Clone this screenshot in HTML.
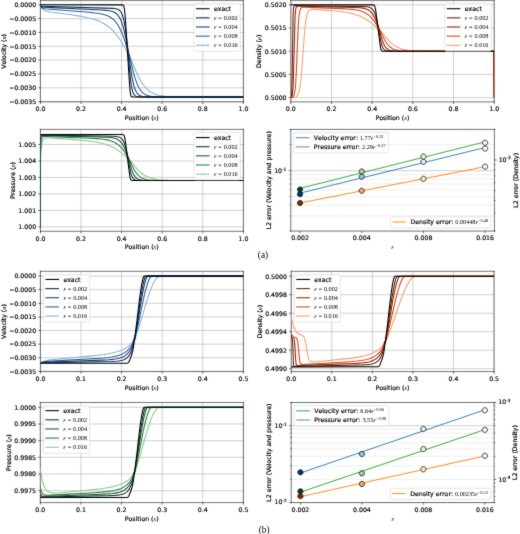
<!DOCTYPE html>
<html><head><meta charset="utf-8"><title>figure</title>
<style>html,body{margin:0;padding:0;background:#fff;width:520px;height:534px;overflow:hidden}svg{display:block}#fig{width:520px;height:534px}text{stroke:#000;stroke-width:0.3;stroke-linejoin:round}tspan[style*="Liberation Serif"]{stroke-width:0}#capa text,#capb text{stroke-width:0}</style></head><body>
<div id="fig"><svg width="520" height="534" viewBox="0 0 859.504132 882.644628" version="1.1">
 <defs>
  <style type="text/css">*{stroke-linejoin: round; stroke-linecap: butt}</style>
 </defs>
 <filter id="soft" x="0" y="0" width="1" height="1" color-interpolation-filters="sRGB"><feConvolveMatrix order="3" kernelMatrix="0.5 1 0.5 1 12 1 0.5 1 0.5" edgeMode="none" preserveAlpha="false"/></filter><g id="figure_1" filter="url(#soft)">
  <g id="patch_1">
   <path d="M 0 882.644628 
L 859.504132 882.644628 
L 859.504132 0 
L 0 0 
z
" style="fill: #ffffff"/>
  </g>
  <g id="axes_1">
   <g id="patch_2">
    <path d="M 66.77686 168.429752 
L 402.31405 168.429752 
L 402.31405 0.909091 
L 66.77686 0.909091 
z
" style="fill: #ffffff"/>
   </g>
   <g id="matplotlib.axis_1">
    <g id="xtick_1">
     <g id="line2d_1">
      <path d="M 66.77686 168.429752 
L 66.77686 0.909091 
" clip-path="url(#p1c1cfca3de)" style="fill: none; stroke: #b0b0b0; stroke-linecap: square"/>
     </g>
     <g id="line2d_2">
      <defs>
       <path id="md17ebd1823" d="M 0 0 
L 0 3.5 
" style="stroke: #000000; stroke-width: 0.9"/>
      </defs>
      <g>
       <use href="#md17ebd1823" x="66.77686" y="168.429752" style="stroke: #000000; stroke-width: 0.9"/>
      </g>
     </g>
     <g id="text_1">
      <text style="font-size: 10.3px; font-family: 'DejaVu Sans'; text-anchor: middle" x="66.77686" y="183.756143" transform="rotate(-0 66.77686 183.756143)">0.0</text>
     </g>
    </g>
    <g id="xtick_2">
     <g id="line2d_3">
      <path d="M 133.884298 168.429752 
L 133.884298 0.909091 
" clip-path="url(#p1c1cfca3de)" style="fill: none; stroke: #b0b0b0; stroke-linecap: square"/>
     </g>
     <g id="line2d_4">
      <g>
       <use href="#md17ebd1823" x="133.884298" y="168.429752" style="stroke: #000000; stroke-width: 0.9"/>
      </g>
     </g>
     <g id="text_2">
      <text style="font-size: 10.3px; font-family: 'DejaVu Sans'; text-anchor: middle" x="133.884298" y="183.756143" transform="rotate(-0 133.884298 183.756143)">0.2</text>
     </g>
    </g>
    <g id="xtick_3">
     <g id="line2d_5">
      <path d="M 200.991736 168.429752 
L 200.991736 0.909091 
" clip-path="url(#p1c1cfca3de)" style="fill: none; stroke: #b0b0b0; stroke-linecap: square"/>
     </g>
     <g id="line2d_6">
      <g>
       <use href="#md17ebd1823" x="200.991736" y="168.429752" style="stroke: #000000; stroke-width: 0.9"/>
      </g>
     </g>
     <g id="text_3">
      <text style="font-size: 10.3px; font-family: 'DejaVu Sans'; text-anchor: middle" x="200.991736" y="183.756143" transform="rotate(-0 200.991736 183.756143)">0.4</text>
     </g>
    </g>
    <g id="xtick_4">
     <g id="line2d_7">
      <path d="M 268.099174 168.429752 
L 268.099174 0.909091 
" clip-path="url(#p1c1cfca3de)" style="fill: none; stroke: #b0b0b0; stroke-linecap: square"/>
     </g>
     <g id="line2d_8">
      <g>
       <use href="#md17ebd1823" x="268.099174" y="168.429752" style="stroke: #000000; stroke-width: 0.9"/>
      </g>
     </g>
     <g id="text_4">
      <text style="font-size: 10.3px; font-family: 'DejaVu Sans'; text-anchor: middle" x="268.099174" y="183.756143" transform="rotate(-0 268.099174 183.756143)">0.6</text>
     </g>
    </g>
    <g id="xtick_5">
     <g id="line2d_9">
      <path d="M 335.206612 168.429752 
L 335.206612 0.909091 
" clip-path="url(#p1c1cfca3de)" style="fill: none; stroke: #b0b0b0; stroke-linecap: square"/>
     </g>
     <g id="line2d_10">
      <g>
       <use href="#md17ebd1823" x="335.206612" y="168.429752" style="stroke: #000000; stroke-width: 0.9"/>
      </g>
     </g>
     <g id="text_5">
      <text style="font-size: 10.3px; font-family: 'DejaVu Sans'; text-anchor: middle" x="335.206612" y="183.756143" transform="rotate(-0 335.206612 183.756143)">0.8</text>
     </g>
    </g>
    <g id="xtick_6">
     <g id="line2d_11">
      <path d="M 402.31405 168.429752 
L 402.31405 0.909091 
" clip-path="url(#p1c1cfca3de)" style="fill: none; stroke: #b0b0b0; stroke-linecap: square"/>
     </g>
     <g id="line2d_12">
      <g>
       <use href="#md17ebd1823" x="402.31405" y="168.429752" style="stroke: #000000; stroke-width: 0.9"/>
      </g>
     </g>
     <g id="text_6">
      <text style="font-size: 10.3px; font-family: 'DejaVu Sans'; text-anchor: middle" x="402.31405" y="183.756143" transform="rotate(-0 402.31405 183.756143)">1.0</text>
     </g>
    </g>
    <g id="text_7">
     <g transform="translate(206.323455 198.724611)">
      <text>
       <tspan x="0" y="-0.40625" style="font-size: 10.3px; font-family: 'DejaVu Sans'">P</tspan>
       <tspan x="6.18103" y="-0.40625" style="font-size: 10.3px; font-family: 'DejaVu Sans'">o</tspan>
       <tspan x="12.452148" y="-0.40625" style="font-size: 10.3px; font-family: 'DejaVu Sans'">s</tspan>
       <tspan x="17.792358" y="-0.40625" style="font-size: 10.3px; font-family: 'DejaVu Sans'">i</tspan>
       <tspan x="20.640137" y="-0.40625" style="font-size: 10.3px; font-family: 'DejaVu Sans'">t</tspan>
       <tspan x="24.659058" y="-0.40625" style="font-size: 10.3px; font-family: 'DejaVu Sans'">i</tspan>
       <tspan x="27.506836" y="-0.40625" style="font-size: 10.3px; font-family: 'DejaVu Sans'">o</tspan>
       <tspan x="33.777954" y="-0.40625" style="font-size: 10.3px; font-family: 'DejaVu Sans'">n</tspan>
       <tspan x="40.274292" y="-0.40625" style="font-size: 10.3px; font-family: 'DejaVu Sans'"> </tspan>
       <tspan x="43.532471" y="-0.40625" style="font-size: 10.3px; font-family: 'DejaVu Sans'">(</tspan>
       <tspan x="52.080811" y="-0.40625" style="font-size: 10.3px; font-family: 'DejaVu Sans'">)</tspan>
       <tspan x="47.531372" y="-0.40625" style="font-style: italic; font-size: 10.3px; font-family: 'Liberation Serif'">x</tspan>
      </text>
     </g>
    </g>
   </g>
   <g id="matplotlib.axis_2">
    <g id="ytick_1">
     <g id="line2d_13">
      <path d="M 66.77686 167.933884 
L 402.31405 167.933884 
" clip-path="url(#p1c1cfca3de)" style="fill: none; stroke: #b0b0b0; stroke-linecap: square"/>
     </g>
     <g id="line2d_14">
      <defs>
       <path id="md33abd68d2" d="M 0 0 
L -3.5 0 
" style="stroke: #000000; stroke-width: 0.9"/>
      </defs>
      <g>
       <use href="#md33abd68d2" x="66.77686" y="167.933884" style="stroke: #000000; stroke-width: 0.9"/>
      </g>
     </g>
     <g id="text_8">
      <text style="font-size: 10.3px; font-family: 'DejaVu Sans'; text-anchor: end" x="59.77686" y="171.84708" transform="rotate(-0 59.77686 171.84708)">−0.0035</text>
     </g>
    </g>
    <g id="ytick_2">
     <g id="line2d_15">
      <path d="M 66.77686 145.076741 
L 402.31405 145.076741 
" clip-path="url(#p1c1cfca3de)" style="fill: none; stroke: #b0b0b0; stroke-linecap: square"/>
     </g>
     <g id="line2d_16">
      <g>
       <use href="#md33abd68d2" x="66.77686" y="145.076741" style="stroke: #000000; stroke-width: 0.9"/>
      </g>
     </g>
     <g id="text_9">
      <text style="font-size: 10.3px; font-family: 'DejaVu Sans'; text-anchor: end" x="59.77686" y="148.989937" transform="rotate(-0 59.77686 148.989937)">−0.0030</text>
     </g>
    </g>
    <g id="ytick_3">
     <g id="line2d_17">
      <path d="M 66.77686 122.219599 
L 402.31405 122.219599 
" clip-path="url(#p1c1cfca3de)" style="fill: none; stroke: #b0b0b0; stroke-linecap: square"/>
     </g>
     <g id="line2d_18">
      <g>
       <use href="#md33abd68d2" x="66.77686" y="122.219599" style="stroke: #000000; stroke-width: 0.9"/>
      </g>
     </g>
     <g id="text_10">
      <text style="font-size: 10.3px; font-family: 'DejaVu Sans'; text-anchor: end" x="59.77686" y="126.132794" transform="rotate(-0 59.77686 126.132794)">−0.0025</text>
     </g>
    </g>
    <g id="ytick_4">
     <g id="line2d_19">
      <path d="M 66.77686 99.362456 
L 402.31405 99.362456 
" clip-path="url(#p1c1cfca3de)" style="fill: none; stroke: #b0b0b0; stroke-linecap: square"/>
     </g>
     <g id="line2d_20">
      <g>
       <use href="#md33abd68d2" x="66.77686" y="99.362456" style="stroke: #000000; stroke-width: 0.9"/>
      </g>
     </g>
     <g id="text_11">
      <text style="font-size: 10.3px; font-family: 'DejaVu Sans'; text-anchor: end" x="59.77686" y="103.275651" transform="rotate(-0 59.77686 103.275651)">−0.0020</text>
     </g>
    </g>
    <g id="ytick_5">
     <g id="line2d_21">
      <path d="M 66.77686 76.505313 
L 402.31405 76.505313 
" clip-path="url(#p1c1cfca3de)" style="fill: none; stroke: #b0b0b0; stroke-linecap: square"/>
     </g>
     <g id="line2d_22">
      <g>
       <use href="#md33abd68d2" x="66.77686" y="76.505313" style="stroke: #000000; stroke-width: 0.9"/>
      </g>
     </g>
     <g id="text_12">
      <text style="font-size: 10.3px; font-family: 'DejaVu Sans'; text-anchor: end" x="59.77686" y="80.418508" transform="rotate(-0 59.77686 80.418508)">−0.0015</text>
     </g>
    </g>
    <g id="ytick_6">
     <g id="line2d_23">
      <path d="M 66.77686 53.64817 
L 402.31405 53.64817 
" clip-path="url(#p1c1cfca3de)" style="fill: none; stroke: #b0b0b0; stroke-linecap: square"/>
     </g>
     <g id="line2d_24">
      <g>
       <use href="#md33abd68d2" x="66.77686" y="53.64817" style="stroke: #000000; stroke-width: 0.9"/>
      </g>
     </g>
     <g id="text_13">
      <text style="font-size: 10.3px; font-family: 'DejaVu Sans'; text-anchor: end" x="59.77686" y="57.561365" transform="rotate(-0 59.77686 57.561365)">−0.0010</text>
     </g>
    </g>
    <g id="ytick_7">
     <g id="line2d_25">
      <path d="M 66.77686 30.791027 
L 402.31405 30.791027 
" clip-path="url(#p1c1cfca3de)" style="fill: none; stroke: #b0b0b0; stroke-linecap: square"/>
     </g>
     <g id="line2d_26">
      <g>
       <use href="#md33abd68d2" x="66.77686" y="30.791027" style="stroke: #000000; stroke-width: 0.9"/>
      </g>
     </g>
     <g id="text_14">
      <text style="font-size: 10.3px; font-family: 'DejaVu Sans'; text-anchor: end" x="59.77686" y="34.704222" transform="rotate(-0 59.77686 34.704222)">−0.0005</text>
     </g>
    </g>
    <g id="ytick_8">
     <g id="line2d_27">
      <path d="M 66.77686 7.933884 
L 402.31405 7.933884 
" clip-path="url(#p1c1cfca3de)" style="fill: none; stroke: #b0b0b0; stroke-linecap: square"/>
     </g>
     <g id="line2d_28">
      <g>
       <use href="#md33abd68d2" x="66.77686" y="7.933884" style="stroke: #000000; stroke-width: 0.9"/>
      </g>
     </g>
     <g id="text_15">
      <text style="font-size: 10.3px; font-family: 'DejaVu Sans'; text-anchor: end" x="59.77686" y="11.84708" transform="rotate(-0 59.77686 11.84708)">0.0000</text>
     </g>
    </g>
    <g id="text_16">
     <g transform="translate(9.642438 113.509421) rotate(-90)">
      <text>
       <tspan x="0" y="-0.40625" style="font-size: 10.3px; font-family: 'DejaVu Sans'">V</tspan>
       <tspan x="7.011841" y="-0.40625" style="font-size: 10.3px; font-family: 'DejaVu Sans'">e</tspan>
       <tspan x="13.317993" y="-0.40625" style="font-size: 10.3px; font-family: 'DejaVu Sans'">l</tspan>
       <tspan x="16.165771" y="-0.40625" style="font-size: 10.3px; font-family: 'DejaVu Sans'">o</tspan>
       <tspan x="22.43689" y="-0.40625" style="font-size: 10.3px; font-family: 'DejaVu Sans'">c</tspan>
       <tspan x="28.072388" y="-0.40625" style="font-size: 10.3px; font-family: 'DejaVu Sans'">i</tspan>
       <tspan x="30.920166" y="-0.40625" style="font-size: 10.3px; font-family: 'DejaVu Sans'">t</tspan>
       <tspan x="34.939087" y="-0.40625" style="font-size: 10.3px; font-family: 'DejaVu Sans'">y</tspan>
       <tspan x="41.005005" y="-0.40625" style="font-size: 10.3px; font-family: 'DejaVu Sans'"> </tspan>
       <tspan x="44.263184" y="-0.40625" style="font-size: 10.3px; font-family: 'DejaVu Sans'">(</tspan>
       <tspan x="53.387085" y="-0.40625" style="font-size: 10.3px; font-family: 'DejaVu Sans'">)</tspan>
       <tspan x="48.262085" y="-0.40625" style="font-style: italic; font-size: 10.3px; font-family: 'Liberation Serif'">u</tspan>
      </text>
     </g>
    </g>
   </g>
   <g id="patch_3">
    <path d="M 66.77686 168.429752 
L 66.77686 0.909091 
" style="fill: none; stroke: #000000; stroke-width: 0.9; stroke-linejoin: miter; stroke-linecap: square"/>
   </g>
   <g id="patch_4">
    <path d="M 402.31405 168.429752 
L 402.31405 0.909091 
" style="fill: none; stroke: #000000; stroke-width: 0.9; stroke-linejoin: miter; stroke-linecap: square"/>
   </g>
   <g id="patch_5">
    <path d="M 66.77686 168.429752 
L 402.31405 168.429752 
" style="fill: none; stroke: #000000; stroke-width: 0.9; stroke-linejoin: miter; stroke-linecap: square"/>
   </g>
   <g id="patch_6">
    <path d="M 66.77686 0.909091 
L 402.31405 0.909091 
" style="fill: none; stroke: #000000; stroke-width: 0.9; stroke-linejoin: miter; stroke-linecap: square"/>
   </g>
   <g id="line2d_29">
    <path d="M 66.77686 7.953848 
L 67.783471 10.553585 
L 68.790083 12.535551 
L 69.796694 14.053743 
L 70.88719 15.308532 
L 72.06157 16.32716 
L 73.403719 17.19098 
L 74.997521 17.9344 
L 76.92686 18.574779 
L 79.527273 19.183942 
L 83.469835 19.851527 
L 91.690496 20.965093 
L 117.359091 24.402408 
L 129.270661 26.228348 
L 137.994628 27.780692 
L 144.957025 29.237235 
L 150.828926 30.68894 
L 155.861983 32.157823 
L 160.307851 33.681265 
L 164.334298 35.29123 
L 168.025207 37.001683 
L 171.464463 38.835969 
L 174.73595 40.831661 
L 177.839669 42.98364 
L 180.859504 45.349289 
L 183.795455 47.933555 
L 186.647521 50.735994 
L 189.499587 53.84609 
L 192.435537 57.384856 
L 195.371488 61.274702 
L 198.475207 65.767772 
L 201.746694 70.910699 
L 205.269835 76.872471 
L 209.380165 84.280615 
L 215.252066 95.376654 
L 217.097521 99.121707 
L 222.382231 112.33803 
L 225.653719 119.933372 
L 228.421901 125.828948 
L 231.022314 130.851681 
L 233.454959 135.069996 
L 235.803719 138.698263 
L 238.068595 141.793959 
L 240.333471 144.514129 
L 242.598347 146.885249 
L 244.863223 148.937668 
L 247.211983 150.763754 
L 249.644628 152.368186 
L 252.161157 153.760811 
L 254.845455 154.990307 
L 257.697521 156.053654 
L 260.885124 156.99925 
L 264.408264 157.806583 
L 268.434711 158.49409 
L 273.132231 159.062953 
L 278.836364 159.520134 
L 286.134298 159.86863 
L 296.200413 160.109686 
L 312.390083 160.248884 
L 351.060744 160.297442 
L 402.31405 160.299566 
L 402.31405 160.299566 
" clip-path="url(#p1c1cfca3de)" style="fill: none; stroke: #86b4d8; stroke-width: 1.8; stroke-linecap: square"/>
   </g>
   <g id="line2d_30">
    <path d="M 66.77686 7.933963 
L 67.447934 9.960554 
L 68.119008 11.346911 
L 68.873967 12.396719 
L 69.71281 13.15414 
L 70.635537 13.681281 
L 71.809917 14.087914 
L 73.487603 14.416056 
L 76.507438 14.744277 
L 87.66405 15.60733 
L 141.93719 19.81877 
L 153.513223 20.934723 
L 160.727273 21.843505 
L 166.011983 22.725969 
L 170.206198 23.644878 
L 173.729339 24.639549 
L 176.749174 25.716051 
L 179.433471 26.900802 
L 181.866116 28.208405 
L 184.130992 29.67106 
L 186.311983 31.347667 
L 188.325207 33.169792 
L 190.33843 35.296613 
L 192.267769 37.659721 
L 194.197107 40.378745 
L 196.126446 43.489326 
L 198.055785 47.022716 
L 200.069008 51.185928 
L 202.166116 56.053825 
L 204.347107 61.684881 
L 206.779752 68.603285 
L 209.631818 77.432798 
L 213.658264 90.721135 
L 214.580992 94.193701 
L 218.439669 111.126793 
L 220.78843 120.448409 
L 222.801653 127.552454 
L 224.647107 133.261214 
L 226.408678 137.981584 
L 228.086364 141.839651 
L 229.680165 144.96928 
L 231.273967 147.625976 
L 232.867769 149.862438 
L 234.46157 151.731917 
L 236.139256 153.359363 
L 237.900826 154.751182 
L 239.746281 155.921154 
L 241.759504 156.925339 
L 243.940496 157.760116 
L 246.37314 158.453445 
L 249.225207 159.031566 
L 252.664463 159.494907 
L 257.026446 159.848401 
L 263.066116 160.097451 
L 272.628926 160.243009 
L 294.522727 160.296538 
L 402.31405 160.299599 
L 402.31405 160.299599 
" clip-path="url(#p1c1cfca3de)" style="fill: none; stroke: #2d5f94; stroke-width: 1.8; stroke-linecap: square"/>
   </g>
   <g id="line2d_31">
    <path d="M 66.77686 7.933884 
L 67.280165 9.637667 
L 67.783471 10.589062 
L 68.370661 11.188378 
L 69.041736 11.532653 
L 70.048347 11.75966 
L 72.06157 11.924891 
L 86.405785 12.598649 
L 168.360744 16.516071 
L 175.490909 17.0842 
L 179.852893 17.639464 
L 183.12438 18.273889 
L 185.724793 19.003301 
L 187.905785 19.846635 
L 189.75124 20.790148 
L 191.428926 21.889749 
L 193.022727 23.206655 
L 194.532645 24.759069 
L 195.958678 26.557291 
L 197.300826 28.601209 
L 198.642975 31.043852 
L 199.985124 33.944635 
L 201.327273 37.362384 
L 202.753306 41.619879 
L 204.263223 46.884484 
L 205.857025 53.315437 
L 207.534711 61.028984 
L 209.547934 71.401368 
L 212.4 87.446717 
L 212.98719 91.331763 
L 215.755372 112.012235 
L 217.433058 122.944829 
L 218.859091 130.88211 
L 220.20124 137.146953 
L 221.459504 142.000618 
L 222.717769 145.959696 
L 223.892149 148.949407 
L 225.066529 151.359538 
L 226.240909 153.285438 
L 227.415289 154.813607 
L 228.673554 156.094977 
L 230.015702 157.14132 
L 231.441736 157.974135 
L 233.035537 158.650975 
L 234.880992 159.194529 
L 237.145868 159.624399 
L 240.081818 159.943689 
L 244.276033 160.157263 
L 251.490083 160.270228 
L 273.467769 160.299359 
L 402.31405 160.299599 
L 402.31405 160.299599 
" clip-path="url(#p1c1cfca3de)" style="fill: none; stroke: #173f73; stroke-width: 1.8; stroke-linecap: square"/>
   </g>
   <g id="line2d_32">
    <path d="M 66.77686 7.933884 
L 67.112397 9.211294 
L 67.447934 9.792929 
L 67.867355 10.101309 
L 68.53843 10.259002 
L 70.383884 10.346733 
L 187.402479 13.913247 
L 190.673967 14.310564 
L 192.938843 14.805443 
L 194.700413 15.420255 
L 196.126446 16.151215 
L 197.384711 17.04722 
L 198.559091 18.174668 
L 199.649587 19.554729 
L 200.656198 21.19435 
L 201.66281 23.274093 
L 202.669421 25.894455 
L 203.676033 29.166696 
L 204.682645 33.206416 
L 205.77314 38.57445 
L 206.863636 45.076136 
L 208.121901 54.03559 
L 209.547934 65.936126 
L 211.561157 84.893159 
L 212.064463 90.645369 
L 213.993802 114.613121 
L 215.252066 127.521643 
L 216.342562 136.426089 
L 217.349174 142.815875 
L 218.271901 147.319533 
L 219.194628 150.749375 
L 220.117355 153.32052 
L 221.040083 155.225227 
L 221.96281 156.623871 
L 222.885537 157.644284 
L 223.892149 158.441486 
L 225.066529 159.076993 
L 226.408678 159.543215 
L 228.086364 159.885278 
L 230.435124 160.121508 
L 234.293802 160.255192 
L 244.02438 160.298264 
L 402.31405 160.299599 
L 402.31405 160.299599 
" clip-path="url(#p1c1cfca3de)" style="fill: none; stroke: #0b2a58; stroke-width: 1.8; stroke-linecap: square"/>
   </g>
   <g id="line2d_33">
    <path d="M 66.77686 7.933884 
L 202.333884 8.034705 
L 203.172727 8.245227 
L 203.759917 8.61306 
L 204.179339 9.107835 
L 204.59876 9.934154 
L 205.018182 11.266489 
L 205.437603 13.307657 
L 205.940909 16.931437 
L 206.528099 22.86986 
L 207.366942 33.876904 
L 208.960744 58.443992 
L 214.245455 141.248712 
L 215.084298 150.56403 
L 215.671488 154.925826 
L 216.174793 157.283617 
L 216.678099 158.679802 
L 217.181405 159.453116 
L 217.768595 159.91009 
L 218.523554 160.158063 
L 219.781818 160.273735 
L 223.892149 160.2995 
L 402.31405 160.299599 
L 402.31405 160.299599 
" clip-path="url(#p1c1cfca3de)" style="fill: none; stroke: #000000; stroke-width: 1.8; stroke-linecap: square"/>
   </g>
   <g id="legend_1">
    <g id="patch_7">
     <path d="M 322.79805 84.741435 
L 395.10405 84.741435 
Q 397.16405 84.741435 397.16405 82.681435 
L 397.16405 8.119091 
Q 397.16405 6.059091 395.10405 6.059091 
L 322.79805 6.059091 
Q 320.73805 6.059091 320.73805 8.119091 
L 320.73805 82.681435 
Q 320.73805 84.741435 322.79805 84.741435 
z
" style="fill: #ffffff; opacity: 0.8; stroke: #cccccc; stroke-linejoin: miter"/>
    </g>
    <g id="line2d_34">
     <path d="M 324.85805 14.400482 
L 335.15805 14.400482 
L 345.45805 14.400482 
" style="fill: none; stroke: #000000; stroke-width: 1.8; stroke-linecap: square"/>
    </g>
    <g id="text_17">
     <text style="font-size: 10.3px; font-family: 'DejaVu Sans'; text-anchor: start" x="353.69805" y="18.005482" transform="rotate(-0 353.69805 18.005482)">exact</text>
    </g>
    <g id="line2d_35">
     <path d="M 324.85805 29.51895 
L 335.15805 29.51895 
L 345.45805 29.51895 
" style="fill: none; stroke: #0b2a58; stroke-width: 1.8; stroke-linecap: square"/>
    </g>
    <g id="text_18">
     <g transform="translate(353.69805 33.12395)">
      <text>
       <tspan x="0" y="-0.34375" style="font-style: italic; font-size: 10.3px; font-family: 'Liberation Serif'">ε</tspan>
       <tspan x="7.164306" y="-0.34375" style="font-size: 10.3px; font-family: 'Liberation Serif'">=</tspan>
       <tspan x="16.070312" y="-0.34375" style="font-size: 10.3px; font-family: 'Liberation Serif'">0</tspan>
       <tspan x="21.195312" y="-0.34375" style="font-size: 10.3px; font-family: 'Liberation Serif'">.</tspan>
       <tspan x="23.757812" y="-0.34375" style="font-size: 10.3px; font-family: 'Liberation Serif'">0</tspan>
       <tspan x="28.882812" y="-0.34375" style="font-size: 10.3px; font-family: 'Liberation Serif'">0</tspan>
       <tspan x="34.007812" y="-0.34375" style="font-size: 10.3px; font-family: 'Liberation Serif'">2</tspan>
      </text>
     </g>
    </g>
    <g id="line2d_36">
     <path d="M 324.85805 44.637419 
L 335.15805 44.637419 
L 345.45805 44.637419 
" style="fill: none; stroke: #173f73; stroke-width: 1.8; stroke-linecap: square"/>
    </g>
    <g id="text_19">
     <g transform="translate(353.69805 48.242419)">
      <text>
       <tspan x="0" y="-0.34375" style="font-style: italic; font-size: 10.3px; font-family: 'Liberation Serif'">ε</tspan>
       <tspan x="7.164306" y="-0.34375" style="font-size: 10.3px; font-family: 'Liberation Serif'">=</tspan>
       <tspan x="16.070312" y="-0.34375" style="font-size: 10.3px; font-family: 'Liberation Serif'">0</tspan>
       <tspan x="21.195312" y="-0.34375" style="font-size: 10.3px; font-family: 'Liberation Serif'">.</tspan>
       <tspan x="23.757812" y="-0.34375" style="font-size: 10.3px; font-family: 'Liberation Serif'">0</tspan>
       <tspan x="28.882812" y="-0.34375" style="font-size: 10.3px; font-family: 'Liberation Serif'">0</tspan>
       <tspan x="34.007812" y="-0.34375" style="font-size: 10.3px; font-family: 'Liberation Serif'">4</tspan>
      </text>
     </g>
    </g>
    <g id="line2d_37">
     <path d="M 324.85805 59.755888 
L 335.15805 59.755888 
L 345.45805 59.755888 
" style="fill: none; stroke: #2d5f94; stroke-width: 1.8; stroke-linecap: square"/>
    </g>
    <g id="text_20">
     <g transform="translate(353.69805 63.360888)">
      <text>
       <tspan x="0" y="-0.34375" style="font-style: italic; font-size: 10.3px; font-family: 'Liberation Serif'">ε</tspan>
       <tspan x="7.164306" y="-0.34375" style="font-size: 10.3px; font-family: 'Liberation Serif'">=</tspan>
       <tspan x="16.070312" y="-0.34375" style="font-size: 10.3px; font-family: 'Liberation Serif'">0</tspan>
       <tspan x="21.195312" y="-0.34375" style="font-size: 10.3px; font-family: 'Liberation Serif'">.</tspan>
       <tspan x="23.757812" y="-0.34375" style="font-size: 10.3px; font-family: 'Liberation Serif'">0</tspan>
       <tspan x="28.882812" y="-0.34375" style="font-size: 10.3px; font-family: 'Liberation Serif'">0</tspan>
       <tspan x="34.007812" y="-0.34375" style="font-size: 10.3px; font-family: 'Liberation Serif'">8</tspan>
      </text>
     </g>
    </g>
    <g id="line2d_38">
     <path d="M 324.85805 74.874357 
L 335.15805 74.874357 
L 345.45805 74.874357 
" style="fill: none; stroke: #86b4d8; stroke-width: 1.8; stroke-linecap: square"/>
    </g>
    <g id="text_21">
     <g transform="translate(353.69805 78.479357)">
      <text>
       <tspan x="0" y="-0.34375" style="font-style: italic; font-size: 10.3px; font-family: 'Liberation Serif'">ε</tspan>
       <tspan x="7.164306" y="-0.34375" style="font-size: 10.3px; font-family: 'Liberation Serif'">=</tspan>
       <tspan x="16.070312" y="-0.34375" style="font-size: 10.3px; font-family: 'Liberation Serif'">0</tspan>
       <tspan x="21.195312" y="-0.34375" style="font-size: 10.3px; font-family: 'Liberation Serif'">.</tspan>
       <tspan x="23.757812" y="-0.34375" style="font-size: 10.3px; font-family: 'Liberation Serif'">0</tspan>
       <tspan x="28.882812" y="-0.34375" style="font-size: 10.3px; font-family: 'Liberation Serif'">1</tspan>
       <tspan x="34.007812" y="-0.34375" style="font-size: 10.3px; font-family: 'Liberation Serif'">6</tspan>
      </text>
     </g>
    </g>
   </g>
  </g>
  <g id="axes_2">
   <g id="patch_8">
    <path d="M 480.661157 168.429752 
L 816.859504 168.429752 
L 816.859504 0.909091 
L 480.661157 0.909091 
z
" style="fill: #ffffff"/>
   </g>
   <g id="matplotlib.axis_3">
    <g id="xtick_7">
     <g id="line2d_39">
      <path d="M 480.661157 168.429752 
L 480.661157 0.909091 
" clip-path="url(#p48ea57be88)" style="fill: none; stroke: #b0b0b0; stroke-linecap: square"/>
     </g>
     <g id="line2d_40">
      <g>
       <use href="#md17ebd1823" x="480.661157" y="168.429752" style="stroke: #000000; stroke-width: 0.9"/>
      </g>
     </g>
     <g id="text_22">
      <text style="font-size: 10.3px; font-family: 'DejaVu Sans'; text-anchor: middle" x="480.661157" y="183.756143" transform="rotate(-0 480.661157 183.756143)">0.0</text>
     </g>
    </g>
    <g id="xtick_8">
     <g id="line2d_41">
      <path d="M 547.900826 168.429752 
L 547.900826 0.909091 
" clip-path="url(#p48ea57be88)" style="fill: none; stroke: #b0b0b0; stroke-linecap: square"/>
     </g>
     <g id="line2d_42">
      <g>
       <use href="#md17ebd1823" x="547.900826" y="168.429752" style="stroke: #000000; stroke-width: 0.9"/>
      </g>
     </g>
     <g id="text_23">
      <text style="font-size: 10.3px; font-family: 'DejaVu Sans'; text-anchor: middle" x="547.900826" y="183.756143" transform="rotate(-0 547.900826 183.756143)">0.2</text>
     </g>
    </g>
    <g id="xtick_9">
     <g id="line2d_43">
      <path d="M 615.140496 168.429752 
L 615.140496 0.909091 
" clip-path="url(#p48ea57be88)" style="fill: none; stroke: #b0b0b0; stroke-linecap: square"/>
     </g>
     <g id="line2d_44">
      <g>
       <use href="#md17ebd1823" x="615.140496" y="168.429752" style="stroke: #000000; stroke-width: 0.9"/>
      </g>
     </g>
     <g id="text_24">
      <text style="font-size: 10.3px; font-family: 'DejaVu Sans'; text-anchor: middle" x="615.140496" y="183.756143" transform="rotate(-0 615.140496 183.756143)">0.4</text>
     </g>
    </g>
    <g id="xtick_10">
     <g id="line2d_45">
      <path d="M 682.380165 168.429752 
L 682.380165 0.909091 
" clip-path="url(#p48ea57be88)" style="fill: none; stroke: #b0b0b0; stroke-linecap: square"/>
     </g>
     <g id="line2d_46">
      <g>
       <use href="#md17ebd1823" x="682.380165" y="168.429752" style="stroke: #000000; stroke-width: 0.9"/>
      </g>
     </g>
     <g id="text_25">
      <text style="font-size: 10.3px; font-family: 'DejaVu Sans'; text-anchor: middle" x="682.380165" y="183.756143" transform="rotate(-0 682.380165 183.756143)">0.6</text>
     </g>
    </g>
    <g id="xtick_11">
     <g id="line2d_47">
      <path d="M 749.619835 168.429752 
L 749.619835 0.909091 
" clip-path="url(#p48ea57be88)" style="fill: none; stroke: #b0b0b0; stroke-linecap: square"/>
     </g>
     <g id="line2d_48">
      <g>
       <use href="#md17ebd1823" x="749.619835" y="168.429752" style="stroke: #000000; stroke-width: 0.9"/>
      </g>
     </g>
     <g id="text_26">
      <text style="font-size: 10.3px; font-family: 'DejaVu Sans'; text-anchor: middle" x="749.619835" y="183.756143" transform="rotate(-0 749.619835 183.756143)">0.8</text>
     </g>
    </g>
    <g id="xtick_12">
     <g id="line2d_49">
      <path d="M 816.859504 168.429752 
L 816.859504 0.909091 
" clip-path="url(#p48ea57be88)" style="fill: none; stroke: #b0b0b0; stroke-linecap: square"/>
     </g>
     <g id="line2d_50">
      <g>
       <use href="#md17ebd1823" x="816.859504" y="168.429752" style="stroke: #000000; stroke-width: 0.9"/>
      </g>
     </g>
     <g id="text_27">
      <text style="font-size: 10.3px; font-family: 'DejaVu Sans'; text-anchor: middle" x="816.859504" y="183.756143" transform="rotate(-0 816.859504 183.756143)">1.0</text>
     </g>
    </g>
    <g id="text_28">
     <g transform="translate(620.538331 198.724611)">
      <text>
       <tspan x="0" y="-0.40625" style="font-size: 10.3px; font-family: 'DejaVu Sans'">P</tspan>
       <tspan x="6.18103" y="-0.40625" style="font-size: 10.3px; font-family: 'DejaVu Sans'">o</tspan>
       <tspan x="12.452148" y="-0.40625" style="font-size: 10.3px; font-family: 'DejaVu Sans'">s</tspan>
       <tspan x="17.792358" y="-0.40625" style="font-size: 10.3px; font-family: 'DejaVu Sans'">i</tspan>
       <tspan x="20.640137" y="-0.40625" style="font-size: 10.3px; font-family: 'DejaVu Sans'">t</tspan>
       <tspan x="24.659058" y="-0.40625" style="font-size: 10.3px; font-family: 'DejaVu Sans'">i</tspan>
       <tspan x="27.506836" y="-0.40625" style="font-size: 10.3px; font-family: 'DejaVu Sans'">o</tspan>
       <tspan x="33.777954" y="-0.40625" style="font-size: 10.3px; font-family: 'DejaVu Sans'">n</tspan>
       <tspan x="40.274292" y="-0.40625" style="font-size: 10.3px; font-family: 'DejaVu Sans'"> </tspan>
       <tspan x="43.532471" y="-0.40625" style="font-size: 10.3px; font-family: 'DejaVu Sans'">(</tspan>
       <tspan x="52.080811" y="-0.40625" style="font-size: 10.3px; font-family: 'DejaVu Sans'">)</tspan>
       <tspan x="47.531372" y="-0.40625" style="font-style: italic; font-size: 10.3px; font-family: 'Liberation Serif'">x</tspan>
      </text>
     </g>
    </g>
   </g>
   <g id="matplotlib.axis_4">
    <g id="ytick_9">
     <g id="line2d_51">
      <path d="M 480.661157 161.487603 
L 816.859504 161.487603 
" clip-path="url(#p48ea57be88)" style="fill: none; stroke: #b0b0b0; stroke-linecap: square"/>
     </g>
     <g id="line2d_52">
      <g>
       <use href="#md33abd68d2" x="480.661157" y="161.487603" style="stroke: #000000; stroke-width: 0.9"/>
      </g>
     </g>
     <g id="text_29">
      <text style="font-size: 10.3px; font-family: 'DejaVu Sans'; text-anchor: end" x="473.661157" y="165.400799" transform="rotate(-0 473.661157 165.400799)">0.5000</text>
     </g>
    </g>
    <g id="ytick_10">
     <g id="line2d_53">
      <path d="M 480.661157 123.099174 
L 816.859504 123.099174 
" clip-path="url(#p48ea57be88)" style="fill: none; stroke: #b0b0b0; stroke-linecap: square"/>
     </g>
     <g id="line2d_54">
      <g>
       <use href="#md33abd68d2" x="480.661157" y="123.099174" style="stroke: #000000; stroke-width: 0.9"/>
      </g>
     </g>
     <g id="text_30">
      <text style="font-size: 10.3px; font-family: 'DejaVu Sans'; text-anchor: end" x="473.661157" y="127.012369" transform="rotate(-0 473.661157 127.012369)">0.5005</text>
     </g>
    </g>
    <g id="ytick_11">
     <g id="line2d_55">
      <path d="M 480.661157 84.710744 
L 816.859504 84.710744 
" clip-path="url(#p48ea57be88)" style="fill: none; stroke: #b0b0b0; stroke-linecap: square"/>
     </g>
     <g id="line2d_56">
      <g>
       <use href="#md33abd68d2" x="480.661157" y="84.710744" style="stroke: #000000; stroke-width: 0.9"/>
      </g>
     </g>
     <g id="text_31">
      <text style="font-size: 10.3px; font-family: 'DejaVu Sans'; text-anchor: end" x="473.661157" y="88.623939" transform="rotate(-0 473.661157 88.623939)">0.5010</text>
     </g>
    </g>
    <g id="ytick_12">
     <g id="line2d_57">
      <path d="M 480.661157 46.322314 
L 816.859504 46.322314 
" clip-path="url(#p48ea57be88)" style="fill: none; stroke: #b0b0b0; stroke-linecap: square"/>
     </g>
     <g id="line2d_58">
      <g>
       <use href="#md33abd68d2" x="480.661157" y="46.322314" style="stroke: #000000; stroke-width: 0.9"/>
      </g>
     </g>
     <g id="text_32">
      <text style="font-size: 10.3px; font-family: 'DejaVu Sans'; text-anchor: end" x="473.661157" y="50.235509" transform="rotate(-0 473.661157 50.235509)">0.5015</text>
     </g>
    </g>
    <g id="ytick_13">
     <g id="line2d_59">
      <path d="M 480.661157 7.933884 
L 816.859504 7.933884 
" clip-path="url(#p48ea57be88)" style="fill: none; stroke: #b0b0b0; stroke-linecap: square"/>
     </g>
     <g id="line2d_60">
      <g>
       <use href="#md33abd68d2" x="480.661157" y="7.933884" style="stroke: #000000; stroke-width: 0.9"/>
      </g>
     </g>
     <g id="text_33">
      <text style="font-size: 10.3px; font-family: 'DejaVu Sans'; text-anchor: end" x="473.661157" y="11.84708" transform="rotate(-0 473.661157 11.84708)">0.5020</text>
     </g>
    </g>
    <g id="text_34">
     <g transform="translate(432.054813 112.376421) rotate(-90)">
      <text>
       <tspan x="0" y="-0.40625" style="font-size: 10.3px; font-family: 'DejaVu Sans'">D</tspan>
       <tspan x="7.8927" y="-0.40625" style="font-size: 10.3px; font-family: 'DejaVu Sans'">e</tspan>
       <tspan x="14.198853" y="-0.40625" style="font-size: 10.3px; font-family: 'DejaVu Sans'">n</tspan>
       <tspan x="20.69519" y="-0.40625" style="font-size: 10.3px; font-family: 'DejaVu Sans'">s</tspan>
       <tspan x="26.0354" y="-0.40625" style="font-size: 10.3px; font-family: 'DejaVu Sans'">i</tspan>
       <tspan x="28.883179" y="-0.40625" style="font-size: 10.3px; font-family: 'DejaVu Sans'">t</tspan>
       <tspan x="32.9021" y="-0.40625" style="font-size: 10.3px; font-family: 'DejaVu Sans'">y</tspan>
       <tspan x="38.968018" y="-0.40625" style="font-size: 10.3px; font-family: 'DejaVu Sans'"> </tspan>
       <tspan x="42.226196" y="-0.40625" style="font-size: 10.3px; font-family: 'DejaVu Sans'">(</tspan>
       <tspan x="51.144897" y="-0.40625" style="font-size: 10.3px; font-family: 'DejaVu Sans'">)</tspan>
       <tspan x="46.225098" y="-0.40625" style="font-style: italic; font-size: 10.3px; font-family: 'Liberation Serif'">ρ</tspan>
      </text>
     </g>
    </g>
   </g>
   <g id="patch_9">
    <path d="M 480.661157 168.429752 
L 480.661157 0.909091 
" style="fill: none; stroke: #000000; stroke-width: 0.9; stroke-linejoin: miter; stroke-linecap: square"/>
   </g>
   <g id="patch_10">
    <path d="M 816.859504 168.429752 
L 816.859504 0.909091 
" style="fill: none; stroke: #000000; stroke-width: 0.9; stroke-linejoin: miter; stroke-linecap: square"/>
   </g>
   <g id="patch_11">
    <path d="M 480.661157 168.429752 
L 816.859504 168.429752 
" style="fill: none; stroke: #000000; stroke-width: 0.9; stroke-linejoin: miter; stroke-linecap: square"/>
   </g>
   <g id="patch_12">
    <path d="M 480.661157 0.909091 
L 816.859504 0.909091 
" style="fill: none; stroke: #000000; stroke-width: 0.9; stroke-linejoin: miter; stroke-linecap: square"/>
   </g>
   <g id="line2d_61">
    <path d="M 480.661157 161.437786 
L 484.611488 161.249643 
L 486.712727 160.941685 
L 488.22562 160.496512 
L 489.402314 159.914187 
L 490.410909 159.153547 
L 491.251405 158.251522 
L 492.091901 157.011644 
L 492.848347 155.510937 
L 493.604793 153.535055 
L 494.36124 150.954593 
L 495.117686 147.620104 
L 495.958182 142.833991 
L 496.798678 136.702928 
L 497.723223 128.215062 
L 498.731818 116.827515 
L 500.076612 98.787354 
L 503.186446 55.878347 
L 504.279091 44.296651 
L 505.287686 35.939112 
L 506.212231 30.103282 
L 507.052727 26.086917 
L 507.893223 23.067233 
L 508.733719 20.832706 
L 509.574215 19.20066 
L 510.414711 18.02217 
L 511.339256 17.111128 
L 512.347851 16.445733 
L 513.440496 15.990083 
L 514.785289 15.674276 
L 516.550331 15.500856 
L 519.155868 15.489613 
L 524.030744 15.732559 
L 537.478678 16.689577 
L 551.17876 17.853771 
L 560.928512 18.895697 
L 568.577025 19.930861 
L 574.880744 21.002824 
L 580.343967 22.154265 
L 585.134793 23.38577 
L 589.505372 24.734176 
L 593.539752 26.206768 
L 597.406033 27.855831 
L 601.104215 29.67796 
L 604.718347 31.710848 
L 608.24843 33.950436 
L 611.862562 36.507693 
L 615.644793 39.461352 
L 619.763223 42.968332 
L 624.638099 47.426771 
L 631.025868 53.558852 
L 636.825289 60.847723 
L 640.355372 64.93024 
L 643.381157 68.10276 
L 646.238843 70.780266 
L 648.92843 73.00417 
L 651.618017 74.943838 
L 654.307603 76.613121 
L 657.08124 78.073824 
L 659.938926 79.331002 
L 663.04876 80.450754 
L 666.410744 81.415858 
L 670.108926 82.237744 
L 674.227355 82.921521 
L 679.018182 83.487752 
L 684.817603 83.9422 
L 692.213967 84.287476 
L 702.468017 84.526379 
L 719.025785 84.66278 
L 759.369587 84.708952 
L 816.271157 84.780674 
L 816.355207 85.079621 
L 816.439256 86.624346 
L 816.523306 93.862755 
L 816.859504 160.772353 
L 816.859504 160.772353 
" clip-path="url(#p48ea57be88)" style="fill: none; stroke: #f4a070; stroke-width: 1.8; stroke-linecap: square"/>
   </g>
   <g id="line2d_62">
    <path d="M 480.661157 161.376456 
L 482.342149 161.133515 
L 483.350744 160.778951 
L 484.10719 160.296926 
L 484.779587 159.60251 
L 485.367934 158.675816 
L 485.956281 157.306411 
L 486.544628 155.298089 
L 487.132975 152.385277 
L 487.721322 148.227965 
L 488.309669 142.428539 
L 488.982066 133.286488 
L 489.738512 119.375875 
L 490.663058 97.743961 
L 492.680248 49.232675 
L 493.436694 36.44588 
L 494.109091 28.232912 
L 494.781488 22.501541 
L 495.453884 18.647494 
L 496.126281 16.122059 
L 496.798678 14.497245 
L 497.471074 13.466277 
L 498.143471 12.820026 
L 498.899917 12.382718 
L 499.908512 12.078428 
L 501.337355 11.918507 
L 503.858843 11.909108 
L 512.68405 12.222258 
L 562.861653 14.240058 
L 574.544545 14.92456 
L 581.77281 15.558453 
L 587.151983 16.246644 
L 591.438512 17.014664 
L 595.052645 17.885457 
L 598.162479 18.857518 
L 600.936116 19.948332 
L 603.541653 21.210328 
L 605.979091 22.639216 
L 608.332479 24.282802 
L 610.601818 26.144168 
L 612.871157 28.302258 
L 615.140496 30.774061 
L 617.493884 33.673814 
L 620.015372 37.145417 
L 622.873058 41.478551 
L 626.57124 47.528614 
L 628.756529 51.400079 
L 632.70686 60.108721 
L 635.144298 64.944903 
L 637.245537 68.625008 
L 639.178678 71.566663 
L 641.027769 73.979377 
L 642.79281 75.934097 
L 644.641901 77.64805 
L 646.490992 79.059208 
L 648.424132 80.255985 
L 650.525372 81.28696 
L 652.794711 82.144954 
L 655.316198 82.8558 
L 658.257934 83.445058 
L 661.788017 83.913623 
L 666.242645 84.267583 
L 672.378264 84.514045 
L 682.128017 84.65684 
L 704.905455 84.708136 
L 816.271157 84.780691 
L 816.355207 85.079638 
L 816.439256 86.624363 
L 816.523306 93.86277 
L 816.859504 160.772353 
L 816.859504 160.772353 
" clip-path="url(#p48ea57be88)" style="fill: none; stroke: #d04a20; stroke-width: 1.8; stroke-linecap: square"/>
   </g>
   <g id="line2d_63">
    <path d="M 480.661157 161.259479 
L 481.333554 160.97664 
L 481.837851 160.553392 
L 482.258099 159.945605 
L 482.678347 158.94906 
L 483.098595 157.326344 
L 483.518843 154.713487 
L 483.939091 150.581409 
L 484.359339 144.229312 
L 484.863636 132.588056 
L 485.451983 112.479606 
L 487.553223 31.700783 
L 488.057521 22.664902 
L 488.561818 17.190279 
L 489.066116 14.023438 
L 489.570413 12.242107 
L 490.074711 11.257556 
L 490.579008 10.720384 
L 491.167355 10.398289 
L 492.007851 10.209554 
L 493.520744 10.144781 
L 499.404215 10.262867 
L 586.647686 12.410137 
L 593.791901 12.811214 
L 598.246529 13.271795 
L 601.524463 13.82699 
L 604.13 14.48709 
L 606.315289 15.261944 
L 608.24843 16.177923 
L 610.013471 17.259828 
L 611.610413 18.49038 
L 613.207355 20.009528 
L 614.720248 21.760388 
L 616.23314 23.856396 
L 617.746033 26.332284 
L 619.342975 29.382002 
L 621.023967 33.077606 
L 622.957107 37.892171 
L 625.394545 44.612424 
L 627.159587 49.957953 
L 630.017273 60.672659 
L 631.698264 66.141189 
L 633.211157 70.314043 
L 634.55595 73.398143 
L 635.900744 75.923221 
L 637.161488 77.834803 
L 638.422231 79.366024 
L 639.767025 80.648987 
L 641.195868 81.69184 
L 642.70876 82.515239 
L 644.389752 83.175433 
L 646.406942 83.714925 
L 648.84438 84.12263 
L 652.038264 84.416796 
L 656.745041 84.60533 
L 665.570248 84.69539 
L 703.560661 84.71074 
L 816.271157 84.780691 
L 816.355207 85.079638 
L 816.439256 86.624363 
L 816.523306 93.86277 
L 816.859504 160.772353 
L 816.859504 160.772353 
" clip-path="url(#p48ea57be88)" style="fill: none; stroke: #8c2a10; stroke-width: 1.8; stroke-linecap: square"/>
   </g>
   <g id="line2d_64">
    <path d="M 480.661157 161.052756 
L 480.997355 160.611231 
L 481.333554 159.726597 
L 481.669752 157.969726 
L 482.00595 154.540959 
L 482.342149 148.071514 
L 482.678347 136.607963 
L 483.098595 112.749839 
L 484.359339 29.235477 
L 484.779587 18.186756 
L 485.199835 13.044223 
L 485.536033 11.113101 
L 485.956281 9.987188 
L 486.376529 9.518563 
L 486.880826 9.305336 
L 487.805372 9.217747 
L 491.671653 9.256323 
L 601.440413 10.943229 
L 605.810992 11.24223 
L 608.500579 11.636692 
L 610.517769 12.154052 
L 612.114711 12.789697 
L 613.459504 13.555717 
L 614.720248 14.539144 
L 615.896942 15.762677 
L 616.989587 17.234622 
L 618.082231 19.103459 
L 619.174876 21.442867 
L 620.267521 24.319078 
L 621.444215 28.06781 
L 622.704959 32.838137 
L 624.217851 39.461195 
L 626.066942 48.501953 
L 628.168182 61.689395 
L 629.428926 68.19398 
L 630.52157 72.680917 
L 631.530165 75.900721 
L 632.454711 78.170108 
L 633.379256 79.8984 
L 634.303802 81.193996 
L 635.312397 82.227301 
L 636.405041 83.015343 
L 637.581736 83.591191 
L 639.010579 84.036762 
L 640.859669 84.362474 
L 643.465207 84.573843 
L 648.003884 84.683922 
L 662.460413 84.710595 
L 816.271157 84.780691 
L 816.355207 85.079638 
L 816.439256 86.624363 
L 816.523306 93.86277 
L 816.859504 160.772353 
L 816.859504 160.772353 
" clip-path="url(#p48ea57be88)" style="fill: none; stroke: #6e1e0a; stroke-width: 1.8; stroke-linecap: square"/>
   </g>
   <g id="line2d_65">
    <path d="M 480.661157 7.933884 
L 616.989587 8.033937 
L 617.914132 8.27612 
L 618.502479 8.667532 
L 619.006777 9.307572 
L 619.511074 10.402697 
L 620.015372 12.115254 
L 620.603719 14.979565 
L 621.444215 20.403607 
L 622.957107 32.03768 
L 628.50438 75.650468 
L 629.260826 79.805005 
L 629.849174 82.002908 
L 630.353471 83.190995 
L 630.857769 83.894531 
L 631.446116 84.328601 
L 632.202562 84.570517 
L 633.463306 84.684999 
L 637.581736 84.710645 
L 816.859504 84.710744 
L 816.859504 84.710744 
" clip-path="url(#p48ea57be88)" style="fill: none; stroke: #000000; stroke-width: 1.8; stroke-linecap: square"/>
   </g>
   <g id="legend_2">
    <g id="patch_13">
     <path d="M 737.343504 84.741435 
L 809.649504 84.741435 
Q 811.709504 84.741435 811.709504 82.681435 
L 811.709504 8.119091 
Q 811.709504 6.059091 809.649504 6.059091 
L 737.343504 6.059091 
Q 735.283504 6.059091 735.283504 8.119091 
L 735.283504 82.681435 
Q 735.283504 84.741435 737.343504 84.741435 
z
" style="fill: #ffffff; opacity: 0.8; stroke: #cccccc; stroke-linejoin: miter"/>
    </g>
    <g id="line2d_66">
     <path d="M 739.403504 14.400482 
L 749.703504 14.400482 
L 760.003504 14.400482 
" style="fill: none; stroke: #000000; stroke-width: 1.8; stroke-linecap: square"/>
    </g>
    <g id="text_35">
     <text style="font-size: 10.3px; font-family: 'DejaVu Sans'; text-anchor: start" x="768.243504" y="18.005482" transform="rotate(-0 768.243504 18.005482)">exact</text>
    </g>
    <g id="line2d_67">
     <path d="M 739.403504 29.51895 
L 749.703504 29.51895 
L 760.003504 29.51895 
" style="fill: none; stroke: #6e1e0a; stroke-width: 1.8; stroke-linecap: square"/>
    </g>
    <g id="text_36">
     <g transform="translate(768.243504 33.12395)">
      <text>
       <tspan x="0" y="-0.34375" style="font-style: italic; font-size: 10.3px; font-family: 'Liberation Serif'">ε</tspan>
       <tspan x="7.164306" y="-0.34375" style="font-size: 10.3px; font-family: 'Liberation Serif'">=</tspan>
       <tspan x="16.070312" y="-0.34375" style="font-size: 10.3px; font-family: 'Liberation Serif'">0</tspan>
       <tspan x="21.195312" y="-0.34375" style="font-size: 10.3px; font-family: 'Liberation Serif'">.</tspan>
       <tspan x="23.757812" y="-0.34375" style="font-size: 10.3px; font-family: 'Liberation Serif'">0</tspan>
       <tspan x="28.882812" y="-0.34375" style="font-size: 10.3px; font-family: 'Liberation Serif'">0</tspan>
       <tspan x="34.007812" y="-0.34375" style="font-size: 10.3px; font-family: 'Liberation Serif'">2</tspan>
      </text>
     </g>
    </g>
    <g id="line2d_68">
     <path d="M 739.403504 44.637419 
L 749.703504 44.637419 
L 760.003504 44.637419 
" style="fill: none; stroke: #8c2a10; stroke-width: 1.8; stroke-linecap: square"/>
    </g>
    <g id="text_37">
     <g transform="translate(768.243504 48.242419)">
      <text>
       <tspan x="0" y="-0.34375" style="font-style: italic; font-size: 10.3px; font-family: 'Liberation Serif'">ε</tspan>
       <tspan x="7.164306" y="-0.34375" style="font-size: 10.3px; font-family: 'Liberation Serif'">=</tspan>
       <tspan x="16.070312" y="-0.34375" style="font-size: 10.3px; font-family: 'Liberation Serif'">0</tspan>
       <tspan x="21.195312" y="-0.34375" style="font-size: 10.3px; font-family: 'Liberation Serif'">.</tspan>
       <tspan x="23.757812" y="-0.34375" style="font-size: 10.3px; font-family: 'Liberation Serif'">0</tspan>
       <tspan x="28.882812" y="-0.34375" style="font-size: 10.3px; font-family: 'Liberation Serif'">0</tspan>
       <tspan x="34.007812" y="-0.34375" style="font-size: 10.3px; font-family: 'Liberation Serif'">4</tspan>
      </text>
     </g>
    </g>
    <g id="line2d_69">
     <path d="M 739.403504 59.755888 
L 749.703504 59.755888 
L 760.003504 59.755888 
" style="fill: none; stroke: #d04a20; stroke-width: 1.8; stroke-linecap: square"/>
    </g>
    <g id="text_38">
     <g transform="translate(768.243504 63.360888)">
      <text>
       <tspan x="0" y="-0.34375" style="font-style: italic; font-size: 10.3px; font-family: 'Liberation Serif'">ε</tspan>
       <tspan x="7.164306" y="-0.34375" style="font-size: 10.3px; font-family: 'Liberation Serif'">=</tspan>
       <tspan x="16.070312" y="-0.34375" style="font-size: 10.3px; font-family: 'Liberation Serif'">0</tspan>
       <tspan x="21.195312" y="-0.34375" style="font-size: 10.3px; font-family: 'Liberation Serif'">.</tspan>
       <tspan x="23.757812" y="-0.34375" style="font-size: 10.3px; font-family: 'Liberation Serif'">0</tspan>
       <tspan x="28.882812" y="-0.34375" style="font-size: 10.3px; font-family: 'Liberation Serif'">0</tspan>
       <tspan x="34.007812" y="-0.34375" style="font-size: 10.3px; font-family: 'Liberation Serif'">8</tspan>
      </text>
     </g>
    </g>
    <g id="line2d_70">
     <path d="M 739.403504 74.874357 
L 749.703504 74.874357 
L 760.003504 74.874357 
" style="fill: none; stroke: #f4a070; stroke-width: 1.8; stroke-linecap: square"/>
    </g>
    <g id="text_39">
     <g transform="translate(768.243504 78.479357)">
      <text>
       <tspan x="0" y="-0.34375" style="font-style: italic; font-size: 10.3px; font-family: 'Liberation Serif'">ε</tspan>
       <tspan x="7.164306" y="-0.34375" style="font-size: 10.3px; font-family: 'Liberation Serif'">=</tspan>
       <tspan x="16.070312" y="-0.34375" style="font-size: 10.3px; font-family: 'Liberation Serif'">0</tspan>
       <tspan x="21.195312" y="-0.34375" style="font-size: 10.3px; font-family: 'Liberation Serif'">.</tspan>
       <tspan x="23.757812" y="-0.34375" style="font-size: 10.3px; font-family: 'Liberation Serif'">0</tspan>
       <tspan x="28.882812" y="-0.34375" style="font-size: 10.3px; font-family: 'Liberation Serif'">1</tspan>
       <tspan x="34.007812" y="-0.34375" style="font-size: 10.3px; font-family: 'Liberation Serif'">6</tspan>
      </text>
     </g>
    </g>
   </g>
  </g>
  <g id="axes_3">
   <g id="patch_14">
    <path d="M 66.77686 382.31405 
L 402.31405 382.31405 
L 402.31405 213.884298 
L 66.77686 213.884298 
z
" style="fill: #ffffff"/>
   </g>
   <g id="matplotlib.axis_5">
    <g id="xtick_13">
     <g id="line2d_71">
      <path d="M 66.77686 382.31405 
L 66.77686 213.884298 
" clip-path="url(#p0f9e4aae6c)" style="fill: none; stroke: #b0b0b0; stroke-linecap: square"/>
     </g>
     <g id="line2d_72">
      <g>
       <use href="#md17ebd1823" x="66.77686" y="382.31405" style="stroke: #000000; stroke-width: 0.9"/>
      </g>
     </g>
     <g id="text_40">
      <text style="font-size: 10.3px; font-family: 'DejaVu Sans'; text-anchor: middle" x="66.77686" y="397.64044" transform="rotate(-0 66.77686 397.64044)">0.0</text>
     </g>
    </g>
    <g id="xtick_14">
     <g id="line2d_73">
      <path d="M 133.884298 382.31405 
L 133.884298 213.884298 
" clip-path="url(#p0f9e4aae6c)" style="fill: none; stroke: #b0b0b0; stroke-linecap: square"/>
     </g>
     <g id="line2d_74">
      <g>
       <use href="#md17ebd1823" x="133.884298" y="382.31405" style="stroke: #000000; stroke-width: 0.9"/>
      </g>
     </g>
     <g id="text_41">
      <text style="font-size: 10.3px; font-family: 'DejaVu Sans'; text-anchor: middle" x="133.884298" y="397.64044" transform="rotate(-0 133.884298 397.64044)">0.2</text>
     </g>
    </g>
    <g id="xtick_15">
     <g id="line2d_75">
      <path d="M 200.991736 382.31405 
L 200.991736 213.884298 
" clip-path="url(#p0f9e4aae6c)" style="fill: none; stroke: #b0b0b0; stroke-linecap: square"/>
     </g>
     <g id="line2d_76">
      <g>
       <use href="#md17ebd1823" x="200.991736" y="382.31405" style="stroke: #000000; stroke-width: 0.9"/>
      </g>
     </g>
     <g id="text_42">
      <text style="font-size: 10.3px; font-family: 'DejaVu Sans'; text-anchor: middle" x="200.991736" y="397.64044" transform="rotate(-0 200.991736 397.64044)">0.4</text>
     </g>
    </g>
    <g id="xtick_16">
     <g id="line2d_77">
      <path d="M 268.099174 382.31405 
L 268.099174 213.884298 
" clip-path="url(#p0f9e4aae6c)" style="fill: none; stroke: #b0b0b0; stroke-linecap: square"/>
     </g>
     <g id="line2d_78">
      <g>
       <use href="#md17ebd1823" x="268.099174" y="382.31405" style="stroke: #000000; stroke-width: 0.9"/>
      </g>
     </g>
     <g id="text_43">
      <text style="font-size: 10.3px; font-family: 'DejaVu Sans'; text-anchor: middle" x="268.099174" y="397.64044" transform="rotate(-0 268.099174 397.64044)">0.6</text>
     </g>
    </g>
    <g id="xtick_17">
     <g id="line2d_79">
      <path d="M 335.206612 382.31405 
L 335.206612 213.884298 
" clip-path="url(#p0f9e4aae6c)" style="fill: none; stroke: #b0b0b0; stroke-linecap: square"/>
     </g>
     <g id="line2d_80">
      <g>
       <use href="#md17ebd1823" x="335.206612" y="382.31405" style="stroke: #000000; stroke-width: 0.9"/>
      </g>
     </g>
     <g id="text_44">
      <text style="font-size: 10.3px; font-family: 'DejaVu Sans'; text-anchor: middle" x="335.206612" y="397.64044" transform="rotate(-0 335.206612 397.64044)">0.8</text>
     </g>
    </g>
    <g id="xtick_18">
     <g id="line2d_81">
      <path d="M 402.31405 382.31405 
L 402.31405 213.884298 
" clip-path="url(#p0f9e4aae6c)" style="fill: none; stroke: #b0b0b0; stroke-linecap: square"/>
     </g>
     <g id="line2d_82">
      <g>
       <use href="#md17ebd1823" x="402.31405" y="382.31405" style="stroke: #000000; stroke-width: 0.9"/>
      </g>
     </g>
     <g id="text_45">
      <text style="font-size: 10.3px; font-family: 'DejaVu Sans'; text-anchor: middle" x="402.31405" y="397.64044" transform="rotate(-0 402.31405 397.64044)">1.0</text>
     </g>
    </g>
    <g id="text_46">
     <g transform="translate(206.323455 412.608909)">
      <text>
       <tspan x="0" y="-0.40625" style="font-size: 10.3px; font-family: 'DejaVu Sans'">P</tspan>
       <tspan x="6.18103" y="-0.40625" style="font-size: 10.3px; font-family: 'DejaVu Sans'">o</tspan>
       <tspan x="12.452148" y="-0.40625" style="font-size: 10.3px; font-family: 'DejaVu Sans'">s</tspan>
       <tspan x="17.792358" y="-0.40625" style="font-size: 10.3px; font-family: 'DejaVu Sans'">i</tspan>
       <tspan x="20.640137" y="-0.40625" style="font-size: 10.3px; font-family: 'DejaVu Sans'">t</tspan>
       <tspan x="24.659058" y="-0.40625" style="font-size: 10.3px; font-family: 'DejaVu Sans'">i</tspan>
       <tspan x="27.506836" y="-0.40625" style="font-size: 10.3px; font-family: 'DejaVu Sans'">o</tspan>
       <tspan x="33.777954" y="-0.40625" style="font-size: 10.3px; font-family: 'DejaVu Sans'">n</tspan>
       <tspan x="40.274292" y="-0.40625" style="font-size: 10.3px; font-family: 'DejaVu Sans'"> </tspan>
       <tspan x="43.532471" y="-0.40625" style="font-size: 10.3px; font-family: 'DejaVu Sans'">(</tspan>
       <tspan x="52.080811" y="-0.40625" style="font-size: 10.3px; font-family: 'DejaVu Sans'">)</tspan>
       <tspan x="47.531372" y="-0.40625" style="font-style: italic; font-size: 10.3px; font-family: 'Liberation Serif'">x</tspan>
      </text>
     </g>
    </g>
   </g>
   <g id="matplotlib.axis_6">
    <g id="ytick_14">
     <g id="line2d_83">
      <path d="M 66.77686 375.041322 
L 402.31405 375.041322 
" clip-path="url(#p0f9e4aae6c)" style="fill: none; stroke: #b0b0b0; stroke-linecap: square"/>
     </g>
     <g id="line2d_84">
      <g>
       <use href="#md33abd68d2" x="66.77686" y="375.041322" style="stroke: #000000; stroke-width: 0.9"/>
      </g>
     </g>
     <g id="text_47">
      <text style="font-size: 10.3px; font-family: 'DejaVu Sans'; text-anchor: end" x="59.77686" y="378.954518" transform="rotate(-0 59.77686 378.954518)">1.000</text>
     </g>
    </g>
    <g id="ytick_15">
     <g id="line2d_85">
      <path d="M 66.77686 347.801653 
L 402.31405 347.801653 
" clip-path="url(#p0f9e4aae6c)" style="fill: none; stroke: #b0b0b0; stroke-linecap: square"/>
     </g>
     <g id="line2d_86">
      <g>
       <use href="#md33abd68d2" x="66.77686" y="347.801653" style="stroke: #000000; stroke-width: 0.9"/>
      </g>
     </g>
     <g id="text_48">
      <text style="font-size: 10.3px; font-family: 'DejaVu Sans'; text-anchor: end" x="59.77686" y="351.714848" transform="rotate(-0 59.77686 351.714848)">1.001</text>
     </g>
    </g>
    <g id="ytick_16">
     <g id="line2d_87">
      <path d="M 66.77686 320.561983 
L 402.31405 320.561983 
" clip-path="url(#p0f9e4aae6c)" style="fill: none; stroke: #b0b0b0; stroke-linecap: square"/>
     </g>
     <g id="line2d_88">
      <g>
       <use href="#md33abd68d2" x="66.77686" y="320.561983" style="stroke: #000000; stroke-width: 0.9"/>
      </g>
     </g>
     <g id="text_49">
      <text style="font-size: 10.3px; font-family: 'DejaVu Sans'; text-anchor: end" x="59.77686" y="324.475179" transform="rotate(-0 59.77686 324.475179)">1.002</text>
     </g>
    </g>
    <g id="ytick_17">
     <g id="line2d_89">
      <path d="M 66.77686 293.322314 
L 402.31405 293.322314 
" clip-path="url(#p0f9e4aae6c)" style="fill: none; stroke: #b0b0b0; stroke-linecap: square"/>
     </g>
     <g id="line2d_90">
      <g>
       <use href="#md33abd68d2" x="66.77686" y="293.322314" style="stroke: #000000; stroke-width: 0.9"/>
      </g>
     </g>
     <g id="text_50">
      <text style="font-size: 10.3px; font-family: 'DejaVu Sans'; text-anchor: end" x="59.77686" y="297.235509" transform="rotate(-0 59.77686 297.235509)">1.003</text>
     </g>
    </g>
    <g id="ytick_18">
     <g id="line2d_91">
      <path d="M 66.77686 266.082645 
L 402.31405 266.082645 
" clip-path="url(#p0f9e4aae6c)" style="fill: none; stroke: #b0b0b0; stroke-linecap: square"/>
     </g>
     <g id="line2d_92">
      <g>
       <use href="#md33abd68d2" x="66.77686" y="266.082645" style="stroke: #000000; stroke-width: 0.9"/>
      </g>
     </g>
     <g id="text_51">
      <text style="font-size: 10.3px; font-family: 'DejaVu Sans'; text-anchor: end" x="59.77686" y="269.99584" transform="rotate(-0 59.77686 269.99584)">1.004</text>
     </g>
    </g>
    <g id="ytick_19">
     <g id="line2d_93">
      <path d="M 66.77686 238.842975 
L 402.31405 238.842975 
" clip-path="url(#p0f9e4aae6c)" style="fill: none; stroke: #b0b0b0; stroke-linecap: square"/>
     </g>
     <g id="line2d_94">
      <g>
       <use href="#md33abd68d2" x="66.77686" y="238.842975" style="stroke: #000000; stroke-width: 0.9"/>
      </g>
     </g>
     <g id="text_52">
      <text style="font-size: 10.3px; font-family: 'DejaVu Sans'; text-anchor: end" x="59.77686" y="242.756171" transform="rotate(-0 59.77686 242.756171)">1.005</text>
     </g>
    </g>
    <g id="text_53">
     <g transform="translate(24.723891 328.638674) rotate(-90)">
      <text>
       <tspan x="0" y="-0.40625" style="font-size: 10.3px; font-family: 'DejaVu Sans'">P</tspan>
       <tspan x="6.18103" y="-0.40625" style="font-size: 10.3px; font-family: 'DejaVu Sans'">r</tspan>
       <tspan x="10.395142" y="-0.40625" style="font-size: 10.3px; font-family: 'DejaVu Sans'">e</tspan>
       <tspan x="16.701294" y="-0.40625" style="font-size: 10.3px; font-family: 'DejaVu Sans'">s</tspan>
       <tspan x="22.041504" y="-0.40625" style="font-size: 10.3px; font-family: 'DejaVu Sans'">s</tspan>
       <tspan x="27.381714" y="-0.40625" style="font-size: 10.3px; font-family: 'DejaVu Sans'">u</tspan>
       <tspan x="33.878052" y="-0.40625" style="font-size: 10.3px; font-family: 'DejaVu Sans'">r</tspan>
       <tspan x="38.092163" y="-0.40625" style="font-size: 10.3px; font-family: 'DejaVu Sans'">e</tspan>
       <tspan x="44.398315" y="-0.40625" style="font-size: 10.3px; font-family: 'DejaVu Sans'"> </tspan>
       <tspan x="47.656494" y="-0.40625" style="font-size: 10.3px; font-family: 'DejaVu Sans'">(</tspan>
       <tspan x="56.780396" y="-0.40625" style="font-size: 10.3px; font-family: 'DejaVu Sans'">)</tspan>
       <tspan x="51.655396" y="-0.40625" style="font-style: italic; font-size: 10.3px; font-family: 'Liberation Serif'">p</tspan>
      </text>
     </g>
    </g>
   </g>
   <g id="patch_15">
    <path d="M 66.77686 382.31405 
L 66.77686 213.884298 
" style="fill: none; stroke: #000000; stroke-width: 0.9; stroke-linejoin: miter; stroke-linecap: square"/>
   </g>
   <g id="patch_16">
    <path d="M 402.31405 382.31405 
L 402.31405 213.884298 
" style="fill: none; stroke: #000000; stroke-width: 0.9; stroke-linejoin: miter; stroke-linecap: square"/>
   </g>
   <g id="patch_17">
    <path d="M 66.77686 382.31405 
L 402.31405 382.31405 
" style="fill: none; stroke: #000000; stroke-width: 0.9; stroke-linejoin: miter; stroke-linecap: square"/>
   </g>
   <g id="patch_18">
    <path d="M 66.77686 213.884298 
L 402.31405 213.884298 
" style="fill: none; stroke: #000000; stroke-width: 0.9; stroke-linejoin: miter; stroke-linecap: square"/>
   </g>
   <g id="line2d_95">
    <path d="M 66.77686 375.041322 
L 66.944628 260.467351 
L 67.615702 251.050397 
L 68.286777 244.322385 
L 68.957851 239.518895 
L 69.628926 236.092815 
L 70.383884 233.401925 
L 71.138843 231.569588 
L 71.893802 230.326572 
L 72.64876 229.488077 
L 73.487603 228.877996 
L 74.494215 228.43728 
L 75.752479 228.155688 
L 77.430165 228.026397 
L 80.198347 228.06536 
L 87.07686 228.453614 
L 116.771901 230.416679 
L 133.045455 231.692572 
L 143.866529 232.753234 
L 152.08719 233.773788 
L 158.797934 234.824749 
L 164.502066 235.937991 
L 169.535124 237.143837 
L 174.064876 238.455719 
L 178.259091 239.902771 
L 182.117769 241.46509 
L 185.808678 243.194434 
L 189.415702 245.128633 
L 193.022727 247.320302 
L 196.629752 249.777088 
L 200.320661 252.5613 
L 204.347107 255.8868 
L 208.960744 260.00284 
L 215.503719 266.176782 
L 217.181405 267.915506 
L 222.717769 274.817369 
L 226.240909 278.858534 
L 229.260744 281.996516 
L 232.11281 284.643226 
L 234.797107 286.840402 
L 237.481405 288.755902 
L 240.165702 290.403747 
L 242.933884 291.845204 
L 245.869835 293.11849 
L 248.973554 294.216507 
L 252.328926 295.16245 
L 256.019835 295.967702 
L 260.21405 296.649019 
L 265.079339 297.207808 
L 270.95124 297.651833 
L 278.500826 297.988524 
L 289.070248 298.219233 
L 306.434298 298.347681 
L 351.56405 298.387858 
L 402.31405 298.388876 
L 402.31405 298.388876 
" clip-path="url(#p0f9e4aae6c)" style="fill: none; stroke: #8cc890; stroke-width: 1.8; stroke-linecap: square"/>
   </g>
   <g id="line2d_96">
    <path d="M 66.77686 375.041322 
L 66.944628 248.289837 
L 67.447934 239.245631 
L 67.95124 233.771351 
L 68.454545 230.460831 
L 68.957851 228.461782 
L 69.461157 227.257626 
L 70.048347 226.447092 
L 70.635537 226.004957 
L 71.390496 225.724412 
L 72.480992 225.582761 
L 74.578099 225.580165 
L 85.650826 225.986468 
L 148.731818 228.478371 
L 160.47562 229.161479 
L 167.689669 229.790296 
L 173.058264 230.472977 
L 177.336364 231.234848 
L 180.943388 232.098669 
L 184.047107 233.062946 
L 186.899174 234.181608 
L 189.499587 235.441603 
L 191.932231 236.867957 
L 194.280992 238.508201 
L 196.545868 240.365161 
L 198.810744 242.517258 
L 201.07562 244.980975 
L 203.42438 247.869529 
L 205.940909 251.325232 
L 208.792975 255.634651 
L 212.567769 261.784262 
L 214.580992 265.344943 
L 218.523554 273.983855 
L 220.956198 278.781314 
L 223.053306 282.431953 
L 224.982645 285.350055 
L 226.828099 287.743451 
L 228.673554 289.766889 
L 230.519008 291.452585 
L 232.364463 292.839771 
L 234.293802 294.015717 
L 236.390909 295.028379 
L 238.655785 295.870873 
L 241.172314 296.568696 
L 244.108264 297.147036 
L 247.631405 297.60684 
L 252.077273 297.954135 
L 258.200826 298.195931 
L 268.099174 298.337182 
L 291.502893 298.386605 
L 402.31405 298.388893 
L 402.31405 298.388893 
" clip-path="url(#p0f9e4aae6c)" style="fill: none; stroke: #2f7a48; stroke-width: 1.8; stroke-linecap: square"/>
   </g>
   <g id="line2d_97">
    <path d="M 66.77686 375.041322 
L 66.944628 236.617475 
L 67.36405 229.550497 
L 67.783471 226.486424 
L 68.202893 225.161035 
L 68.622314 224.590855 
L 69.12562 224.320939 
L 69.880579 224.21125 
L 72.06157 224.225885 
L 164.669835 226.406344 
L 176.329752 226.84523 
L 181.95 227.266798 
L 185.724793 227.759978 
L 188.660744 228.359817 
L 191.093388 229.082178 
L 193.190496 229.939401 
L 195.03595 230.934316 
L 196.713636 232.087834 
L 198.307438 233.453068 
L 199.817355 235.033819 
L 201.327273 236.93702 
L 202.83719 239.200981 
L 204.430992 242.013965 
L 206.108678 245.459681 
L 207.954132 249.801261 
L 210.135124 255.555685 
L 212.819421 263.262865 
L 215.755372 274.251784 
L 217.433058 279.716593 
L 218.942975 283.896957 
L 220.285124 286.99239 
L 221.627273 289.530416 
L 222.885537 291.454004 
L 224.143802 292.996214 
L 225.48595 294.289327 
L 226.911983 295.341062 
L 228.421901 296.171878 
L 230.099587 296.838273 
L 232.028926 297.364635 
L 234.46157 297.783854 
L 237.565289 298.080859 
L 242.095041 298.274285 
L 250.399587 298.370254 
L 282.443388 298.388876 
L 402.31405 298.388893 
L 402.31405 298.388893 
" clip-path="url(#p0f9e4aae6c)" style="fill: none; stroke: #1b5a33; stroke-width: 1.8; stroke-linecap: square"/>
   </g>
   <g id="line2d_98">
    <path d="M 66.77686 375.041322 
L 66.944628 228.523805 
L 67.196281 225.277702 
L 67.447934 224.086231 
L 67.783471 223.579061 
L 68.202893 223.436486 
L 69.377273 223.419029 
L 169.954545 224.857563 
L 187.570248 225.223045 
L 191.848347 225.526554 
L 194.44876 225.916665 
L 196.378099 226.413154 
L 197.971901 227.04371 
L 199.31405 227.803596 
L 200.572314 228.779149 
L 201.746694 229.992886 
L 202.83719 231.453044 
L 203.927686 233.306918 
L 205.018182 235.627594 
L 206.108678 238.480776 
L 207.283058 242.199492 
L 208.541322 246.931624 
L 210.05124 253.501652 
L 211.896694 262.470022 
L 213.993802 275.551873 
L 215.252066 282.004377 
L 216.342562 286.455388 
L 217.349174 289.649411 
L 218.271901 291.900627 
L 219.194628 293.615081 
L 220.117355 294.900303 
L 221.123967 295.925334 
L 222.214463 296.707067 
L 223.388843 297.278304 
L 224.814876 297.720307 
L 226.660331 298.043411 
L 229.260744 298.253088 
L 233.790496 298.362285 
L 248.302479 298.38875 
L 402.31405 298.388893 
L 402.31405 298.388893 
" clip-path="url(#p0f9e4aae6c)" style="fill: none; stroke: #0e3d22; stroke-width: 1.8; stroke-linecap: square"/>
   </g>
   <g id="line2d_99">
    <path d="M 66.77686 222.226777 
L 202.921074 222.337862 
L 203.759917 222.566272 
L 204.347107 222.95455 
L 204.850413 223.589465 
L 205.353719 224.675822 
L 205.857025 226.374667 
L 206.444215 229.216044 
L 207.283058 234.596656 
L 208.792975 246.137576 
L 214.329339 289.401161 
L 215.084298 293.522433 
L 215.671488 295.702738 
L 216.174793 296.881312 
L 216.678099 297.579215 
L 217.265289 298.009809 
L 218.020248 298.249788 
L 219.278512 298.363354 
L 223.388843 298.388795 
L 402.31405 298.388893 
L 402.31405 298.388893 
" clip-path="url(#p0f9e4aae6c)" style="fill: none; stroke: #000000; stroke-width: 1.8; stroke-linecap: square"/>
   </g>
   <g id="legend_3">
    <g id="patch_19">
     <path d="M 322.79805 297.716641 
L 395.10405 297.716641 
Q 397.16405 297.716641 397.16405 295.656641 
L 397.16405 221.094298 
Q 397.16405 219.034298 395.10405 219.034298 
L 322.79805 219.034298 
Q 320.73805 219.034298 320.73805 221.094298 
L 320.73805 295.656641 
Q 320.73805 297.716641 322.79805 297.716641 
z
" style="fill: #ffffff; opacity: 0.8; stroke: #cccccc; stroke-linejoin: miter"/>
    </g>
    <g id="line2d_100">
     <path d="M 324.85805 227.375688 
L 335.15805 227.375688 
L 345.45805 227.375688 
" style="fill: none; stroke: #000000; stroke-width: 1.8; stroke-linecap: square"/>
    </g>
    <g id="text_54">
     <text style="font-size: 10.3px; font-family: 'DejaVu Sans'; text-anchor: start" x="353.69805" y="230.980688" transform="rotate(-0 353.69805 230.980688)">exact</text>
    </g>
    <g id="line2d_101">
     <path d="M 324.85805 242.494157 
L 335.15805 242.494157 
L 345.45805 242.494157 
" style="fill: none; stroke: #0e3d22; stroke-width: 1.8; stroke-linecap: square"/>
    </g>
    <g id="text_55">
     <g transform="translate(353.69805 246.099157)">
      <text>
       <tspan x="0" y="-0.34375" style="font-style: italic; font-size: 10.3px; font-family: 'Liberation Serif'">ε</tspan>
       <tspan x="7.164306" y="-0.34375" style="font-size: 10.3px; font-family: 'Liberation Serif'">=</tspan>
       <tspan x="16.070312" y="-0.34375" style="font-size: 10.3px; font-family: 'Liberation Serif'">0</tspan>
       <tspan x="21.195312" y="-0.34375" style="font-size: 10.3px; font-family: 'Liberation Serif'">.</tspan>
       <tspan x="23.757812" y="-0.34375" style="font-size: 10.3px; font-family: 'Liberation Serif'">0</tspan>
       <tspan x="28.882812" y="-0.34375" style="font-size: 10.3px; font-family: 'Liberation Serif'">0</tspan>
       <tspan x="34.007812" y="-0.34375" style="font-size: 10.3px; font-family: 'Liberation Serif'">2</tspan>
      </text>
     </g>
    </g>
    <g id="line2d_102">
     <path d="M 324.85805 257.612626 
L 335.15805 257.612626 
L 345.45805 257.612626 
" style="fill: none; stroke: #1b5a33; stroke-width: 1.8; stroke-linecap: square"/>
    </g>
    <g id="text_56">
     <g transform="translate(353.69805 261.217626)">
      <text>
       <tspan x="0" y="-0.34375" style="font-style: italic; font-size: 10.3px; font-family: 'Liberation Serif'">ε</tspan>
       <tspan x="7.164306" y="-0.34375" style="font-size: 10.3px; font-family: 'Liberation Serif'">=</tspan>
       <tspan x="16.070312" y="-0.34375" style="font-size: 10.3px; font-family: 'Liberation Serif'">0</tspan>
       <tspan x="21.195312" y="-0.34375" style="font-size: 10.3px; font-family: 'Liberation Serif'">.</tspan>
       <tspan x="23.757812" y="-0.34375" style="font-size: 10.3px; font-family: 'Liberation Serif'">0</tspan>
       <tspan x="28.882812" y="-0.34375" style="font-size: 10.3px; font-family: 'Liberation Serif'">0</tspan>
       <tspan x="34.007812" y="-0.34375" style="font-size: 10.3px; font-family: 'Liberation Serif'">4</tspan>
      </text>
     </g>
    </g>
    <g id="line2d_103">
     <path d="M 324.85805 272.731094 
L 335.15805 272.731094 
L 345.45805 272.731094 
" style="fill: none; stroke: #2f7a48; stroke-width: 1.8; stroke-linecap: square"/>
    </g>
    <g id="text_57">
     <g transform="translate(353.69805 276.336094)">
      <text>
       <tspan x="0" y="-0.34375" style="font-style: italic; font-size: 10.3px; font-family: 'Liberation Serif'">ε</tspan>
       <tspan x="7.164306" y="-0.34375" style="font-size: 10.3px; font-family: 'Liberation Serif'">=</tspan>
       <tspan x="16.070312" y="-0.34375" style="font-size: 10.3px; font-family: 'Liberation Serif'">0</tspan>
       <tspan x="21.195312" y="-0.34375" style="font-size: 10.3px; font-family: 'Liberation Serif'">.</tspan>
       <tspan x="23.757812" y="-0.34375" style="font-size: 10.3px; font-family: 'Liberation Serif'">0</tspan>
       <tspan x="28.882812" y="-0.34375" style="font-size: 10.3px; font-family: 'Liberation Serif'">0</tspan>
       <tspan x="34.007812" y="-0.34375" style="font-size: 10.3px; font-family: 'Liberation Serif'">8</tspan>
      </text>
     </g>
    </g>
    <g id="line2d_104">
     <path d="M 324.85805 287.849563 
L 335.15805 287.849563 
L 345.45805 287.849563 
" style="fill: none; stroke: #8cc890; stroke-width: 1.8; stroke-linecap: square"/>
    </g>
    <g id="text_58">
     <g transform="translate(353.69805 291.454563)">
      <text>
       <tspan x="0" y="-0.34375" style="font-style: italic; font-size: 10.3px; font-family: 'Liberation Serif'">ε</tspan>
       <tspan x="7.164306" y="-0.34375" style="font-size: 10.3px; font-family: 'Liberation Serif'">=</tspan>
       <tspan x="16.070312" y="-0.34375" style="font-size: 10.3px; font-family: 'Liberation Serif'">0</tspan>
       <tspan x="21.195312" y="-0.34375" style="font-size: 10.3px; font-family: 'Liberation Serif'">.</tspan>
       <tspan x="23.757812" y="-0.34375" style="font-size: 10.3px; font-family: 'Liberation Serif'">0</tspan>
       <tspan x="28.882812" y="-0.34375" style="font-size: 10.3px; font-family: 'Liberation Serif'">1</tspan>
       <tspan x="34.007812" y="-0.34375" style="font-size: 10.3px; font-family: 'Liberation Serif'">6</tspan>
      </text>
     </g>
    </g>
   </g>
  </g>
  <g id="axes_4">
   <g id="patch_20">
    <path d="M 480.661157 381.983471 
L 817.190083 381.983471 
L 817.190083 213.884298 
L 480.661157 213.884298 
z
" style="fill: #ffffff"/>
   </g>
   <g id="matplotlib.axis_7">
    <g id="xtick_19">
     <g id="line2d_105">
      <g>
       <use href="#md17ebd1823" x="495.957926" y="381.983471" style="stroke: #000000; stroke-width: 0.9"/>
      </g>
     </g>
     <g id="text_59">
      <text style="font-size: 10.3px; font-family: 'DejaVu Sans'; text-anchor: middle" x="495.957926" y="397.309862" transform="rotate(-0 495.957926 397.309862)">0.002</text>
     </g>
    </g>
    <g id="xtick_20">
     <g id="line2d_106">
      <g>
       <use href="#md17ebd1823" x="597.936389" y="381.983471" style="stroke: #000000; stroke-width: 0.9"/>
      </g>
     </g>
     <g id="text_60">
      <text style="font-size: 10.3px; font-family: 'DejaVu Sans'; text-anchor: middle" x="597.936389" y="397.309862" transform="rotate(-0 597.936389 397.309862)">0.004</text>
     </g>
    </g>
    <g id="xtick_21">
     <g id="line2d_107">
      <g>
       <use href="#md17ebd1823" x="699.914851" y="381.983471" style="stroke: #000000; stroke-width: 0.9"/>
      </g>
     </g>
     <g id="text_61">
      <text style="font-size: 10.3px; font-family: 'DejaVu Sans'; text-anchor: middle" x="699.914851" y="397.309862" transform="rotate(-0 699.914851 397.309862)">0.008</text>
     </g>
    </g>
    <g id="xtick_22">
     <g id="line2d_108">
      <g>
       <use href="#md17ebd1823" x="801.893313" y="381.983471" style="stroke: #000000; stroke-width: 0.9"/>
      </g>
     </g>
     <g id="text_62">
      <text style="font-size: 10.3px; font-family: 'DejaVu Sans'; text-anchor: middle" x="801.893313" y="397.309862" transform="rotate(-0 801.893313 397.309862)">0.016</text>
     </g>
    </g>
    <g id="text_63">
     <g transform="translate(646.86562 412.27833)">
      <text>
       <tspan x="0" y="-0.28125" style="font-style: italic; font-size: 10.3px; font-family: 'Liberation Serif'">ε</tspan>
      </text>
     </g>
    </g>
   </g>
   <g id="matplotlib.axis_8">
    <g id="ytick_20">
     <g id="line2d_109">
      <path d="M 480.661157 282.079421 
L 817.190083 282.079421 
" clip-path="url(#p9d04092b43)" style="fill: none; stroke: #b0b0b0; stroke-linecap: square"/>
     </g>
     <g id="line2d_110">
      <g>
       <use href="#md33abd68d2" x="480.661157" y="282.079421" style="stroke: #000000; stroke-width: 0.9"/>
      </g>
     </g>
     <g id="text_64">
      <g transform="translate(453.164157 285.992616)">
       <text>
        <tspan x="0" y="-0.064063" style="font-size: 10.3px; font-family: 'DejaVu Sans'">1</tspan>
        <tspan x="6.521362" y="-0.064063" style="font-size: 10.3px; font-family: 'DejaVu Sans'">0</tspan>
        <tspan x="13.138428" y="-3.892188" style="font-size: 7.21px; font-family: 'Liberation Serif'">-</tspan>
        <tspan x="15.527759" y="-3.892188" style="font-size: 7.21px; font-family: 'DejaVu Sans'">1</tspan>
       </text>
      </g>
     </g>
    </g>
    <g id="ytick_21">
     <g id="line2d_111">
      <path d="M 480.661157 381.983471 
L 817.190083 381.983471 
" clip-path="url(#p9d04092b43)" style="fill: none; stroke: #b0b0b0; stroke-opacity: 0.35; stroke-linecap: square"/>
     </g>
     <g id="line2d_112">
      <defs>
       <path id="m3827d522c1" d="M 0 0 
L -2 0 
" style="stroke: #000000; stroke-width: 0.8"/>
      </defs>
      <g>
       <use href="#m3827d522c1" x="480.661157" y="381.983471" style="stroke: #000000; stroke-width: 0.8"/>
      </g>
     </g>
    </g>
    <g id="ytick_22">
     <g id="line2d_113">
      <path d="M 480.661157 356.81468 
L 817.190083 356.81468 
" clip-path="url(#p9d04092b43)" style="fill: none; stroke: #b0b0b0; stroke-opacity: 0.35; stroke-linecap: square"/>
     </g>
     <g id="line2d_114">
      <g>
       <use href="#m3827d522c1" x="480.661157" y="356.81468" style="stroke: #000000; stroke-width: 0.8"/>
      </g>
     </g>
    </g>
    <g id="ytick_23">
     <g id="line2d_115">
      <path d="M 480.661157 338.957139 
L 817.190083 338.957139 
" clip-path="url(#p9d04092b43)" style="fill: none; stroke: #b0b0b0; stroke-opacity: 0.35; stroke-linecap: square"/>
     </g>
     <g id="line2d_116">
      <g>
       <use href="#m3827d522c1" x="480.661157" y="338.957139" style="stroke: #000000; stroke-width: 0.8"/>
      </g>
     </g>
    </g>
    <g id="ytick_24">
     <g id="line2d_117">
      <path d="M 480.661157 325.105753 
L 817.190083 325.105753 
" clip-path="url(#p9d04092b43)" style="fill: none; stroke: #b0b0b0; stroke-opacity: 0.35; stroke-linecap: square"/>
     </g>
     <g id="line2d_118">
      <g>
       <use href="#m3827d522c1" x="480.661157" y="325.105753" style="stroke: #000000; stroke-width: 0.8"/>
      </g>
     </g>
    </g>
    <g id="ytick_25">
     <g id="line2d_119">
      <path d="M 480.661157 313.788348 
L 817.190083 313.788348 
" clip-path="url(#p9d04092b43)" style="fill: none; stroke: #b0b0b0; stroke-opacity: 0.35; stroke-linecap: square"/>
     </g>
     <g id="line2d_120">
      <g>
       <use href="#m3827d522c1" x="480.661157" y="313.788348" style="stroke: #000000; stroke-width: 0.8"/>
      </g>
     </g>
    </g>
    <g id="ytick_26">
     <g id="line2d_121">
      <path d="M 480.661157 304.219617 
L 817.190083 304.219617 
" clip-path="url(#p9d04092b43)" style="fill: none; stroke: #b0b0b0; stroke-opacity: 0.35; stroke-linecap: square"/>
     </g>
     <g id="line2d_122">
      <g>
       <use href="#m3827d522c1" x="480.661157" y="304.219617" style="stroke: #000000; stroke-width: 0.8"/>
      </g>
     </g>
    </g>
    <g id="ytick_27">
     <g id="line2d_123">
      <path d="M 480.661157 295.930806 
L 817.190083 295.930806 
" clip-path="url(#p9d04092b43)" style="fill: none; stroke: #b0b0b0; stroke-opacity: 0.35; stroke-linecap: square"/>
     </g>
     <g id="line2d_124">
      <g>
       <use href="#m3827d522c1" x="480.661157" y="295.930806" style="stroke: #000000; stroke-width: 0.8"/>
      </g>
     </g>
    </g>
    <g id="ytick_28">
     <g id="line2d_125">
      <path d="M 480.661157 288.619557 
L 817.190083 288.619557 
" clip-path="url(#p9d04092b43)" style="fill: none; stroke: #b0b0b0; stroke-opacity: 0.35; stroke-linecap: square"/>
     </g>
     <g id="line2d_126">
      <g>
       <use href="#m3827d522c1" x="480.661157" y="288.619557" style="stroke: #000000; stroke-width: 0.8"/>
      </g>
     </g>
    </g>
    <g id="ytick_29">
     <g id="line2d_127">
      <path d="M 480.661157 239.053089 
L 817.190083 239.053089 
" clip-path="url(#p9d04092b43)" style="fill: none; stroke: #b0b0b0; stroke-opacity: 0.35; stroke-linecap: square"/>
     </g>
     <g id="line2d_128">
      <g>
       <use href="#m3827d522c1" x="480.661157" y="239.053089" style="stroke: #000000; stroke-width: 0.8"/>
      </g>
     </g>
    </g>
    <g id="ytick_30">
     <g id="line2d_129">
      <path d="M 480.661157 213.884298 
L 817.190083 213.884298 
" clip-path="url(#p9d04092b43)" style="fill: none; stroke: #b0b0b0; stroke-opacity: 0.35; stroke-linecap: square"/>
     </g>
     <g id="line2d_130">
      <g>
       <use href="#m3827d522c1" x="480.661157" y="213.884298" style="stroke: #000000; stroke-width: 0.8"/>
      </g>
     </g>
    </g>
    <g id="text_65">
     <text style="font-size: 10.3px; font-family: 'DejaVu Sans'; text-anchor: middle" x="447.722079" y="297.933884" transform="rotate(-90 447.722079 297.933884)">L2 error (Velocity and pressure)</text>
    </g>
   </g>
   <g id="patch_21">
    <path d="M 480.661157 381.983471 
L 480.661157 213.884298 
" style="fill: none; stroke: #000000; stroke-width: 0.9; stroke-linejoin: miter; stroke-linecap: square"/>
   </g>
   <g id="patch_22">
    <path d="M 480.661157 381.983471 
L 817.190083 381.983471 
" style="fill: none; stroke: #000000; stroke-width: 0.9; stroke-linejoin: miter; stroke-linecap: square"/>
   </g>
   <g id="patch_23">
    <path d="M 480.661157 213.884298 
L 817.190083 213.884298 
" style="fill: none; stroke: #000000; stroke-width: 0.9; stroke-linejoin: miter; stroke-linecap: square"/>
   </g>
   <g id="line2d_131">
    <path d="M 495.957926 319.206612 
L 597.936389 294.07438 
L 699.914851 268.942149 
L 801.893313 243.809917 
" clip-path="url(#p9d04092b43)" style="fill: none; stroke: #1f77b4; stroke-width: 1.5; stroke-linecap: square"/>
   </g>
   <g id="line2d_132">
    <path d="M 495.957926 311.322314 
L 597.936389 285.702479 
L 699.914851 260.082645 
L 801.893313 234.46281 
" clip-path="url(#p9d04092b43)" style="fill: none; stroke: #2ca02c; stroke-width: 1.5; stroke-linecap: square"/>
   </g>
   <g id="line2d_133">
    <defs>
     <path id="m762f3af77c" d="M 0 4.3 
C 1.140373 4.3 2.234193 3.846925 3.040559 3.040559 
C 3.846925 2.234193 4.3 1.140373 4.3 0 
C 4.3 -1.140373 3.846925 -2.234193 3.040559 -3.040559 
C 2.234193 -3.846925 1.140373 -4.3 0 -4.3 
C -1.140373 -4.3 -2.234193 -3.846925 -3.040559 -3.040559 
C -3.846925 -2.234193 -4.3 -1.140373 -4.3 0 
C -4.3 1.140373 -3.846925 2.234193 -3.040559 3.040559 
C -2.234193 3.846925 -1.140373 4.3 0 4.3 
z
" style="stroke: #1a1a1a; stroke-width: 1.4"/>
    </defs>
    <g clip-path="url(#p9d04092b43)">
     <use href="#m762f3af77c" x="495.957926" y="320.991736" style="fill: #08306b; stroke: #1a1a1a; stroke-width: 1.4"/>
    </g>
   </g>
   <g id="line2d_134">
    <defs>
     <path id="mb24b1b8611" d="M 0 4.3 
C 1.140373 4.3 2.234193 3.846925 3.040559 3.040559 
C 3.846925 2.234193 4.3 1.140373 4.3 0 
C 4.3 -1.140373 3.846925 -2.234193 3.040559 -3.040559 
C 2.234193 -3.846925 1.140373 -4.3 0 -4.3 
C -1.140373 -4.3 -2.234193 -3.846925 -3.040559 -3.040559 
C -3.846925 -2.234193 -4.3 -1.140373 -4.3 0 
C -4.3 1.140373 -3.846925 2.234193 -3.040559 3.040559 
C -2.234193 3.846925 -1.140373 4.3 0 4.3 
z
" style="stroke: #1a1a1a; stroke-width: 1.4"/>
    </defs>
    <g clip-path="url(#p9d04092b43)">
     <use href="#mb24b1b8611" x="597.936389" y="292.14876" style="fill: #94c4df; stroke: #1a1a1a; stroke-width: 1.4"/>
    </g>
   </g>
   <g id="line2d_135">
    <defs>
     <path id="m2379fb0585" d="M 0 4.3 
C 1.140373 4.3 2.234193 3.846925 3.040559 3.040559 
C 3.846925 2.234193 4.3 1.140373 4.3 0 
C 4.3 -1.140373 3.846925 -2.234193 3.040559 -3.040559 
C 2.234193 -3.846925 1.140373 -4.3 0 -4.3 
C -1.140373 -4.3 -2.234193 -3.846925 -3.040559 -3.040559 
C -3.846925 -2.234193 -4.3 -1.140373 -4.3 0 
C -4.3 1.140373 -3.846925 2.234193 -3.040559 3.040559 
C -2.234193 3.846925 -1.140373 4.3 0 4.3 
z
" style="stroke: #1a1a1a; stroke-width: 1.4"/>
    </defs>
    <g clip-path="url(#p9d04092b43)">
     <use href="#m2379fb0585" x="699.914851" y="267.438017" style="fill: #e3eef9; stroke: #1a1a1a; stroke-width: 1.4"/>
    </g>
   </g>
   <g id="line2d_136">
    <defs>
     <path id="mfade8cf324" d="M 0 4.3 
C 1.140373 4.3 2.234193 3.846925 3.040559 3.040559 
C 3.846925 2.234193 4.3 1.140373 4.3 0 
C 4.3 -1.140373 3.846925 -2.234193 3.040559 -3.040559 
C 2.234193 -3.846925 1.140373 -4.3 0 -4.3 
C -1.140373 -4.3 -2.234193 -3.846925 -3.040559 -3.040559 
C -3.846925 -2.234193 -4.3 -1.140373 -4.3 0 
C -4.3 1.140373 -3.846925 2.234193 -3.040559 3.040559 
C -2.234193 3.846925 -1.140373 4.3 0 4.3 
z
" style="stroke: #1a1a1a; stroke-width: 1.4"/>
    </defs>
    <g clip-path="url(#p9d04092b43)">
     <use href="#mfade8cf324" x="801.893313" y="245.454545" style="fill: #f7fbff; stroke: #1a1a1a; stroke-width: 1.4"/>
    </g>
   </g>
   <g id="line2d_137">
    <defs>
     <path id="m9a0cd1e2f2" d="M 0 4.3 
C 1.140373 4.3 2.234193 3.846925 3.040559 3.040559 
C 3.846925 2.234193 4.3 1.140373 4.3 0 
C 4.3 -1.140373 3.846925 -2.234193 3.040559 -3.040559 
C 2.234193 -3.846925 1.140373 -4.3 0 -4.3 
C -1.140373 -4.3 -2.234193 -3.846925 -3.040559 -3.040559 
C -3.846925 -2.234193 -4.3 -1.140373 -4.3 0 
C -4.3 1.140373 -3.846925 2.234193 -3.040559 3.040559 
C -2.234193 3.846925 -1.140373 4.3 0 4.3 
z
" style="stroke: #1a1a1a; stroke-width: 1.4"/>
    </defs>
    <g clip-path="url(#p9d04092b43)">
     <use href="#m9a0cd1e2f2" x="495.957926" y="313.22314" style="fill: #00441b; stroke: #1a1a1a; stroke-width: 1.4"/>
    </g>
   </g>
   <g id="line2d_138">
    <defs>
     <path id="md52e552835" d="M 0 4.3 
C 1.140373 4.3 2.234193 3.846925 3.040559 3.040559 
C 3.846925 2.234193 4.3 1.140373 4.3 0 
C 4.3 -1.140373 3.846925 -2.234193 3.040559 -3.040559 
C 2.234193 -3.846925 1.140373 -4.3 0 -4.3 
C -1.140373 -4.3 -2.234193 -3.846925 -3.040559 -3.040559 
C -3.846925 -2.234193 -4.3 -1.140373 -4.3 0 
C -4.3 1.140373 -3.846925 2.234193 -3.040559 3.040559 
C -2.234193 3.846925 -1.140373 4.3 0 4.3 
z
" style="stroke: #1a1a1a; stroke-width: 1.4"/>
    </defs>
    <g clip-path="url(#p9d04092b43)">
     <use href="#md52e552835" x="597.936389" y="283.471074" style="fill: #98d594; stroke: #1a1a1a; stroke-width: 1.4"/>
    </g>
   </g>
   <g id="line2d_139">
    <defs>
     <path id="mf10beee2e0" d="M 0 4.3 
C 1.140373 4.3 2.234193 3.846925 3.040559 3.040559 
C 3.846925 2.234193 4.3 1.140373 4.3 0 
C 4.3 -1.140373 3.846925 -2.234193 3.040559 -3.040559 
C 2.234193 -3.846925 1.140373 -4.3 0 -4.3 
C -1.140373 -4.3 -2.234193 -3.846925 -3.040559 -3.040559 
C -3.846925 -2.234193 -4.3 -1.140373 -4.3 0 
C -4.3 1.140373 -3.846925 2.234193 -3.040559 3.040559 
C -2.234193 3.846925 -1.140373 4.3 0 4.3 
z
" style="stroke: #1a1a1a; stroke-width: 1.4"/>
    </defs>
    <g clip-path="url(#p9d04092b43)">
     <use href="#mf10beee2e0" x="699.914851" y="258.842975" style="fill: #e5f5e0; stroke: #1a1a1a; stroke-width: 1.4"/>
    </g>
   </g>
   <g id="line2d_140">
    <defs>
     <path id="m7ed3d6ae24" d="M 0 4.3 
C 1.140373 4.3 2.234193 3.846925 3.040559 3.040559 
C 3.846925 2.234193 4.3 1.140373 4.3 0 
C 4.3 -1.140373 3.846925 -2.234193 3.040559 -3.040559 
C 2.234193 -3.846925 1.140373 -4.3 0 -4.3 
C -1.140373 -4.3 -2.234193 -3.846925 -3.040559 -3.040559 
C -3.846925 -2.234193 -4.3 -1.140373 -4.3 0 
C -4.3 1.140373 -3.846925 2.234193 -3.040559 3.040559 
C -2.234193 3.846925 -1.140373 4.3 0 4.3 
z
" style="stroke: #1a1a1a; stroke-width: 1.4"/>
    </defs>
    <g clip-path="url(#p9d04092b43)">
     <use href="#m7ed3d6ae24" x="801.893313" y="236.033058" style="fill: #f7fcf5; stroke: #1a1a1a; stroke-width: 1.4"/>
    </g>
   </g>
   <g id="legend_4">
    <g id="patch_24">
     <path d="M 487.871157 252.692766 
L 640.311157 252.692766 
Q 642.371157 252.692766 642.371157 250.632766 
L 642.371157 221.094298 
Q 642.371157 219.034298 640.311157 219.034298 
L 487.871157 219.034298 
Q 485.811157 219.034298 485.811157 221.094298 
L 485.811157 250.632766 
Q 485.811157 252.692766 487.871157 252.692766 
z
" style="fill: #ffffff; opacity: 0.8; stroke: #cccccc; stroke-linejoin: miter"/>
    </g>
    <g id="line2d_141">
     <path d="M 489.931157 227.686298 
L 500.231157 227.686298 
L 510.531157 227.686298 
" style="fill: none; stroke: #1f77b4; stroke-width: 1.5; stroke-linecap: square"/>
    </g>
    <g id="text_66">
     <g transform="translate(518.771157 231.291298)">
      <text>
       <tspan x="0" y="-0.125" style="font-size: 10.3px; font-family: 'DejaVu Sans'">V</tspan>
       <tspan x="7.011841" y="-0.125" style="font-size: 10.3px; font-family: 'DejaVu Sans'">e</tspan>
       <tspan x="13.317993" y="-0.125" style="font-size: 10.3px; font-family: 'DejaVu Sans'">l</tspan>
       <tspan x="16.165771" y="-0.125" style="font-size: 10.3px; font-family: 'DejaVu Sans'">o</tspan>
       <tspan x="22.43689" y="-0.125" style="font-size: 10.3px; font-family: 'DejaVu Sans'">c</tspan>
       <tspan x="28.072388" y="-0.125" style="font-size: 10.3px; font-family: 'DejaVu Sans'">i</tspan>
       <tspan x="30.920166" y="-0.125" style="font-size: 10.3px; font-family: 'DejaVu Sans'">t</tspan>
       <tspan x="34.939087" y="-0.125" style="font-size: 10.3px; font-family: 'DejaVu Sans'">y</tspan>
       <tspan x="41.005005" y="-0.125" style="font-size: 10.3px; font-family: 'DejaVu Sans'"> </tspan>
       <tspan x="44.263184" y="-0.125" style="font-size: 10.3px; font-family: 'DejaVu Sans'">e</tspan>
       <tspan x="50.569336" y="-0.125" style="font-size: 10.3px; font-family: 'DejaVu Sans'">r</tspan>
       <tspan x="54.783447" y="-0.125" style="font-size: 10.3px; font-family: 'DejaVu Sans'">r</tspan>
       <tspan x="58.997559" y="-0.125" style="font-size: 10.3px; font-family: 'DejaVu Sans'">o</tspan>
       <tspan x="65.268677" y="-0.125" style="font-size: 10.3px; font-family: 'DejaVu Sans'">r</tspan>
       <tspan x="69.482788" y="-0.125" style="font-size: 10.3px; font-family: 'DejaVu Sans'">:</tspan>
       <tspan x="72.936157" y="-0.125" style="font-size: 10.3px; font-family: 'DejaVu Sans'"> </tspan>
       <tspan x="76.194336" y="-0.125" style="font-size: 10.3px; font-family: 'Liberation Serif'">1</tspan>
       <tspan x="81.319336" y="-0.125" style="font-size: 10.3px; font-family: 'Liberation Serif'">.</tspan>
       <tspan x="83.881836" y="-0.125" style="font-size: 10.3px; font-family: 'Liberation Serif'">7</tspan>
       <tspan x="89.006836" y="-0.125" style="font-size: 10.3px; font-family: 'Liberation Serif'">7</tspan>
       <tspan x="94.131836" y="-0.125" style="font-style: italic; font-size: 10.3px; font-family: 'Liberation Serif'">ε</tspan>
       <tspan x="98.563433" y="-3.340625" style="font-size: 7.21px; font-family: 'Liberation Serif'">−</tspan>
       <tspan x="102.60988" y="-3.340625" style="font-size: 7.21px; font-family: 'Liberation Serif'">0</tspan>
       <tspan x="106.19738" y="-3.340625" style="font-size: 7.21px; font-family: 'Liberation Serif'">.</tspan>
       <tspan x="107.99113" y="-3.340625" style="font-size: 7.21px; font-family: 'Liberation Serif'">3</tspan>
       <tspan x="111.57863" y="-3.340625" style="font-size: 7.21px; font-family: 'Liberation Serif'">2</tspan>
      </text>
     </g>
    </g>
    <g id="line2d_142">
     <path d="M 489.931157 242.825688 
L 500.231157 242.825688 
L 510.531157 242.825688 
" style="fill: none; stroke: #2ca02c; stroke-width: 1.5; stroke-linecap: square"/>
    </g>
    <g id="text_67">
     <g transform="translate(518.771157 246.430688)">
      <text>
       <tspan x="0" y="-0.125" style="font-size: 10.3px; font-family: 'DejaVu Sans'">P</tspan>
       <tspan x="6.18103" y="-0.125" style="font-size: 10.3px; font-family: 'DejaVu Sans'">r</tspan>
       <tspan x="10.395142" y="-0.125" style="font-size: 10.3px; font-family: 'DejaVu Sans'">e</tspan>
       <tspan x="16.701294" y="-0.125" style="font-size: 10.3px; font-family: 'DejaVu Sans'">s</tspan>
       <tspan x="22.041504" y="-0.125" style="font-size: 10.3px; font-family: 'DejaVu Sans'">s</tspan>
       <tspan x="27.381714" y="-0.125" style="font-size: 10.3px; font-family: 'DejaVu Sans'">u</tspan>
       <tspan x="33.878052" y="-0.125" style="font-size: 10.3px; font-family: 'DejaVu Sans'">r</tspan>
       <tspan x="38.092163" y="-0.125" style="font-size: 10.3px; font-family: 'DejaVu Sans'">e</tspan>
       <tspan x="44.398315" y="-0.125" style="font-size: 10.3px; font-family: 'DejaVu Sans'"> </tspan>
       <tspan x="47.656494" y="-0.125" style="font-size: 10.3px; font-family: 'DejaVu Sans'">e</tspan>
       <tspan x="53.962646" y="-0.125" style="font-size: 10.3px; font-family: 'DejaVu Sans'">r</tspan>
       <tspan x="58.176758" y="-0.125" style="font-size: 10.3px; font-family: 'DejaVu Sans'">r</tspan>
       <tspan x="62.390869" y="-0.125" style="font-size: 10.3px; font-family: 'DejaVu Sans'">o</tspan>
       <tspan x="68.661987" y="-0.125" style="font-size: 10.3px; font-family: 'DejaVu Sans'">r</tspan>
       <tspan x="72.876099" y="-0.125" style="font-size: 10.3px; font-family: 'DejaVu Sans'">:</tspan>
       <tspan x="76.329468" y="-0.125" style="font-size: 10.3px; font-family: 'DejaVu Sans'"> </tspan>
       <tspan x="79.587646" y="-0.125" style="font-size: 10.3px; font-family: 'Liberation Serif'">2</tspan>
       <tspan x="84.712646" y="-0.125" style="font-size: 10.3px; font-family: 'Liberation Serif'">.</tspan>
       <tspan x="87.275146" y="-0.125" style="font-size: 10.3px; font-family: 'Liberation Serif'">2</tspan>
       <tspan x="92.400146" y="-0.125" style="font-size: 10.3px; font-family: 'Liberation Serif'">9</tspan>
       <tspan x="97.525146" y="-0.125" style="font-style: italic; font-size: 10.3px; font-family: 'Liberation Serif'">ε</tspan>
       <tspan x="101.956743" y="-3.340625" style="font-size: 7.21px; font-family: 'Liberation Serif'">−</tspan>
       <tspan x="106.003191" y="-3.340625" style="font-size: 7.21px; font-family: 'Liberation Serif'">0</tspan>
       <tspan x="109.590691" y="-3.340625" style="font-size: 7.21px; font-family: 'Liberation Serif'">.</tspan>
       <tspan x="111.384441" y="-3.340625" style="font-size: 7.21px; font-family: 'Liberation Serif'">3</tspan>
       <tspan x="114.971941" y="-3.340625" style="font-size: 7.21px; font-family: 'Liberation Serif'">7</tspan>
      </text>
     </g>
    </g>
   </g>
  </g>
  <g id="axes_5">
   <g id="matplotlib.axis_9">
    <g id="ytick_31">
     <g id="line2d_143">
      <defs>
       <path id="mc2ea4ba5e5" d="M 0 0 
L 3.5 0 
" style="stroke: #000000; stroke-width: 0.9"/>
      </defs>
      <g>
       <use href="#mc2ea4ba5e5" x="817.190083" y="264.487191" style="stroke: #000000; stroke-width: 0.9"/>
      </g>
     </g>
     <g id="text_68">
      <g transform="translate(824.190083 268.400386)">
       <text>
        <tspan x="0" y="-0.976562" style="font-size: 10.3px; font-family: 'DejaVu Sans'">1</tspan>
        <tspan x="6.521362" y="-0.976562" style="font-size: 10.3px; font-family: 'DejaVu Sans'">0</tspan>
        <tspan x="13.138428" y="-4.804688" style="font-size: 7.21px; font-family: 'Liberation Serif'">-</tspan>
        <tspan x="15.527759" y="-4.804688" style="font-size: 7.21px; font-family: 'DejaVu Sans'">3</tspan>
       </text>
      </g>
     </g>
    </g>
    <g id="ytick_32">
     <g id="line2d_144">
      <defs>
       <path id="m4655f18b3a" d="M 0 0 
L 2 0 
" style="stroke: #000000; stroke-width: 0.8"/>
      </defs>
      <g>
       <use href="#m4655f18b3a" x="817.190083" y="381.983471" style="stroke: #000000; stroke-width: 0.8"/>
      </g>
     </g>
    </g>
    <g id="ytick_33">
     <g id="line2d_145">
      <g>
       <use href="#m4655f18b3a" x="817.190083" y="352.382676" style="stroke: #000000; stroke-width: 0.8"/>
      </g>
     </g>
    </g>
    <g id="ytick_34">
     <g id="line2d_146">
      <g>
       <use href="#m4655f18b3a" x="817.190083" y="331.380578" style="stroke: #000000; stroke-width: 0.8"/>
      </g>
     </g>
    </g>
    <g id="ytick_35">
     <g id="line2d_147">
      <g>
       <use href="#m4655f18b3a" x="817.190083" y="315.090084" style="stroke: #000000; stroke-width: 0.8"/>
      </g>
     </g>
    </g>
    <g id="ytick_36">
     <g id="line2d_148">
      <g>
       <use href="#m4655f18b3a" x="817.190083" y="301.779782" style="stroke: #000000; stroke-width: 0.8"/>
      </g>
     </g>
    </g>
    <g id="ytick_37">
     <g id="line2d_149">
      <g>
       <use href="#m4655f18b3a" x="817.190083" y="290.526082" style="stroke: #000000; stroke-width: 0.8"/>
      </g>
     </g>
    </g>
    <g id="ytick_38">
     <g id="line2d_150">
      <g>
       <use href="#m4655f18b3a" x="817.190083" y="280.777684" style="stroke: #000000; stroke-width: 0.8"/>
      </g>
     </g>
    </g>
    <g id="ytick_39">
     <g id="line2d_151">
      <g>
       <use href="#m4655f18b3a" x="817.190083" y="272.178987" style="stroke: #000000; stroke-width: 0.8"/>
      </g>
     </g>
    </g>
    <g id="ytick_40">
     <g id="line2d_152">
      <g>
       <use href="#m4655f18b3a" x="817.190083" y="213.884298" style="stroke: #000000; stroke-width: 0.8"/>
      </g>
     </g>
    </g>
    <g id="text_69">
     <text style="font-size: 10.3px; font-family: 'DejaVu Sans'; text-anchor: middle" x="855.813473" y="297.933884" transform="rotate(-90 855.813473 297.933884)">L2 error (Density)</text>
    </g>
   </g>
   <g id="patch_25">
    <path d="M 817.190083 381.983471 
L 817.190083 213.884298 
" style="fill: none; stroke: #000000; stroke-width: 0.9; stroke-linejoin: miter; stroke-linecap: square"/>
   </g>
   <g id="line2d_153">
    <path d="M 495.957926 335.438017 
L 597.936389 315.46281 
L 699.914851 295.487603 
L 801.893313 275.512397 
" clip-path="url(#pbaa308bbbb)" style="fill: none; stroke: #ff7f0e; stroke-width: 1.5; stroke-linecap: square"/>
   </g>
   <g id="line2d_154">
    <defs>
     <path id="md43c1c0ea8" d="M 0 4.3 
C 1.140373 4.3 2.234193 3.846925 3.040559 3.040559 
C 3.846925 2.234193 4.3 1.140373 4.3 0 
C 4.3 -1.140373 3.846925 -2.234193 3.040559 -3.040559 
C 2.234193 -3.846925 1.140373 -4.3 0 -4.3 
C -1.140373 -4.3 -2.234193 -3.846925 -3.040559 -3.040559 
C -3.846925 -2.234193 -4.3 -1.140373 -4.3 0 
C -4.3 1.140373 -3.846925 2.234193 -3.040559 3.040559 
C -2.234193 3.846925 -1.140373 4.3 0 4.3 
z
" style="stroke: #1a1a1a; stroke-width: 1.4"/>
    </defs>
    <g clip-path="url(#pbaa308bbbb)">
     <use href="#md43c1c0ea8" x="495.957926" y="335.53719" style="fill: #7f2704; stroke: #1a1a1a; stroke-width: 1.4"/>
    </g>
   </g>
   <g id="line2d_155">
    <defs>
     <path id="m207c231192" d="M 0 4.3 
C 1.140373 4.3 2.234193 3.846925 3.040559 3.040559 
C 3.846925 2.234193 4.3 1.140373 4.3 0 
C 4.3 -1.140373 3.846925 -2.234193 3.040559 -3.040559 
C 2.234193 -3.846925 1.140373 -4.3 0 -4.3 
C -1.140373 -4.3 -2.234193 -3.846925 -3.040559 -3.040559 
C -3.846925 -2.234193 -4.3 -1.140373 -4.3 0 
C -4.3 1.140373 -3.846925 2.234193 -3.040559 3.040559 
C -2.234193 3.846925 -1.140373 4.3 0 4.3 
z
" style="stroke: #1a1a1a; stroke-width: 1.4"/>
    </defs>
    <g clip-path="url(#pbaa308bbbb)">
     <use href="#m207c231192" x="597.936389" y="315.289256" style="fill: #fda762; stroke: #1a1a1a; stroke-width: 1.4"/>
    </g>
   </g>
   <g id="line2d_156">
    <defs>
     <path id="mac7db9e639" d="M 0 4.3 
C 1.140373 4.3 2.234193 3.846925 3.040559 3.040559 
C 3.846925 2.234193 4.3 1.140373 4.3 0 
C 4.3 -1.140373 3.846925 -2.234193 3.040559 -3.040559 
C 2.234193 -3.846925 1.140373 -4.3 0 -4.3 
C -1.140373 -4.3 -2.234193 -3.846925 -3.040559 -3.040559 
C -3.846925 -2.234193 -4.3 -1.140373 -4.3 0 
C -4.3 1.140373 -3.846925 2.234193 -3.040559 3.040559 
C -2.234193 3.846925 -1.140373 4.3 0 4.3 
z
" style="stroke: #1a1a1a; stroke-width: 1.4"/>
    </defs>
    <g clip-path="url(#pbaa308bbbb)">
     <use href="#mac7db9e639" x="699.914851" y="295.53719" style="fill: #fee6ce; stroke: #1a1a1a; stroke-width: 1.4"/>
    </g>
   </g>
   <g id="line2d_157">
    <defs>
     <path id="ma46beaaf92" d="M 0 4.3 
C 1.140373 4.3 2.234193 3.846925 3.040559 3.040559 
C 3.846925 2.234193 4.3 1.140373 4.3 0 
C 4.3 -1.140373 3.846925 -2.234193 3.040559 -3.040559 
C 2.234193 -3.846925 1.140373 -4.3 0 -4.3 
C -1.140373 -4.3 -2.234193 -3.846925 -3.040559 -3.040559 
C -3.846925 -2.234193 -4.3 -1.140373 -4.3 0 
C -4.3 1.140373 -3.846925 2.234193 -3.040559 3.040559 
C -2.234193 3.846925 -1.140373 4.3 0 4.3 
z
" style="stroke: #1a1a1a; stroke-width: 1.4"/>
    </defs>
    <g clip-path="url(#pbaa308bbbb)">
     <use href="#ma46beaaf92" x="801.893313" y="275.53719" style="fill: #fff5eb; stroke: #1a1a1a; stroke-width: 1.4"/>
    </g>
   </g>
   <g id="legend_5">
    <g id="patch_26">
     <path d="M 647.549083 376.833471 
L 809.980083 376.833471 
Q 812.040083 376.833471 812.040083 374.773471 
L 812.040083 360.353471 
Q 812.040083 358.293471 809.980083 358.293471 
L 647.549083 358.293471 
Q 645.489083 358.293471 645.489083 360.353471 
L 645.489083 374.773471 
Q 645.489083 376.833471 647.549083 376.833471 
z
" style="fill: #ffffff; opacity: 0.8; stroke: #cccccc; stroke-linejoin: miter"/>
    </g>
    <g id="line2d_158">
     <path d="M 649.609083 366.945471 
L 659.909083 366.945471 
L 670.209083 366.945471 
" style="fill: none; stroke: #ff7f0e; stroke-width: 1.5; stroke-linecap: square"/>
    </g>
    <g id="text_70">
     <g transform="translate(678.449083 370.550471)">
      <text>
       <tspan x="0" y="-0.125" style="font-size: 10.3px; font-family: 'DejaVu Sans'">D</tspan>
       <tspan x="7.8927" y="-0.125" style="font-size: 10.3px; font-family: 'DejaVu Sans'">e</tspan>
       <tspan x="14.198853" y="-0.125" style="font-size: 10.3px; font-family: 'DejaVu Sans'">n</tspan>
       <tspan x="20.69519" y="-0.125" style="font-size: 10.3px; font-family: 'DejaVu Sans'">s</tspan>
       <tspan x="26.0354" y="-0.125" style="font-size: 10.3px; font-family: 'DejaVu Sans'">i</tspan>
       <tspan x="28.883179" y="-0.125" style="font-size: 10.3px; font-family: 'DejaVu Sans'">t</tspan>
       <tspan x="32.9021" y="-0.125" style="font-size: 10.3px; font-family: 'DejaVu Sans'">y</tspan>
       <tspan x="38.968018" y="-0.125" style="font-size: 10.3px; font-family: 'DejaVu Sans'"> </tspan>
       <tspan x="42.226196" y="-0.125" style="font-size: 10.3px; font-family: 'DejaVu Sans'">e</tspan>
       <tspan x="48.532349" y="-0.125" style="font-size: 10.3px; font-family: 'DejaVu Sans'">r</tspan>
       <tspan x="52.74646" y="-0.125" style="font-size: 10.3px; font-family: 'DejaVu Sans'">r</tspan>
       <tspan x="56.960571" y="-0.125" style="font-size: 10.3px; font-family: 'DejaVu Sans'">o</tspan>
       <tspan x="63.231689" y="-0.125" style="font-size: 10.3px; font-family: 'DejaVu Sans'">r</tspan>
       <tspan x="67.445801" y="-0.125" style="font-size: 10.3px; font-family: 'DejaVu Sans'">:</tspan>
       <tspan x="70.89917" y="-0.125" style="font-size: 10.3px; font-family: 'DejaVu Sans'"> </tspan>
       <tspan x="74.157349" y="-0.125" style="font-size: 10.3px; font-family: 'Liberation Serif'">0</tspan>
       <tspan x="79.282349" y="-0.125" style="font-size: 10.3px; font-family: 'Liberation Serif'">.</tspan>
       <tspan x="81.844849" y="-0.125" style="font-size: 10.3px; font-family: 'Liberation Serif'">0</tspan>
       <tspan x="86.969849" y="-0.125" style="font-size: 10.3px; font-family: 'Liberation Serif'">0</tspan>
       <tspan x="92.094849" y="-0.125" style="font-size: 10.3px; font-family: 'Liberation Serif'">4</tspan>
       <tspan x="97.219849" y="-0.125" style="font-size: 10.3px; font-family: 'Liberation Serif'">4</tspan>
       <tspan x="102.344849" y="-0.125" style="font-size: 10.3px; font-family: 'Liberation Serif'">8</tspan>
       <tspan x="107.469849" y="-0.125" style="font-style: italic; font-size: 10.3px; font-family: 'Liberation Serif'">ε</tspan>
       <tspan x="111.901445" y="-3.340625" style="font-size: 7.21px; font-family: 'Liberation Serif'">−</tspan>
       <tspan x="115.947893" y="-3.340625" style="font-size: 7.21px; font-family: 'Liberation Serif'">0</tspan>
       <tspan x="119.535393" y="-3.340625" style="font-size: 7.21px; font-family: 'Liberation Serif'">.</tspan>
       <tspan x="121.329143" y="-3.340625" style="font-size: 7.21px; font-family: 'Liberation Serif'">4</tspan>
       <tspan x="124.916643" y="-3.340625" style="font-size: 7.21px; font-family: 'Liberation Serif'">8</tspan>
      </text>
     </g>
    </g>
   </g>
  </g>
  <g id="axes_6">
   <g id="patch_27">
    <path d="M 66.77686 614.214876 
L 402.31405 614.214876 
L 402.31405 448.429752 
L 66.77686 448.429752 
z
" style="fill: #ffffff"/>
   </g>
   <g id="matplotlib.axis_10">
    <g id="xtick_23">
     <g id="line2d_159">
      <path d="M 66.77686 614.214876 
L 66.77686 448.429752 
" clip-path="url(#p0a92d3069b)" style="fill: none; stroke: #b0b0b0; stroke-linecap: square"/>
     </g>
     <g id="line2d_160">
      <g>
       <use href="#md17ebd1823" x="66.77686" y="614.214876" style="stroke: #000000; stroke-width: 0.9"/>
      </g>
     </g>
     <g id="text_71">
      <text style="font-size: 10.3px; font-family: 'DejaVu Sans'; text-anchor: middle" x="66.77686" y="629.541267" transform="rotate(-0 66.77686 629.541267)">0.0</text>
     </g>
    </g>
    <g id="xtick_24">
     <g id="line2d_161">
      <path d="M 133.884298 614.214876 
L 133.884298 448.429752 
" clip-path="url(#p0a92d3069b)" style="fill: none; stroke: #b0b0b0; stroke-linecap: square"/>
     </g>
     <g id="line2d_162">
      <g>
       <use href="#md17ebd1823" x="133.884298" y="614.214876" style="stroke: #000000; stroke-width: 0.9"/>
      </g>
     </g>
     <g id="text_72">
      <text style="font-size: 10.3px; font-family: 'DejaVu Sans'; text-anchor: middle" x="133.884298" y="629.541267" transform="rotate(-0 133.884298 629.541267)">0.1</text>
     </g>
    </g>
    <g id="xtick_25">
     <g id="line2d_163">
      <path d="M 200.991736 614.214876 
L 200.991736 448.429752 
" clip-path="url(#p0a92d3069b)" style="fill: none; stroke: #b0b0b0; stroke-linecap: square"/>
     </g>
     <g id="line2d_164">
      <g>
       <use href="#md17ebd1823" x="200.991736" y="614.214876" style="stroke: #000000; stroke-width: 0.9"/>
      </g>
     </g>
     <g id="text_73">
      <text style="font-size: 10.3px; font-family: 'DejaVu Sans'; text-anchor: middle" x="200.991736" y="629.541267" transform="rotate(-0 200.991736 629.541267)">0.2</text>
     </g>
    </g>
    <g id="xtick_26">
     <g id="line2d_165">
      <path d="M 268.099174 614.214876 
L 268.099174 448.429752 
" clip-path="url(#p0a92d3069b)" style="fill: none; stroke: #b0b0b0; stroke-linecap: square"/>
     </g>
     <g id="line2d_166">
      <g>
       <use href="#md17ebd1823" x="268.099174" y="614.214876" style="stroke: #000000; stroke-width: 0.9"/>
      </g>
     </g>
     <g id="text_74">
      <text style="font-size: 10.3px; font-family: 'DejaVu Sans'; text-anchor: middle" x="268.099174" y="629.541267" transform="rotate(-0 268.099174 629.541267)">0.3</text>
     </g>
    </g>
    <g id="xtick_27">
     <g id="line2d_167">
      <path d="M 335.206612 614.214876 
L 335.206612 448.429752 
" clip-path="url(#p0a92d3069b)" style="fill: none; stroke: #b0b0b0; stroke-linecap: square"/>
     </g>
     <g id="line2d_168">
      <g>
       <use href="#md17ebd1823" x="335.206612" y="614.214876" style="stroke: #000000; stroke-width: 0.9"/>
      </g>
     </g>
     <g id="text_75">
      <text style="font-size: 10.3px; font-family: 'DejaVu Sans'; text-anchor: middle" x="335.206612" y="629.541267" transform="rotate(-0 335.206612 629.541267)">0.4</text>
     </g>
    </g>
    <g id="xtick_28">
     <g id="line2d_169">
      <path d="M 402.31405 614.214876 
L 402.31405 448.429752 
" clip-path="url(#p0a92d3069b)" style="fill: none; stroke: #b0b0b0; stroke-linecap: square"/>
     </g>
     <g id="line2d_170">
      <g>
       <use href="#md17ebd1823" x="402.31405" y="614.214876" style="stroke: #000000; stroke-width: 0.9"/>
      </g>
     </g>
     <g id="text_76">
      <text style="font-size: 10.3px; font-family: 'DejaVu Sans'; text-anchor: middle" x="402.31405" y="629.541267" transform="rotate(-0 402.31405 629.541267)">0.5</text>
     </g>
    </g>
    <g id="text_77">
     <g transform="translate(206.323455 644.509735)">
      <text>
       <tspan x="0" y="-0.40625" style="font-size: 10.3px; font-family: 'DejaVu Sans'">P</tspan>
       <tspan x="6.18103" y="-0.40625" style="font-size: 10.3px; font-family: 'DejaVu Sans'">o</tspan>
       <tspan x="12.452148" y="-0.40625" style="font-size: 10.3px; font-family: 'DejaVu Sans'">s</tspan>
       <tspan x="17.792358" y="-0.40625" style="font-size: 10.3px; font-family: 'DejaVu Sans'">i</tspan>
       <tspan x="20.640137" y="-0.40625" style="font-size: 10.3px; font-family: 'DejaVu Sans'">t</tspan>
       <tspan x="24.659058" y="-0.40625" style="font-size: 10.3px; font-family: 'DejaVu Sans'">i</tspan>
       <tspan x="27.506836" y="-0.40625" style="font-size: 10.3px; font-family: 'DejaVu Sans'">o</tspan>
       <tspan x="33.777954" y="-0.40625" style="font-size: 10.3px; font-family: 'DejaVu Sans'">n</tspan>
       <tspan x="40.274292" y="-0.40625" style="font-size: 10.3px; font-family: 'DejaVu Sans'"> </tspan>
       <tspan x="43.532471" y="-0.40625" style="font-size: 10.3px; font-family: 'DejaVu Sans'">(</tspan>
       <tspan x="52.080811" y="-0.40625" style="font-size: 10.3px; font-family: 'DejaVu Sans'">)</tspan>
       <tspan x="47.531372" y="-0.40625" style="font-style: italic; font-size: 10.3px; font-family: 'Liberation Serif'">x</tspan>
      </text>
     </g>
    </g>
   </g>
   <g id="matplotlib.axis_11">
    <g id="ytick_41">
     <g id="line2d_171">
      <path d="M 66.77686 613.719008 
L 402.31405 613.719008 
" clip-path="url(#p0a92d3069b)" style="fill: none; stroke: #b0b0b0; stroke-linecap: square"/>
     </g>
     <g id="line2d_172">
      <g>
       <use href="#md33abd68d2" x="66.77686" y="613.719008" style="stroke: #000000; stroke-width: 0.9"/>
      </g>
     </g>
     <g id="text_78">
      <text style="font-size: 10.3px; font-family: 'DejaVu Sans'; text-anchor: end" x="59.77686" y="617.632204" transform="rotate(-0 59.77686 617.632204)">−0.0035</text>
     </g>
    </g>
    <g id="ytick_42">
     <g id="line2d_173">
      <path d="M 66.77686 591.239669 
L 402.31405 591.239669 
" clip-path="url(#p0a92d3069b)" style="fill: none; stroke: #b0b0b0; stroke-linecap: square"/>
     </g>
     <g id="line2d_174">
      <g>
       <use href="#md33abd68d2" x="66.77686" y="591.239669" style="stroke: #000000; stroke-width: 0.9"/>
      </g>
     </g>
     <g id="text_79">
      <text style="font-size: 10.3px; font-family: 'DejaVu Sans'; text-anchor: end" x="59.77686" y="595.152865" transform="rotate(-0 59.77686 595.152865)">−0.0030</text>
     </g>
    </g>
    <g id="ytick_43">
     <g id="line2d_175">
      <path d="M 66.77686 568.760331 
L 402.31405 568.760331 
" clip-path="url(#p0a92d3069b)" style="fill: none; stroke: #b0b0b0; stroke-linecap: square"/>
     </g>
     <g id="line2d_176">
      <g>
       <use href="#md33abd68d2" x="66.77686" y="568.760331" style="stroke: #000000; stroke-width: 0.9"/>
      </g>
     </g>
     <g id="text_80">
      <text style="font-size: 10.3px; font-family: 'DejaVu Sans'; text-anchor: end" x="59.77686" y="572.673526" transform="rotate(-0 59.77686 572.673526)">−0.0025</text>
     </g>
    </g>
    <g id="ytick_44">
     <g id="line2d_177">
      <path d="M 66.77686 546.280992 
L 402.31405 546.280992 
" clip-path="url(#p0a92d3069b)" style="fill: none; stroke: #b0b0b0; stroke-linecap: square"/>
     </g>
     <g id="line2d_178">
      <g>
       <use href="#md33abd68d2" x="66.77686" y="546.280992" style="stroke: #000000; stroke-width: 0.9"/>
      </g>
     </g>
     <g id="text_81">
      <text style="font-size: 10.3px; font-family: 'DejaVu Sans'; text-anchor: end" x="59.77686" y="550.194187" transform="rotate(-0 59.77686 550.194187)">−0.0020</text>
     </g>
    </g>
    <g id="ytick_45">
     <g id="line2d_179">
      <path d="M 66.77686 523.801653 
L 402.31405 523.801653 
" clip-path="url(#p0a92d3069b)" style="fill: none; stroke: #b0b0b0; stroke-linecap: square"/>
     </g>
     <g id="line2d_180">
      <g>
       <use href="#md33abd68d2" x="66.77686" y="523.801653" style="stroke: #000000; stroke-width: 0.9"/>
      </g>
     </g>
     <g id="text_82">
      <text style="font-size: 10.3px; font-family: 'DejaVu Sans'; text-anchor: end" x="59.77686" y="527.714848" transform="rotate(-0 59.77686 527.714848)">−0.0015</text>
     </g>
    </g>
    <g id="ytick_46">
     <g id="line2d_181">
      <path d="M 66.77686 501.322314 
L 402.31405 501.322314 
" clip-path="url(#p0a92d3069b)" style="fill: none; stroke: #b0b0b0; stroke-linecap: square"/>
     </g>
     <g id="line2d_182">
      <g>
       <use href="#md33abd68d2" x="66.77686" y="501.322314" style="stroke: #000000; stroke-width: 0.9"/>
      </g>
     </g>
     <g id="text_83">
      <text style="font-size: 10.3px; font-family: 'DejaVu Sans'; text-anchor: end" x="59.77686" y="505.235509" transform="rotate(-0 59.77686 505.235509)">−0.0010</text>
     </g>
    </g>
    <g id="ytick_47">
     <g id="line2d_183">
      <path d="M 66.77686 478.842975 
L 402.31405 478.842975 
" clip-path="url(#p0a92d3069b)" style="fill: none; stroke: #b0b0b0; stroke-linecap: square"/>
     </g>
     <g id="line2d_184">
      <g>
       <use href="#md33abd68d2" x="66.77686" y="478.842975" style="stroke: #000000; stroke-width: 0.9"/>
      </g>
     </g>
     <g id="text_84">
      <text style="font-size: 10.3px; font-family: 'DejaVu Sans'; text-anchor: end" x="59.77686" y="482.756171" transform="rotate(-0 59.77686 482.756171)">−0.0005</text>
     </g>
    </g>
    <g id="ytick_48">
     <g id="line2d_185">
      <path d="M 66.77686 456.363636 
L 402.31405 456.363636 
" clip-path="url(#p0a92d3069b)" style="fill: none; stroke: #b0b0b0; stroke-linecap: square"/>
     </g>
     <g id="line2d_186">
      <g>
       <use href="#md33abd68d2" x="66.77686" y="456.363636" style="stroke: #000000; stroke-width: 0.9"/>
      </g>
     </g>
     <g id="text_85">
      <text style="font-size: 10.3px; font-family: 'DejaVu Sans'; text-anchor: end" x="59.77686" y="460.276832" transform="rotate(-0 59.77686 460.276832)">0.0000</text>
     </g>
    </g>
    <g id="text_86">
     <g transform="translate(9.642438 560.162314) rotate(-90)">
      <text>
       <tspan x="0" y="-0.40625" style="font-size: 10.3px; font-family: 'DejaVu Sans'">V</tspan>
       <tspan x="7.011841" y="-0.40625" style="font-size: 10.3px; font-family: 'DejaVu Sans'">e</tspan>
       <tspan x="13.317993" y="-0.40625" style="font-size: 10.3px; font-family: 'DejaVu Sans'">l</tspan>
       <tspan x="16.165771" y="-0.40625" style="font-size: 10.3px; font-family: 'DejaVu Sans'">o</tspan>
       <tspan x="22.43689" y="-0.40625" style="font-size: 10.3px; font-family: 'DejaVu Sans'">c</tspan>
       <tspan x="28.072388" y="-0.40625" style="font-size: 10.3px; font-family: 'DejaVu Sans'">i</tspan>
       <tspan x="30.920166" y="-0.40625" style="font-size: 10.3px; font-family: 'DejaVu Sans'">t</tspan>
       <tspan x="34.939087" y="-0.40625" style="font-size: 10.3px; font-family: 'DejaVu Sans'">y</tspan>
       <tspan x="41.005005" y="-0.40625" style="font-size: 10.3px; font-family: 'DejaVu Sans'"> </tspan>
       <tspan x="44.263184" y="-0.40625" style="font-size: 10.3px; font-family: 'DejaVu Sans'">(</tspan>
       <tspan x="53.387085" y="-0.40625" style="font-size: 10.3px; font-family: 'DejaVu Sans'">)</tspan>
       <tspan x="48.262085" y="-0.40625" style="font-style: italic; font-size: 10.3px; font-family: 'Liberation Serif'">u</tspan>
      </text>
     </g>
    </g>
   </g>
   <g id="patch_28">
    <path d="M 66.77686 614.214876 
L 66.77686 448.429752 
" style="fill: none; stroke: #000000; stroke-width: 0.9; stroke-linejoin: miter; stroke-linecap: square"/>
   </g>
   <g id="patch_29">
    <path d="M 402.31405 614.214876 
L 402.31405 448.429752 
" style="fill: none; stroke: #000000; stroke-width: 0.9; stroke-linejoin: miter; stroke-linecap: square"/>
   </g>
   <g id="patch_30">
    <path d="M 66.77686 614.214876 
L 402.31405 614.214876 
" style="fill: none; stroke: #000000; stroke-width: 0.9; stroke-linejoin: miter; stroke-linecap: square"/>
   </g>
   <g id="patch_31">
    <path d="M 66.77686 448.429752 
L 402.31405 448.429752 
" style="fill: none; stroke: #000000; stroke-width: 0.9; stroke-linejoin: miter; stroke-linecap: square"/>
   </g>
   <g id="line2d_187">
    <path d="M 66.77686 600.499284 
L 68.706198 599.259495 
L 70.803306 598.180786 
L 73.152066 597.226511 
L 75.836364 596.378366 
L 79.023967 595.607446 
L 83.050413 594.873328 
L 88.419008 594.136867 
L 96.471901 593.278838 
L 112.997107 591.790503 
L 147.892975 588.637376 
L 161.901653 587.150339 
L 171.632231 585.904102 
L 179.097934 584.731773 
L 185.137603 583.567252 
L 190.254545 582.362595 
L 194.700413 581.095059 
L 198.642975 579.746679 
L 202.25 578.278829 
L 205.521488 576.707138 
L 208.457438 575.056558 
L 211.141736 573.298385 
L 213.490496 571.500722 
L 215.419835 569.757407 
L 217.013636 568.032641 
L 218.439669 566.165023 
L 219.781818 564.044523 
L 221.207851 561.366479 
L 222.046694 559.595121 
L 222.130579 562.703393 
L 222.214463 562.47189 
L 225.905372 551.954816 
L 229.847934 540.056496 
L 233.371074 528.729559 
L 237.397521 514.953837 
L 241.843388 499.899173 
L 244.863223 490.505434 
L 247.799174 482.093225 
L 250.315702 475.524905 
L 252.496694 470.436737 
L 254.426033 466.488274 
L 256.103719 463.535368 
L 257.613636 461.309099 
L 258.955785 459.70524 
L 260.21405 458.533496 
L 261.472314 457.672338 
L 262.730579 457.088038 
L 264.072727 456.709622 
L 265.750413 456.478665 
L 268.350826 456.376988 
L 278.500826 456.363636 
L 402.31405 456.363636 
L 402.31405 456.363636 
" clip-path="url(#p0a92d3069b)" style="fill: none; stroke: #86b4d8; stroke-width: 1.8; stroke-linecap: square"/>
   </g>
   <g id="line2d_188">
    <path d="M 66.77686 600.501013 
L 68.035124 599.606413 
L 69.461157 598.883625 
L 71.138843 598.299055 
L 73.23595 597.81986 
L 76.088017 597.4146 
L 80.617769 597.024137 
L 90.935537 596.417849 
L 159.133471 592.597701 
L 171.128926 591.680954 
L 179.01405 590.866666 
L 184.969835 590.035564 
L 189.75124 589.149312 
L 193.777686 588.17969 
L 197.216942 587.127898 
L 200.236777 585.980069 
L 203.004959 584.692415 
L 205.521488 583.278018 
L 207.870248 581.701173 
L 210.05124 579.968349 
L 212.064463 578.090985 
L 213.993802 575.984612 
L 215.755372 573.726493 
L 217.265289 571.438427 
L 218.523554 569.15051 
L 219.697934 566.544315 
L 220.872314 563.375308 
L 222.046694 559.673955 
L 222.130579 562.729695 
L 222.214463 562.395719 
L 225.653719 548.248358 
L 228.841322 534.187439 
L 231.441736 521.769828 
L 236.810331 495.609342 
L 239.410744 484.565265 
L 241.67562 475.843837 
L 243.43719 469.903553 
L 245.030992 465.292712 
L 246.37314 462.042147 
L 247.463636 459.915444 
L 248.470248 458.419302 
L 249.392975 457.455023 
L 250.231818 456.895353 
L 251.154545 456.561902 
L 252.328926 456.40335 
L 254.845455 456.363861 
L 402.31405 456.363636 
L 402.31405 456.363636 
" clip-path="url(#p0a92d3069b)" style="fill: none; stroke: #2d5f94; stroke-width: 1.8; stroke-linecap: square"/>
   </g>
   <g id="line2d_189">
    <path d="M 66.77686 600.501013 
L 67.615702 599.861109 
L 68.622314 599.392443 
L 69.880579 599.063429 
L 71.809917 598.815939 
L 75.584711 598.605483 
L 97.059091 597.843601 
L 168.192975 595.242215 
L 179.181818 594.61955 
L 185.976446 594.022205 
L 190.92562 593.370822 
L 194.784298 592.648429 
L 198.055785 591.813305 
L 200.823967 590.882312 
L 203.256612 589.836787 
L 205.437603 588.666025 
L 207.450826 587.338977 
L 209.296281 585.866429 
L 211.057851 584.183069 
L 212.735537 582.274717 
L 214.329339 580.124868 
L 215.839256 577.713552 
L 217.265289 575.01002 
L 218.523554 572.158244 
L 219.61405 569.131666 
L 220.620661 565.669396 
L 221.878926 560.461511 
L 222.046694 559.711557 
L 222.130579 562.690045 
L 222.214463 562.265062 
L 225.234298 546.402875 
L 228.086364 530.180695 
L 230.183471 517.003577 
L 233.119421 498.505597 
L 235.384298 486.083723 
L 237.481405 475.634045 
L 238.991322 469.176208 
L 240.417355 464.060274 
L 241.591736 460.619176 
L 242.514463 458.611053 
L 243.269421 457.446091 
L 243.940496 456.789067 
L 244.527686 456.500165 
L 245.366529 456.377478 
L 248.470248 456.363636 
L 402.31405 456.363636 
L 402.31405 456.363636 
" clip-path="url(#p0a92d3069b)" style="fill: none; stroke: #173f73; stroke-width: 1.8; stroke-linecap: square"/>
   </g>
   <g id="line2d_190">
    <path d="M 66.77686 600.501013 
L 67.36405 600.103897 
L 68.202893 599.843523 
L 69.545041 599.702331 
L 73.655372 599.596063 
L 184.550413 597.406415 
L 191.680579 597.016144 
L 196.210331 596.557606 
L 199.565702 596.005701 
L 202.25 595.349016 
L 204.514876 594.573205 
L 206.444215 593.68925 
L 208.205785 592.643032 
L 209.799587 591.442309 
L 211.309504 590.022721 
L 212.735537 588.366649 
L 214.077686 586.449407 
L 215.33595 584.247971 
L 216.510331 581.75596 
L 217.684711 578.743068 
L 218.859091 575.080743 
L 219.865702 571.180587 
L 220.872314 566.324354 
L 222.046694 559.735189 
L 222.130579 562.639708 
L 222.214463 562.150766 
L 224.814876 546.34818 
L 227.583058 528.037042 
L 229.428512 514.330008 
L 231.609504 498.437212 
L 233.87438 484.182539 
L 235.63595 474.192881 
L 236.978099 467.778449 
L 238.320248 462.469345 
L 239.242975 459.592168 
L 239.997934 457.945146 
L 240.669008 456.895835 
L 241.172314 456.486106 
L 241.67562 456.374696 
L 243.940496 456.363636 
L 402.31405 456.363636 
L 402.31405 456.363636 
" clip-path="url(#p0a92d3069b)" style="fill: none; stroke: #0b2a58; stroke-width: 1.8; stroke-linecap: square"/>
   </g>
   <g id="line2d_191">
    <path d="M 66.77686 600.501157 
L 209.883471 600.402107 
L 210.973967 600.033478 
L 212.064463 599.448781 
L 212.567769 598.865503 
L 213.238843 597.700013 
L 214.16157 595.596704 
L 216.929752 588.402045 
L 218.104132 584.763426 
L 219.194628 580.668794 
L 219.949587 577.104396 
L 220.872314 571.326772 
L 224.059917 548.764821 
L 226.576446 529.194478 
L 228.086364 515.961854 
L 230.267355 497.103729 
L 232.951653 477.63328 
L 234.293802 469.463903 
L 235.468182 463.683834 
L 236.390909 459.94261 
L 236.978099 458.337432 
L 237.816942 456.664664 
L 238.152479 456.376985 
L 238.907438 456.363636 
L 402.31405 456.363636 
L 402.31405 456.363636 
" clip-path="url(#p0a92d3069b)" style="fill: none; stroke: #000000; stroke-width: 1.8; stroke-linecap: square"/>
   </g>
   <g id="legend_6">
    <g id="patch_32">
     <path d="M 73.98686 532.262096 
L 146.29286 532.262096 
Q 148.35286 532.262096 148.35286 530.202096 
L 148.35286 455.639752 
Q 148.35286 453.579752 146.29286 453.579752 
L 73.98686 453.579752 
Q 71.92686 453.579752 71.92686 455.639752 
L 71.92686 530.202096 
Q 71.92686 532.262096 73.98686 532.262096 
z
" style="fill: #ffffff; opacity: 0.8; stroke: #cccccc; stroke-linejoin: miter"/>
    </g>
    <g id="line2d_192">
     <path d="M 76.04686 461.921143 
L 86.34686 461.921143 
L 96.64686 461.921143 
" style="fill: none; stroke: #000000; stroke-width: 1.8; stroke-linecap: square"/>
    </g>
    <g id="text_87">
     <text style="font-size: 10.3px; font-family: 'DejaVu Sans'; text-anchor: start" x="104.88686" y="465.526143" transform="rotate(-0 104.88686 465.526143)">exact</text>
    </g>
    <g id="line2d_193">
     <path d="M 76.04686 477.039611 
L 86.34686 477.039611 
L 96.64686 477.039611 
" style="fill: none; stroke: #0b2a58; stroke-width: 1.8; stroke-linecap: square"/>
    </g>
    <g id="text_88">
     <g transform="translate(104.88686 480.644611)">
      <text>
       <tspan x="0" y="-0.34375" style="font-style: italic; font-size: 10.3px; font-family: 'Liberation Serif'">ε</tspan>
       <tspan x="7.164306" y="-0.34375" style="font-size: 10.3px; font-family: 'Liberation Serif'">=</tspan>
       <tspan x="16.070312" y="-0.34375" style="font-size: 10.3px; font-family: 'Liberation Serif'">0</tspan>
       <tspan x="21.195312" y="-0.34375" style="font-size: 10.3px; font-family: 'Liberation Serif'">.</tspan>
       <tspan x="23.757812" y="-0.34375" style="font-size: 10.3px; font-family: 'Liberation Serif'">0</tspan>
       <tspan x="28.882812" y="-0.34375" style="font-size: 10.3px; font-family: 'Liberation Serif'">0</tspan>
       <tspan x="34.007812" y="-0.34375" style="font-size: 10.3px; font-family: 'Liberation Serif'">2</tspan>
      </text>
     </g>
    </g>
    <g id="line2d_194">
     <path d="M 76.04686 492.15808 
L 86.34686 492.15808 
L 96.64686 492.15808 
" style="fill: none; stroke: #173f73; stroke-width: 1.8; stroke-linecap: square"/>
    </g>
    <g id="text_89">
     <g transform="translate(104.88686 495.76308)">
      <text>
       <tspan x="0" y="-0.34375" style="font-style: italic; font-size: 10.3px; font-family: 'Liberation Serif'">ε</tspan>
       <tspan x="7.164306" y="-0.34375" style="font-size: 10.3px; font-family: 'Liberation Serif'">=</tspan>
       <tspan x="16.070312" y="-0.34375" style="font-size: 10.3px; font-family: 'Liberation Serif'">0</tspan>
       <tspan x="21.195312" y="-0.34375" style="font-size: 10.3px; font-family: 'Liberation Serif'">.</tspan>
       <tspan x="23.757812" y="-0.34375" style="font-size: 10.3px; font-family: 'Liberation Serif'">0</tspan>
       <tspan x="28.882812" y="-0.34375" style="font-size: 10.3px; font-family: 'Liberation Serif'">0</tspan>
       <tspan x="34.007812" y="-0.34375" style="font-size: 10.3px; font-family: 'Liberation Serif'">4</tspan>
      </text>
     </g>
    </g>
    <g id="line2d_195">
     <path d="M 76.04686 507.276549 
L 86.34686 507.276549 
L 96.64686 507.276549 
" style="fill: none; stroke: #2d5f94; stroke-width: 1.8; stroke-linecap: square"/>
    </g>
    <g id="text_90">
     <g transform="translate(104.88686 510.881549)">
      <text>
       <tspan x="0" y="-0.34375" style="font-style: italic; font-size: 10.3px; font-family: 'Liberation Serif'">ε</tspan>
       <tspan x="7.164306" y="-0.34375" style="font-size: 10.3px; font-family: 'Liberation Serif'">=</tspan>
       <tspan x="16.070312" y="-0.34375" style="font-size: 10.3px; font-family: 'Liberation Serif'">0</tspan>
       <tspan x="21.195312" y="-0.34375" style="font-size: 10.3px; font-family: 'Liberation Serif'">.</tspan>
       <tspan x="23.757812" y="-0.34375" style="font-size: 10.3px; font-family: 'Liberation Serif'">0</tspan>
       <tspan x="28.882812" y="-0.34375" style="font-size: 10.3px; font-family: 'Liberation Serif'">0</tspan>
       <tspan x="34.007812" y="-0.34375" style="font-size: 10.3px; font-family: 'Liberation Serif'">8</tspan>
      </text>
     </g>
    </g>
    <g id="line2d_196">
     <path d="M 76.04686 522.395018 
L 86.34686 522.395018 
L 96.64686 522.395018 
" style="fill: none; stroke: #86b4d8; stroke-width: 1.8; stroke-linecap: square"/>
    </g>
    <g id="text_91">
     <g transform="translate(104.88686 526.000018)">
      <text>
       <tspan x="0" y="-0.34375" style="font-style: italic; font-size: 10.3px; font-family: 'Liberation Serif'">ε</tspan>
       <tspan x="7.164306" y="-0.34375" style="font-size: 10.3px; font-family: 'Liberation Serif'">=</tspan>
       <tspan x="16.070312" y="-0.34375" style="font-size: 10.3px; font-family: 'Liberation Serif'">0</tspan>
       <tspan x="21.195312" y="-0.34375" style="font-size: 10.3px; font-family: 'Liberation Serif'">.</tspan>
       <tspan x="23.757812" y="-0.34375" style="font-size: 10.3px; font-family: 'Liberation Serif'">0</tspan>
       <tspan x="28.882812" y="-0.34375" style="font-size: 10.3px; font-family: 'Liberation Serif'">1</tspan>
       <tspan x="34.007812" y="-0.34375" style="font-size: 10.3px; font-family: 'Liberation Serif'">6</tspan>
      </text>
     </g>
    </g>
   </g>
  </g>
  <g id="axes_7">
   <g id="patch_33">
    <path d="M 481.322314 614.214876 
L 816.694215 614.214876 
L 816.694215 448.429752 
L 481.322314 448.429752 
z
" style="fill: #ffffff"/>
   </g>
   <g id="matplotlib.axis_12">
    <g id="xtick_29">
     <g id="line2d_197">
      <path d="M 481.322314 614.214876 
L 481.322314 448.429752 
" clip-path="url(#p22f9820ee6)" style="fill: none; stroke: #b0b0b0; stroke-linecap: square"/>
     </g>
     <g id="line2d_198">
      <g>
       <use href="#md17ebd1823" x="481.322314" y="614.214876" style="stroke: #000000; stroke-width: 0.9"/>
      </g>
     </g>
     <g id="text_92">
      <text style="font-size: 10.3px; font-family: 'DejaVu Sans'; text-anchor: middle" x="481.322314" y="629.541267" transform="rotate(-0 481.322314 629.541267)">0.0</text>
     </g>
    </g>
    <g id="xtick_30">
     <g id="line2d_199">
      <path d="M 548.396694 614.214876 
L 548.396694 448.429752 
" clip-path="url(#p22f9820ee6)" style="fill: none; stroke: #b0b0b0; stroke-linecap: square"/>
     </g>
     <g id="line2d_200">
      <g>
       <use href="#md17ebd1823" x="548.396694" y="614.214876" style="stroke: #000000; stroke-width: 0.9"/>
      </g>
     </g>
     <g id="text_93">
      <text style="font-size: 10.3px; font-family: 'DejaVu Sans'; text-anchor: middle" x="548.396694" y="629.541267" transform="rotate(-0 548.396694 629.541267)">0.1</text>
     </g>
    </g>
    <g id="xtick_31">
     <g id="line2d_201">
      <path d="M 615.471074 614.214876 
L 615.471074 448.429752 
" clip-path="url(#p22f9820ee6)" style="fill: none; stroke: #b0b0b0; stroke-linecap: square"/>
     </g>
     <g id="line2d_202">
      <g>
       <use href="#md17ebd1823" x="615.471074" y="614.214876" style="stroke: #000000; stroke-width: 0.9"/>
      </g>
     </g>
     <g id="text_94">
      <text style="font-size: 10.3px; font-family: 'DejaVu Sans'; text-anchor: middle" x="615.471074" y="629.541267" transform="rotate(-0 615.471074 629.541267)">0.2</text>
     </g>
    </g>
    <g id="xtick_32">
     <g id="line2d_203">
      <path d="M 682.545455 614.214876 
L 682.545455 448.429752 
" clip-path="url(#p22f9820ee6)" style="fill: none; stroke: #b0b0b0; stroke-linecap: square"/>
     </g>
     <g id="line2d_204">
      <g>
       <use href="#md17ebd1823" x="682.545455" y="614.214876" style="stroke: #000000; stroke-width: 0.9"/>
      </g>
     </g>
     <g id="text_95">
      <text style="font-size: 10.3px; font-family: 'DejaVu Sans'; text-anchor: middle" x="682.545455" y="629.541267" transform="rotate(-0 682.545455 629.541267)">0.3</text>
     </g>
    </g>
    <g id="xtick_33">
     <g id="line2d_205">
      <path d="M 749.619835 614.214876 
L 749.619835 448.429752 
" clip-path="url(#p22f9820ee6)" style="fill: none; stroke: #b0b0b0; stroke-linecap: square"/>
     </g>
     <g id="line2d_206">
      <g>
       <use href="#md17ebd1823" x="749.619835" y="614.214876" style="stroke: #000000; stroke-width: 0.9"/>
      </g>
     </g>
     <g id="text_96">
      <text style="font-size: 10.3px; font-family: 'DejaVu Sans'; text-anchor: middle" x="749.619835" y="629.541267" transform="rotate(-0 749.619835 629.541267)">0.4</text>
     </g>
    </g>
    <g id="xtick_34">
     <g id="line2d_207">
      <path d="M 816.694215 614.214876 
L 816.694215 448.429752 
" clip-path="url(#p22f9820ee6)" style="fill: none; stroke: #b0b0b0; stroke-linecap: square"/>
     </g>
     <g id="line2d_208">
      <g>
       <use href="#md17ebd1823" x="816.694215" y="614.214876" style="stroke: #000000; stroke-width: 0.9"/>
      </g>
     </g>
     <g id="text_97">
      <text style="font-size: 10.3px; font-family: 'DejaVu Sans'; text-anchor: middle" x="816.694215" y="629.541267" transform="rotate(-0 816.694215 629.541267)">0.5</text>
     </g>
    </g>
    <g id="text_98">
     <g transform="translate(620.786264 644.509735)">
      <text>
       <tspan x="0" y="-0.40625" style="font-size: 10.3px; font-family: 'DejaVu Sans'">P</tspan>
       <tspan x="6.18103" y="-0.40625" style="font-size: 10.3px; font-family: 'DejaVu Sans'">o</tspan>
       <tspan x="12.452148" y="-0.40625" style="font-size: 10.3px; font-family: 'DejaVu Sans'">s</tspan>
       <tspan x="17.792358" y="-0.40625" style="font-size: 10.3px; font-family: 'DejaVu Sans'">i</tspan>
       <tspan x="20.640137" y="-0.40625" style="font-size: 10.3px; font-family: 'DejaVu Sans'">t</tspan>
       <tspan x="24.659058" y="-0.40625" style="font-size: 10.3px; font-family: 'DejaVu Sans'">i</tspan>
       <tspan x="27.506836" y="-0.40625" style="font-size: 10.3px; font-family: 'DejaVu Sans'">o</tspan>
       <tspan x="33.777954" y="-0.40625" style="font-size: 10.3px; font-family: 'DejaVu Sans'">n</tspan>
       <tspan x="40.274292" y="-0.40625" style="font-size: 10.3px; font-family: 'DejaVu Sans'"> </tspan>
       <tspan x="43.532471" y="-0.40625" style="font-size: 10.3px; font-family: 'DejaVu Sans'">(</tspan>
       <tspan x="52.080811" y="-0.40625" style="font-size: 10.3px; font-family: 'DejaVu Sans'">)</tspan>
       <tspan x="47.531372" y="-0.40625" style="font-style: italic; font-size: 10.3px; font-family: 'Liberation Serif'">x</tspan>
      </text>
     </g>
    </g>
   </g>
   <g id="matplotlib.axis_13">
    <g id="ytick_49">
     <g id="line2d_209">
      <path d="M 481.322314 609.421488 
L 816.694215 609.421488 
" clip-path="url(#p22f9820ee6)" style="fill: none; stroke: #b0b0b0; stroke-linecap: square"/>
     </g>
     <g id="line2d_210">
      <g>
       <use href="#md33abd68d2" x="481.322314" y="609.421488" style="stroke: #000000; stroke-width: 0.9"/>
      </g>
     </g>
     <g id="text_99">
      <text style="font-size: 10.3px; font-family: 'DejaVu Sans'; text-anchor: end" x="474.322314" y="613.334683" transform="rotate(-0 474.322314 613.334683)">0.4990</text>
     </g>
    </g>
    <g id="ytick_50">
     <g id="line2d_211">
      <path d="M 481.322314 578.842975 
L 816.694215 578.842975 
" clip-path="url(#p22f9820ee6)" style="fill: none; stroke: #b0b0b0; stroke-linecap: square"/>
     </g>
     <g id="line2d_212">
      <g>
       <use href="#md33abd68d2" x="481.322314" y="578.842975" style="stroke: #000000; stroke-width: 0.9"/>
      </g>
     </g>
     <g id="text_100">
      <text style="font-size: 10.3px; font-family: 'DejaVu Sans'; text-anchor: end" x="474.322314" y="582.756171" transform="rotate(-0 474.322314 582.756171)">0.4992</text>
     </g>
    </g>
    <g id="ytick_51">
     <g id="line2d_213">
      <path d="M 481.322314 548.264463 
L 816.694215 548.264463 
" clip-path="url(#p22f9820ee6)" style="fill: none; stroke: #b0b0b0; stroke-linecap: square"/>
     </g>
     <g id="line2d_214">
      <g>
       <use href="#md33abd68d2" x="481.322314" y="548.264463" style="stroke: #000000; stroke-width: 0.9"/>
      </g>
     </g>
     <g id="text_101">
      <text style="font-size: 10.3px; font-family: 'DejaVu Sans'; text-anchor: end" x="474.322314" y="552.177658" transform="rotate(-0 474.322314 552.177658)">0.4994</text>
     </g>
    </g>
    <g id="ytick_52">
     <g id="line2d_215">
      <path d="M 481.322314 517.68595 
L 816.694215 517.68595 
" clip-path="url(#p22f9820ee6)" style="fill: none; stroke: #b0b0b0; stroke-linecap: square"/>
     </g>
     <g id="line2d_216">
      <g>
       <use href="#md33abd68d2" x="481.322314" y="517.68595" style="stroke: #000000; stroke-width: 0.9"/>
      </g>
     </g>
     <g id="text_102">
      <text style="font-size: 10.3px; font-family: 'DejaVu Sans'; text-anchor: end" x="474.322314" y="521.599146" transform="rotate(-0 474.322314 521.599146)">0.4996</text>
     </g>
    </g>
    <g id="ytick_53">
     <g id="line2d_217">
      <path d="M 481.322314 487.107438 
L 816.694215 487.107438 
" clip-path="url(#p22f9820ee6)" style="fill: none; stroke: #b0b0b0; stroke-linecap: square"/>
     </g>
     <g id="line2d_218">
      <g>
       <use href="#md33abd68d2" x="481.322314" y="487.107438" style="stroke: #000000; stroke-width: 0.9"/>
      </g>
     </g>
     <g id="text_103">
      <text style="font-size: 10.3px; font-family: 'DejaVu Sans'; text-anchor: end" x="474.322314" y="491.020633" transform="rotate(-0 474.322314 491.020633)">0.4998</text>
     </g>
    </g>
    <g id="ytick_54">
     <g id="line2d_219">
      <path d="M 481.322314 456.528926 
L 816.694215 456.528926 
" clip-path="url(#p22f9820ee6)" style="fill: none; stroke: #b0b0b0; stroke-linecap: square"/>
     </g>
     <g id="line2d_220">
      <g>
       <use href="#md33abd68d2" x="481.322314" y="456.528926" style="stroke: #000000; stroke-width: 0.9"/>
      </g>
     </g>
     <g id="text_104">
      <text style="font-size: 10.3px; font-family: 'DejaVu Sans'; text-anchor: end" x="474.322314" y="460.442121" transform="rotate(-0 474.322314 460.442121)">0.5000</text>
     </g>
    </g>
    <g id="text_105">
     <g transform="translate(432.71597 559.029314) rotate(-90)">
      <text>
       <tspan x="0" y="-0.40625" style="font-size: 10.3px; font-family: 'DejaVu Sans'">D</tspan>
       <tspan x="7.8927" y="-0.40625" style="font-size: 10.3px; font-family: 'DejaVu Sans'">e</tspan>
       <tspan x="14.198853" y="-0.40625" style="font-size: 10.3px; font-family: 'DejaVu Sans'">n</tspan>
       <tspan x="20.69519" y="-0.40625" style="font-size: 10.3px; font-family: 'DejaVu Sans'">s</tspan>
       <tspan x="26.0354" y="-0.40625" style="font-size: 10.3px; font-family: 'DejaVu Sans'">i</tspan>
       <tspan x="28.883179" y="-0.40625" style="font-size: 10.3px; font-family: 'DejaVu Sans'">t</tspan>
       <tspan x="32.9021" y="-0.40625" style="font-size: 10.3px; font-family: 'DejaVu Sans'">y</tspan>
       <tspan x="38.968018" y="-0.40625" style="font-size: 10.3px; font-family: 'DejaVu Sans'"> </tspan>
       <tspan x="42.226196" y="-0.40625" style="font-size: 10.3px; font-family: 'DejaVu Sans'">(</tspan>
       <tspan x="51.144897" y="-0.40625" style="font-size: 10.3px; font-family: 'DejaVu Sans'">)</tspan>
       <tspan x="46.225098" y="-0.40625" style="font-style: italic; font-size: 10.3px; font-family: 'Liberation Serif'">ρ</tspan>
      </text>
     </g>
    </g>
   </g>
   <g id="patch_34">
    <path d="M 481.322314 614.214876 
L 481.322314 448.429752 
" style="fill: none; stroke: #000000; stroke-width: 0.9; stroke-linejoin: miter; stroke-linecap: square"/>
   </g>
   <g id="patch_35">
    <path d="M 816.694215 614.214876 
L 816.694215 448.429752 
" style="fill: none; stroke: #000000; stroke-width: 0.9; stroke-linejoin: miter; stroke-linecap: square"/>
   </g>
   <g id="patch_36">
    <path d="M 481.322314 614.214876 
L 816.694215 614.214876 
" style="fill: none; stroke: #000000; stroke-width: 0.9; stroke-linejoin: miter; stroke-linecap: square"/>
   </g>
   <g id="patch_37">
    <path d="M 481.322314 448.429752 
L 816.694215 448.429752 
" style="fill: none; stroke: #000000; stroke-width: 0.9; stroke-linejoin: miter; stroke-linecap: square"/>
   </g>
   <g id="line2d_221">
    <path d="M 481.322314 521.961127 
L 482.412273 528.200494 
L 483.586074 533.623909 
L 484.759876 537.961536 
L 485.933678 541.426732 
L 487.107479 544.190961 
L 488.281281 546.392052 
L 489.455083 548.140864 
L 490.712727 549.613794 
L 491.970372 550.758027 
L 493.395702 551.74662 
L 494.988719 552.563603 
L 497.00095 553.321052 
L 499.767769 554.360299 
L 500.773884 554.99268 
L 501.612314 555.793933 
L 502.366901 556.85915 
L 503.037645 558.200095 
L 503.708388 560.033385 
L 504.462975 562.821068 
L 505.301405 566.915076 
L 506.391364 573.579101 
L 508.487438 586.679683 
L 509.325868 590.526239 
L 510.080455 593.085541 
L 510.835041 594.900309 
L 511.589628 596.132886 
L 512.344215 596.941324 
L 513.182645 597.498016 
L 514.104917 597.841677 
L 515.278719 598.039445 
L 517.039421 598.086518 
L 520.225455 597.909459 
L 530.873512 596.995623 
L 558.70938 594.402263 
L 573.884959 592.78401 
L 584.113802 591.479858 
L 591.827355 590.281989 
L 598.115579 589.086694 
L 603.397686 587.860866 
L 607.925207 586.58882 
L 611.949669 585.232675 
L 615.554917 583.78821 
L 618.824793 582.242599 
L 621.759298 580.616473 
L 624.442273 578.877676 
L 626.789876 577.094238 
L 628.802107 575.291107 
L 630.56281 573.411898 
L 632.155826 571.379877 
L 633.748843 568.968233 
L 635.425702 566.009465 
L 636.515661 563.878526 
L 636.599504 567.179367 
L 636.683347 566.97761 
L 641.210868 555.781024 
L 645.570702 544.406916 
L 649.511322 533.524983 
L 653.200413 522.667557 
L 660.410909 501.224829 
L 663.596942 492.637636 
L 666.950661 484.221431 
L 669.801322 477.619369 
L 672.232769 472.515451 
L 674.412686 468.426972 
L 676.424917 465.105129 
L 678.18562 462.5994 
L 679.778636 460.699481 
L 681.203967 459.323796 
L 682.545455 458.318539 
L 683.886942 457.585279 
L 685.312273 457.071466 
L 686.905289 456.750391 
L 689.001364 456.580354 
L 693.109669 456.529872 
L 795.481942 456.528926 
L 816.694215 456.528926 
L 816.694215 456.528926 
" clip-path="url(#p22f9820ee6)" style="fill: none; stroke: #f4a070; stroke-width: 1.8; stroke-linecap: square"/>
   </g>
   <g id="line2d_222">
    <path d="M 481.322314 551.017455 
L 482.160744 552.981594 
L 482.999174 554.406273 
L 483.921446 555.522275 
L 484.843719 556.300315 
L 485.933678 556.920496 
L 487.275165 557.409637 
L 489.455083 558.163498 
L 490.125826 558.684249 
L 490.628884 559.351357 
L 491.131942 560.425773 
L 491.635 562.130662 
L 492.138058 564.73863 
L 492.724959 569.236099 
L 493.479545 577.235045 
L 494.821033 591.937184 
L 495.407934 596.181663 
L 495.994835 598.909473 
L 496.497893 600.345687 
L 497.00095 601.224815 
L 497.587851 601.809373 
L 498.258595 602.14438 
L 499.180868 602.320997 
L 500.773884 602.34699 
L 505.888306 602.091519 
L 565.500661 598.685031 
L 580.927769 597.601274 
L 590.066653 596.749403 
L 596.690248 595.917585 
L 601.888512 595.046972 
L 606.164504 594.111546 
L 609.853595 593.079222 
L 613.039628 591.961925 
L 615.890289 590.732592 
L 618.489421 589.37386 
L 620.920868 587.849263 
L 623.184628 586.160394 
L 625.280702 584.312511 
L 627.209091 582.314584 
L 628.969793 580.177254 
L 630.56281 577.907421 
L 631.98814 575.495339 
L 633.245785 572.934996 
L 634.50343 569.861176 
L 635.92876 565.767814 
L 636.515661 563.927772 
L 636.599504 567.151495 
L 636.683347 566.847496 
L 640.540124 552.432954 
L 644.061529 538.349086 
L 646.828347 526.439815 
L 653.787314 495.634674 
L 656.721818 484.428031 
L 659.069421 476.270198 
L 660.913967 470.619707 
L 662.590826 466.157173 
L 664.1 462.730131 
L 665.357645 460.399276 
L 666.447603 458.832496 
L 667.453719 457.779393 
L 668.375992 457.14073 
L 669.298264 456.776235 
L 670.388223 456.591865 
L 672.400455 456.530725 
L 703.84157 456.528926 
L 816.694215 456.528926 
L 816.694215 456.528926 
" clip-path="url(#p22f9820ee6)" style="fill: none; stroke: #d04a20; stroke-width: 1.8; stroke-linecap: square"/>
   </g>
   <g id="line2d_223">
    <path d="M 481.322314 553.759561 
L 481.909215 555.862289 
L 482.496116 557.213118 
L 483.083017 558.080029 
L 483.75376 558.701406 
L 484.676033 559.225306 
L 485.514463 559.747006 
L 485.933678 560.278597 
L 486.26905 561.050725 
L 486.604421 562.39256 
L 486.939793 564.669714 
L 487.359008 569.476854 
L 487.862066 578.460652 
L 488.784339 595.561056 
L 489.203554 599.86485 
L 489.622769 602.192462 
L 490.041983 603.343838 
L 490.461198 603.884999 
L 490.964256 604.15884 
L 491.718843 604.275651 
L 493.647231 604.252523 
L 535.987934 602.711832 
L 582.688471 600.896829 
L 593.504215 600.261945 
L 600.211653 599.656817 
L 605.074545 599.006061 
L 608.931322 598.276093 
L 612.201198 597.433698 
L 614.968017 596.4957 
L 617.399463 595.443152 
L 619.57938 594.265206 
L 621.591612 592.930588 
L 623.436157 591.450117 
L 625.19686 589.757634 
L 626.873719 587.835817 
L 628.466736 585.66508 
L 629.975909 583.22346 
L 631.40124 580.48265 
L 632.658884 577.601248 
L 633.748843 574.579295 
L 634.838802 570.877099 
L 636.180289 565.430806 
L 636.515661 563.958478 
L 636.599504 567.089 
L 636.683347 566.684414 
L 639.86938 550.762091 
L 642.97157 534.00167 
L 645.067645 521.55333 
L 648.672893 499.848568 
L 651.104339 487.176882 
L 653.284256 476.804237 
L 654.877273 470.248044 
L 656.386446 465.007984 
L 657.644091 461.366169 
L 658.566364 459.313895 
L 659.404793 457.938492 
L 660.15938 457.102015 
L 660.830124 456.707238 
L 661.584711 456.556404 
L 663.429256 456.528931 
L 816.694215 456.528926 
L 816.694215 456.528926 
" clip-path="url(#p22f9820ee6)" style="fill: none; stroke: #8c2a10; stroke-width: 1.8; stroke-linecap: square"/>
   </g>
   <g id="line2d_224">
    <path d="M 481.322314 556.111175 
L 481.741529 558.198282 
L 482.160744 559.333015 
L 483.250702 561.496219 
L 483.502231 563.019263 
L 483.75376 566.063688 
L 484.089132 574.095677 
L 485.011405 601.070428 
L 485.346777 603.917806 
L 485.682149 604.94232 
L 486.017521 605.287184 
L 486.520579 605.41999 
L 487.945909 605.426819 
L 577.825579 603.694047 
L 598.618636 603.163336 
L 605.745289 602.773614 
L 610.356653 602.309166 
L 613.710372 601.759809 
L 616.393347 601.107358 
L 618.657107 600.337382 
L 620.669339 599.416911 
L 622.430041 598.367378 
L 624.023058 597.163146 
L 625.532231 595.739626 
L 626.957562 594.077177 
L 628.215207 592.276679 
L 629.472851 590.079194 
L 630.646653 587.590706 
L 631.820455 584.588644 
L 632.994256 580.960473 
L 634.000372 577.155 
L 635.006488 572.437423 
L 636.347975 564.974824 
L 636.515661 563.983391 
L 636.599504 567.025933 
L 636.683347 566.543387 
L 639.366322 550.453277 
L 642.216983 531.884102 
L 644.061529 518.446609 
L 646.576818 500.254817 
L 648.924421 485.650489 
L 650.768967 475.282417 
L 652.110455 468.878696 
L 653.535785 463.230153 
L 654.458058 460.269248 
L 655.212645 458.526676 
L 656.051074 457.140494 
L 656.554132 456.687881 
L 657.05719 456.546198 
L 658.650207 456.528926 
L 816.694215 456.528926 
L 816.694215 456.528926 
" clip-path="url(#p22f9820ee6)" style="fill: none; stroke: #6e1e0a; stroke-width: 1.8; stroke-linecap: square"/>
   </g>
   <g id="line2d_225">
    <path d="M 481.322314 606.363636 
L 624.35843 606.260671 
L 625.364545 605.914709 
L 626.454504 605.340869 
L 626.957562 604.784378 
L 627.628306 603.624378 
L 628.550579 601.481023 
L 631.233554 594.275381 
L 632.491198 590.298339 
L 633.581157 586.105819 
L 634.419587 582.042093 
L 635.34186 576.036102 
L 638.527893 552.582366 
L 641.043182 532.238485 
L 642.552355 518.482827 
L 644.732273 498.879314 
L 647.415248 478.639275 
L 648.756736 470.146994 
L 649.930537 464.138462 
L 650.85281 460.249362 
L 651.439711 458.580738 
L 652.27814 456.841852 
L 652.613512 456.542802 
L 653.368099 456.528926 
L 816.694215 456.528926 
L 816.694215 456.528926 
" clip-path="url(#p22f9820ee6)" style="fill: none; stroke: #000000; stroke-width: 1.8; stroke-linecap: square"/>
   </g>
   <g id="legend_7">
    <g id="patch_38">
     <path d="M 488.532314 532.262096 
L 560.838314 532.262096 
Q 562.898314 532.262096 562.898314 530.202096 
L 562.898314 455.639752 
Q 562.898314 453.579752 560.838314 453.579752 
L 488.532314 453.579752 
Q 486.472314 453.579752 486.472314 455.639752 
L 486.472314 530.202096 
Q 486.472314 532.262096 488.532314 532.262096 
z
" style="fill: #ffffff; opacity: 0.8; stroke: #cccccc; stroke-linejoin: miter"/>
    </g>
    <g id="line2d_226">
     <path d="M 490.592314 461.921143 
L 500.892314 461.921143 
L 511.192314 461.921143 
" style="fill: none; stroke: #000000; stroke-width: 1.8; stroke-linecap: square"/>
    </g>
    <g id="text_106">
     <text style="font-size: 10.3px; font-family: 'DejaVu Sans'; text-anchor: start" x="519.432314" y="465.526143" transform="rotate(-0 519.432314 465.526143)">exact</text>
    </g>
    <g id="line2d_227">
     <path d="M 490.592314 477.039611 
L 500.892314 477.039611 
L 511.192314 477.039611 
" style="fill: none; stroke: #6e1e0a; stroke-width: 1.8; stroke-linecap: square"/>
    </g>
    <g id="text_107">
     <g transform="translate(519.432314 480.644611)">
      <text>
       <tspan x="0" y="-0.34375" style="font-style: italic; font-size: 10.3px; font-family: 'Liberation Serif'">ε</tspan>
       <tspan x="7.164306" y="-0.34375" style="font-size: 10.3px; font-family: 'Liberation Serif'">=</tspan>
       <tspan x="16.070312" y="-0.34375" style="font-size: 10.3px; font-family: 'Liberation Serif'">0</tspan>
       <tspan x="21.195312" y="-0.34375" style="font-size: 10.3px; font-family: 'Liberation Serif'">.</tspan>
       <tspan x="23.757812" y="-0.34375" style="font-size: 10.3px; font-family: 'Liberation Serif'">0</tspan>
       <tspan x="28.882812" y="-0.34375" style="font-size: 10.3px; font-family: 'Liberation Serif'">0</tspan>
       <tspan x="34.007812" y="-0.34375" style="font-size: 10.3px; font-family: 'Liberation Serif'">2</tspan>
      </text>
     </g>
    </g>
    <g id="line2d_228">
     <path d="M 490.592314 492.15808 
L 500.892314 492.15808 
L 511.192314 492.15808 
" style="fill: none; stroke: #8c2a10; stroke-width: 1.8; stroke-linecap: square"/>
    </g>
    <g id="text_108">
     <g transform="translate(519.432314 495.76308)">
      <text>
       <tspan x="0" y="-0.34375" style="font-style: italic; font-size: 10.3px; font-family: 'Liberation Serif'">ε</tspan>
       <tspan x="7.164306" y="-0.34375" style="font-size: 10.3px; font-family: 'Liberation Serif'">=</tspan>
       <tspan x="16.070312" y="-0.34375" style="font-size: 10.3px; font-family: 'Liberation Serif'">0</tspan>
       <tspan x="21.195312" y="-0.34375" style="font-size: 10.3px; font-family: 'Liberation Serif'">.</tspan>
       <tspan x="23.757812" y="-0.34375" style="font-size: 10.3px; font-family: 'Liberation Serif'">0</tspan>
       <tspan x="28.882812" y="-0.34375" style="font-size: 10.3px; font-family: 'Liberation Serif'">0</tspan>
       <tspan x="34.007812" y="-0.34375" style="font-size: 10.3px; font-family: 'Liberation Serif'">4</tspan>
      </text>
     </g>
    </g>
    <g id="line2d_229">
     <path d="M 490.592314 507.276549 
L 500.892314 507.276549 
L 511.192314 507.276549 
" style="fill: none; stroke: #d04a20; stroke-width: 1.8; stroke-linecap: square"/>
    </g>
    <g id="text_109">
     <g transform="translate(519.432314 510.881549)">
      <text>
       <tspan x="0" y="-0.34375" style="font-style: italic; font-size: 10.3px; font-family: 'Liberation Serif'">ε</tspan>
       <tspan x="7.164306" y="-0.34375" style="font-size: 10.3px; font-family: 'Liberation Serif'">=</tspan>
       <tspan x="16.070312" y="-0.34375" style="font-size: 10.3px; font-family: 'Liberation Serif'">0</tspan>
       <tspan x="21.195312" y="-0.34375" style="font-size: 10.3px; font-family: 'Liberation Serif'">.</tspan>
       <tspan x="23.757812" y="-0.34375" style="font-size: 10.3px; font-family: 'Liberation Serif'">0</tspan>
       <tspan x="28.882812" y="-0.34375" style="font-size: 10.3px; font-family: 'Liberation Serif'">0</tspan>
       <tspan x="34.007812" y="-0.34375" style="font-size: 10.3px; font-family: 'Liberation Serif'">8</tspan>
      </text>
     </g>
    </g>
    <g id="line2d_230">
     <path d="M 490.592314 522.395018 
L 500.892314 522.395018 
L 511.192314 522.395018 
" style="fill: none; stroke: #f4a070; stroke-width: 1.8; stroke-linecap: square"/>
    </g>
    <g id="text_110">
     <g transform="translate(519.432314 526.000018)">
      <text>
       <tspan x="0" y="-0.34375" style="font-style: italic; font-size: 10.3px; font-family: 'Liberation Serif'">ε</tspan>
       <tspan x="7.164306" y="-0.34375" style="font-size: 10.3px; font-family: 'Liberation Serif'">=</tspan>
       <tspan x="16.070312" y="-0.34375" style="font-size: 10.3px; font-family: 'Liberation Serif'">0</tspan>
       <tspan x="21.195312" y="-0.34375" style="font-size: 10.3px; font-family: 'Liberation Serif'">.</tspan>
       <tspan x="23.757812" y="-0.34375" style="font-size: 10.3px; font-family: 'Liberation Serif'">0</tspan>
       <tspan x="28.882812" y="-0.34375" style="font-size: 10.3px; font-family: 'Liberation Serif'">1</tspan>
       <tspan x="34.007812" y="-0.34375" style="font-size: 10.3px; font-family: 'Liberation Serif'">6</tspan>
      </text>
     </g>
    </g>
   </g>
  </g>
  <g id="axes_8">
   <g id="patch_39">
    <path d="M 66.61157 830.743802 
L 402.31405 830.743802 
L 402.31405 665.289256 
L 66.61157 665.289256 
z
" style="fill: #ffffff"/>
   </g>
   <g id="matplotlib.axis_14">
    <g id="xtick_35">
     <g id="line2d_231">
      <path d="M 66.61157 830.743802 
L 66.61157 665.289256 
" clip-path="url(#p979d3e3b76)" style="fill: none; stroke: #b0b0b0; stroke-linecap: square"/>
     </g>
     <g id="line2d_232">
      <g>
       <use href="#md17ebd1823" x="66.61157" y="830.743802" style="stroke: #000000; stroke-width: 0.9"/>
      </g>
     </g>
     <g id="text_111">
      <text style="font-size: 10.3px; font-family: 'DejaVu Sans'; text-anchor: middle" x="66.61157" y="846.070192" transform="rotate(-0 66.61157 846.070192)">0.0</text>
     </g>
    </g>
    <g id="xtick_36">
     <g id="line2d_233">
      <path d="M 133.752066 830.743802 
L 133.752066 665.289256 
" clip-path="url(#p979d3e3b76)" style="fill: none; stroke: #b0b0b0; stroke-linecap: square"/>
     </g>
     <g id="line2d_234">
      <g>
       <use href="#md17ebd1823" x="133.752066" y="830.743802" style="stroke: #000000; stroke-width: 0.9"/>
      </g>
     </g>
     <g id="text_112">
      <text style="font-size: 10.3px; font-family: 'DejaVu Sans'; text-anchor: middle" x="133.752066" y="846.070192" transform="rotate(-0 133.752066 846.070192)">0.1</text>
     </g>
    </g>
    <g id="xtick_37">
     <g id="line2d_235">
      <path d="M 200.892562 830.743802 
L 200.892562 665.289256 
" clip-path="url(#p979d3e3b76)" style="fill: none; stroke: #b0b0b0; stroke-linecap: square"/>
     </g>
     <g id="line2d_236">
      <g>
       <use href="#md17ebd1823" x="200.892562" y="830.743802" style="stroke: #000000; stroke-width: 0.9"/>
      </g>
     </g>
     <g id="text_113">
      <text style="font-size: 10.3px; font-family: 'DejaVu Sans'; text-anchor: middle" x="200.892562" y="846.070192" transform="rotate(-0 200.892562 846.070192)">0.2</text>
     </g>
    </g>
    <g id="xtick_38">
     <g id="line2d_237">
      <path d="M 268.033058 830.743802 
L 268.033058 665.289256 
" clip-path="url(#p979d3e3b76)" style="fill: none; stroke: #b0b0b0; stroke-linecap: square"/>
     </g>
     <g id="line2d_238">
      <g>
       <use href="#md17ebd1823" x="268.033058" y="830.743802" style="stroke: #000000; stroke-width: 0.9"/>
      </g>
     </g>
     <g id="text_114">
      <text style="font-size: 10.3px; font-family: 'DejaVu Sans'; text-anchor: middle" x="268.033058" y="846.070192" transform="rotate(-0 268.033058 846.070192)">0.3</text>
     </g>
    </g>
    <g id="xtick_39">
     <g id="line2d_239">
      <path d="M 335.173554 830.743802 
L 335.173554 665.289256 
" clip-path="url(#p979d3e3b76)" style="fill: none; stroke: #b0b0b0; stroke-linecap: square"/>
     </g>
     <g id="line2d_240">
      <g>
       <use href="#md17ebd1823" x="335.173554" y="830.743802" style="stroke: #000000; stroke-width: 0.9"/>
      </g>
     </g>
     <g id="text_115">
      <text style="font-size: 10.3px; font-family: 'DejaVu Sans'; text-anchor: middle" x="335.173554" y="846.070192" transform="rotate(-0 335.173554 846.070192)">0.4</text>
     </g>
    </g>
    <g id="xtick_40">
     <g id="line2d_241">
      <path d="M 402.31405 830.743802 
L 402.31405 665.289256 
" clip-path="url(#p979d3e3b76)" style="fill: none; stroke: #b0b0b0; stroke-linecap: square"/>
     </g>
     <g id="line2d_242">
      <g>
       <use href="#md17ebd1823" x="402.31405" y="830.743802" style="stroke: #000000; stroke-width: 0.9"/>
      </g>
     </g>
     <g id="text_116">
      <text style="font-size: 10.3px; font-family: 'DejaVu Sans'; text-anchor: middle" x="402.31405" y="846.070192" transform="rotate(-0 402.31405 846.070192)">0.5</text>
     </g>
    </g>
    <g id="text_117">
     <g transform="translate(206.24081 861.038661)">
      <text>
       <tspan x="0" y="-0.40625" style="font-size: 10.3px; font-family: 'DejaVu Sans'">P</tspan>
       <tspan x="6.18103" y="-0.40625" style="font-size: 10.3px; font-family: 'DejaVu Sans'">o</tspan>
       <tspan x="12.452148" y="-0.40625" style="font-size: 10.3px; font-family: 'DejaVu Sans'">s</tspan>
       <tspan x="17.792358" y="-0.40625" style="font-size: 10.3px; font-family: 'DejaVu Sans'">i</tspan>
       <tspan x="20.640137" y="-0.40625" style="font-size: 10.3px; font-family: 'DejaVu Sans'">t</tspan>
       <tspan x="24.659058" y="-0.40625" style="font-size: 10.3px; font-family: 'DejaVu Sans'">i</tspan>
       <tspan x="27.506836" y="-0.40625" style="font-size: 10.3px; font-family: 'DejaVu Sans'">o</tspan>
       <tspan x="33.777954" y="-0.40625" style="font-size: 10.3px; font-family: 'DejaVu Sans'">n</tspan>
       <tspan x="40.274292" y="-0.40625" style="font-size: 10.3px; font-family: 'DejaVu Sans'"> </tspan>
       <tspan x="43.532471" y="-0.40625" style="font-size: 10.3px; font-family: 'DejaVu Sans'">(</tspan>
       <tspan x="52.080811" y="-0.40625" style="font-size: 10.3px; font-family: 'DejaVu Sans'">)</tspan>
       <tspan x="47.531372" y="-0.40625" style="font-style: italic; font-size: 10.3px; font-family: 'Liberation Serif'">x</tspan>
      </text>
     </g>
    </g>
   </g>
   <g id="matplotlib.axis_15">
    <g id="ytick_55">
     <g id="line2d_243">
      <path d="M 66.61157 811.07438 
L 402.31405 811.07438 
" clip-path="url(#p979d3e3b76)" style="fill: none; stroke: #b0b0b0; stroke-linecap: square"/>
     </g>
     <g id="line2d_244">
      <g>
       <use href="#md33abd68d2" x="66.61157" y="811.07438" style="stroke: #000000; stroke-width: 0.9"/>
      </g>
     </g>
     <g id="text_118">
      <text style="font-size: 10.3px; font-family: 'DejaVu Sans'; text-anchor: end" x="59.61157" y="814.987575" transform="rotate(-0 59.61157 814.987575)">0.9975</text>
     </g>
    </g>
    <g id="ytick_56">
     <g id="line2d_245">
      <path d="M 66.61157 783.504132 
L 402.31405 783.504132 
" clip-path="url(#p979d3e3b76)" style="fill: none; stroke: #b0b0b0; stroke-linecap: square"/>
     </g>
     <g id="line2d_246">
      <g>
       <use href="#md33abd68d2" x="66.61157" y="783.504132" style="stroke: #000000; stroke-width: 0.9"/>
      </g>
     </g>
     <g id="text_119">
      <text style="font-size: 10.3px; font-family: 'DejaVu Sans'; text-anchor: end" x="59.61157" y="787.417328" transform="rotate(-0 59.61157 787.417328)">0.9980</text>
     </g>
    </g>
    <g id="ytick_57">
     <g id="line2d_247">
      <path d="M 66.61157 755.933884 
L 402.31405 755.933884 
" clip-path="url(#p979d3e3b76)" style="fill: none; stroke: #b0b0b0; stroke-linecap: square"/>
     </g>
     <g id="line2d_248">
      <g>
       <use href="#md33abd68d2" x="66.61157" y="755.933884" style="stroke: #000000; stroke-width: 0.9"/>
      </g>
     </g>
     <g id="text_120">
      <text style="font-size: 10.3px; font-family: 'DejaVu Sans'; text-anchor: end" x="59.61157" y="759.84708" transform="rotate(-0 59.61157 759.84708)">0.9985</text>
     </g>
    </g>
    <g id="ytick_58">
     <g id="line2d_249">
      <path d="M 66.61157 728.363636 
L 402.31405 728.363636 
" clip-path="url(#p979d3e3b76)" style="fill: none; stroke: #b0b0b0; stroke-linecap: square"/>
     </g>
     <g id="line2d_250">
      <g>
       <use href="#md33abd68d2" x="66.61157" y="728.363636" style="stroke: #000000; stroke-width: 0.9"/>
      </g>
     </g>
     <g id="text_121">
      <text style="font-size: 10.3px; font-family: 'DejaVu Sans'; text-anchor: end" x="59.61157" y="732.276832" transform="rotate(-0 59.61157 732.276832)">0.9990</text>
     </g>
    </g>
    <g id="ytick_59">
     <g id="line2d_251">
      <path d="M 66.61157 700.793388 
L 402.31405 700.793388 
" clip-path="url(#p979d3e3b76)" style="fill: none; stroke: #b0b0b0; stroke-linecap: square"/>
     </g>
     <g id="line2d_252">
      <g>
       <use href="#md33abd68d2" x="66.61157" y="700.793388" style="stroke: #000000; stroke-width: 0.9"/>
      </g>
     </g>
     <g id="text_122">
      <text style="font-size: 10.3px; font-family: 'DejaVu Sans'; text-anchor: end" x="59.61157" y="704.706584" transform="rotate(-0 59.61157 704.706584)">0.9995</text>
     </g>
    </g>
    <g id="ytick_60">
     <g id="line2d_253">
      <path d="M 66.61157 673.22314 
L 402.31405 673.22314 
" clip-path="url(#p979d3e3b76)" style="fill: none; stroke: #b0b0b0; stroke-linecap: square"/>
     </g>
     <g id="line2d_254">
      <g>
       <use href="#md33abd68d2" x="66.61157" y="673.22314" style="stroke: #000000; stroke-width: 0.9"/>
      </g>
     </g>
     <g id="text_123">
      <text style="font-size: 10.3px; font-family: 'DejaVu Sans'; text-anchor: end" x="59.61157" y="677.136336" transform="rotate(-0 59.61157 677.136336)">1.0000</text>
     </g>
    </g>
    <g id="text_124">
     <g transform="translate(18.005226 778.556029) rotate(-90)">
      <text>
       <tspan x="0" y="-0.40625" style="font-size: 10.3px; font-family: 'DejaVu Sans'">P</tspan>
       <tspan x="6.18103" y="-0.40625" style="font-size: 10.3px; font-family: 'DejaVu Sans'">r</tspan>
       <tspan x="10.395142" y="-0.40625" style="font-size: 10.3px; font-family: 'DejaVu Sans'">e</tspan>
       <tspan x="16.701294" y="-0.40625" style="font-size: 10.3px; font-family: 'DejaVu Sans'">s</tspan>
       <tspan x="22.041504" y="-0.40625" style="font-size: 10.3px; font-family: 'DejaVu Sans'">s</tspan>
       <tspan x="27.381714" y="-0.40625" style="font-size: 10.3px; font-family: 'DejaVu Sans'">u</tspan>
       <tspan x="33.878052" y="-0.40625" style="font-size: 10.3px; font-family: 'DejaVu Sans'">r</tspan>
       <tspan x="38.092163" y="-0.40625" style="font-size: 10.3px; font-family: 'DejaVu Sans'">e</tspan>
       <tspan x="44.398315" y="-0.40625" style="font-size: 10.3px; font-family: 'DejaVu Sans'"> </tspan>
       <tspan x="47.656494" y="-0.40625" style="font-size: 10.3px; font-family: 'DejaVu Sans'">(</tspan>
       <tspan x="56.780396" y="-0.40625" style="font-size: 10.3px; font-family: 'DejaVu Sans'">)</tspan>
       <tspan x="51.655396" y="-0.40625" style="font-style: italic; font-size: 10.3px; font-family: 'Liberation Serif'">p</tspan>
      </text>
     </g>
    </g>
   </g>
   <g id="patch_40">
    <path d="M 66.61157 830.743802 
L 66.61157 665.289256 
" style="fill: none; stroke: #000000; stroke-width: 0.9; stroke-linejoin: miter; stroke-linecap: square"/>
   </g>
   <g id="patch_41">
    <path d="M 402.31405 830.743802 
L 402.31405 665.289256 
" style="fill: none; stroke: #000000; stroke-width: 0.9; stroke-linejoin: miter; stroke-linecap: square"/>
   </g>
   <g id="patch_42">
    <path d="M 66.61157 830.743802 
L 402.31405 830.743802 
" style="fill: none; stroke: #000000; stroke-width: 0.9; stroke-linejoin: miter; stroke-linecap: square"/>
   </g>
   <g id="patch_43">
    <path d="M 66.61157 665.289256 
L 402.31405 665.289256 
" style="fill: none; stroke: #000000; stroke-width: 0.9; stroke-linejoin: miter; stroke-linecap: square"/>
   </g>
   <g id="line2d_255">
    <path d="M 66.61157 774.118418 
L 67.702603 782.249849 
L 68.793636 788.816111 
L 69.884669 794.114987 
L 70.975702 798.387604 
L 72.066736 801.829213 
L 73.157769 804.597916 
L 74.332727 806.973344 
L 75.507686 808.845005 
L 76.682645 810.315309 
L 77.941529 811.537597 
L 79.284339 812.525612 
L 80.711074 813.299732 
L 82.305661 813.910975 
L 84.152025 814.373516 
L 86.334091 814.683218 
L 89.103636 814.836233 
L 92.796364 814.797644 
L 98.251529 814.497198 
L 108.658306 813.662657 
L 135.850207 811.212044 
L 154.481694 809.346374 
L 166.147355 807.965828 
L 174.623843 806.749183 
L 181.337893 805.570854 
L 186.960909 804.364544 
L 191.744669 803.117725 
L 195.94095 801.801367 
L 199.717603 800.387721 
L 203.158554 798.863036 
L 206.263802 797.248614 
L 209.117273 795.520152 
L 211.718967 793.687014 
L 213.984959 791.819505 
L 215.831322 790.015024 
L 217.341983 788.239619 
L 218.684793 786.332269 
L 220.027603 784.034263 
L 221.454339 781.133674 
L 221.957893 780.002858 
L 222.041818 783.208745 
L 222.125744 782.964594 
L 225.734545 772.118841 
L 229.595124 759.826813 
L 233.12 747.863619 
L 237.232355 733.015652 
L 241.428636 718.068632 
L 244.366033 708.440878 
L 247.219504 699.823781 
L 249.737273 692.90662 
L 251.835413 687.758457 
L 253.681777 683.775104 
L 255.360289 680.660209 
L 256.87095 678.321317 
L 258.21376 676.645145 
L 259.472645 675.428482 
L 260.647603 674.590971 
L 261.822562 674.010044 
L 263.165372 673.599941 
L 264.759959 673.356647 
L 267.193802 673.24171 
L 274.998884 673.22314 
L 402.31405 673.22314 
L 402.31405 673.22314 
" clip-path="url(#p979d3e3b76)" style="fill: none; stroke: #8cc890; stroke-width: 1.8; stroke-linecap: square"/>
   </g>
   <g id="line2d_256">
    <path d="M 66.61157 804.523179 
L 67.450826 808.478372 
L 68.290083 811.359596 
L 69.129339 813.455086 
L 69.968595 814.975722 
L 70.807851 816.075785 
L 71.731033 816.933857 
L 72.73814 817.571175 
L 73.913099 818.045919 
L 75.339835 818.3723 
L 77.186198 818.557594 
L 79.955744 818.591434 
L 85.159132 818.392265 
L 107.902975 817.147088 
L 154.733471 814.435333 
L 168.329421 813.436889 
L 176.889835 812.597393 
L 183.184256 811.765693 
L 188.135868 810.897432 
L 192.332149 809.940116 
L 195.94095 808.889056 
L 199.046198 807.759545 
L 201.899669 806.484918 
L 204.501364 805.074654 
L 206.851281 803.550518 
L 209.033347 801.877813 
L 211.131488 799.988287 
L 213.061777 797.954899 
L 214.90814 795.680672 
L 216.502727 793.375309 
L 217.929463 790.91672 
L 219.104421 788.451417 
L 220.27938 785.428665 
L 221.538264 781.524982 
L 221.957893 780.089386 
L 222.041818 783.244692 
L 222.125744 782.894262 
L 225.566694 768.038665 
L 228.755868 753.255634 
L 231.357562 740.176983 
L 236.309174 714.804921 
L 238.826942 703.494425 
L 241.092934 694.233036 
L 242.855372 687.894634 
L 244.449959 682.962948 
L 245.792769 679.471678 
L 246.967727 677.015054 
L 247.974835 675.421415 
L 248.814091 674.469516 
L 249.653347 673.841251 
L 250.492603 673.483165 
L 251.583636 673.286114 
L 253.513926 673.225073 
L 282.468264 673.22314 
L 402.31405 673.22314 
L 402.31405 673.22314 
" clip-path="url(#p979d3e3b76)" style="fill: none; stroke: #2f7a48; stroke-width: 1.8; stroke-linecap: square"/>
   </g>
   <g id="line2d_257">
    <path d="M 66.61157 813.215748 
L 67.19905 815.836171 
L 67.786529 817.520508 
L 68.374008 818.600462 
L 69.045413 819.365648 
L 69.800744 819.861879 
L 70.723926 820.173209 
L 71.98281 820.339772 
L 74.164876 820.370441 
L 81.214628 820.141995 
L 166.986612 816.934876 
L 178.31657 816.293595 
L 185.198471 815.694832 
L 190.234008 815.04134 
L 194.178512 814.311944 
L 197.451612 813.486155 
L 200.221157 812.567195 
L 202.655 811.536435 
L 204.920992 810.33378 
L 206.935207 809.016631 
L 208.865496 807.482668 
L 210.627934 805.799062 
L 212.306446 803.891892 
L 213.901033 801.746546 
L 215.411694 799.345928 
L 216.83843 796.66475 
L 218.18124 793.65388 
L 219.272273 790.679481 
L 220.27938 787.279915 
L 221.454339 782.433223 
L 221.957893 780.129471 
L 222.041818 783.206726 
L 222.125744 782.763037 
L 225.147066 766.19655 
L 228.000537 749.239067 
L 230.098678 735.446609 
L 232.952149 716.717834 
L 235.21814 703.763038 
L 237.232355 693.292606 
L 238.743017 686.536191 
L 240.169752 681.190492 
L 241.260785 677.827367 
L 242.183967 675.678935 
L 242.939298 674.42564 
L 243.610702 673.707569 
L 244.198182 673.383178 
L 244.953512 673.245351 
L 247.135579 673.22314 
L 402.31405 673.22314 
L 402.31405 673.22314 
" clip-path="url(#p979d3e3b76)" style="fill: none; stroke: #1b5a33; stroke-width: 1.8; stroke-linecap: square"/>
   </g>
   <g id="line2d_258">
    <path d="M 66.61157 818.535963 
L 67.031198 819.913799 
L 67.450826 820.647577 
L 67.95438 821.088747 
L 68.625785 821.331029 
L 69.716818 821.429423 
L 73.073843 821.394347 
L 180.414711 819.263545 
L 189.310826 818.877756 
L 194.514215 818.440578 
L 198.206942 817.916472 
L 201.060413 817.299458 
L 203.494256 816.548522 
L 205.508471 815.704701 
L 207.354835 814.691393 
L 209.033347 813.509846 
L 210.544008 812.175833 
L 211.970744 810.621272 
L 213.313554 808.831224 
L 214.572438 806.783386 
L 215.831322 804.287703 
L 217.006281 801.458062 
L 218.18124 798.029876 
L 219.272273 794.144107 
L 220.195455 790.038365 
L 221.370413 783.661041 
L 221.957893 780.153889 
L 222.041818 783.155959 
L 222.125744 782.647474 
L 224.727438 766.2099 
L 227.413058 747.762188 
L 229.259421 733.543888 
L 231.525413 716.399518 
L 233.791405 701.610731 
L 235.553843 691.28011 
L 236.896653 684.681766 
L 238.239463 679.224411 
L 239.078719 676.546285 
L 239.83405 674.839387 
L 240.505455 673.757641 
L 241.009008 673.343051 
L 241.512562 673.233577 
L 243.862479 673.22314 
L 402.31405 673.22314 
L 402.31405 673.22314 
" clip-path="url(#p979d3e3b76)" style="fill: none; stroke: #0e3d22; stroke-width: 1.8; stroke-linecap: square"/>
   </g>
   <g id="line2d_259">
    <path d="M 66.61157 822.323041 
L 209.788678 822.220581 
L 210.795785 821.876316 
L 211.886818 821.30529 
L 212.390372 820.751528 
L 213.061777 819.597217 
L 213.984959 817.464373 
L 216.670579 810.294069 
L 217.929463 806.33653 
L 219.020496 802.164571 
L 219.859752 798.120774 
L 220.782934 792.144237 
L 223.972107 768.805522 
L 226.489876 748.56141 
L 228.000537 734.873211 
L 230.182603 715.365837 
L 232.868223 695.225057 
L 234.211033 686.774424 
L 235.385992 680.795359 
L 236.309174 676.925332 
L 236.896653 675.26489 
L 237.735909 673.534532 
L 238.071612 673.236949 
L 238.826942 673.22314 
L 402.31405 673.22314 
L 402.31405 673.22314 
" clip-path="url(#p979d3e3b76)" style="fill: none; stroke: #000000; stroke-width: 1.8; stroke-linecap: square"/>
   </g>
   <g id="legend_8">
    <g id="patch_44">
     <path d="M 73.82157 749.1216 
L 146.12757 749.1216 
Q 148.18757 749.1216 148.18757 747.0616 
L 148.18757 672.499256 
Q 148.18757 670.439256 146.12757 670.439256 
L 73.82157 670.439256 
Q 71.76157 670.439256 71.76157 672.499256 
L 71.76157 747.0616 
Q 71.76157 749.1216 73.82157 749.1216 
z
" style="fill: #ffffff; opacity: 0.8; stroke: #cccccc; stroke-linejoin: miter"/>
    </g>
    <g id="line2d_260">
     <path d="M 75.88157 678.780647 
L 86.18157 678.780647 
L 96.48157 678.780647 
" style="fill: none; stroke: #000000; stroke-width: 1.8; stroke-linecap: square"/>
    </g>
    <g id="text_125">
     <text style="font-size: 10.3px; font-family: 'DejaVu Sans'; text-anchor: start" x="104.72157" y="682.385647" transform="rotate(-0 104.72157 682.385647)">exact</text>
    </g>
    <g id="line2d_261">
     <path d="M 75.88157 693.899116 
L 86.18157 693.899116 
L 96.48157 693.899116 
" style="fill: none; stroke: #0e3d22; stroke-width: 1.8; stroke-linecap: square"/>
    </g>
    <g id="text_126">
     <g transform="translate(104.72157 697.504116)">
      <text>
       <tspan x="0" y="-0.34375" style="font-style: italic; font-size: 10.3px; font-family: 'Liberation Serif'">ε</tspan>
       <tspan x="7.164306" y="-0.34375" style="font-size: 10.3px; font-family: 'Liberation Serif'">=</tspan>
       <tspan x="16.070312" y="-0.34375" style="font-size: 10.3px; font-family: 'Liberation Serif'">0</tspan>
       <tspan x="21.195312" y="-0.34375" style="font-size: 10.3px; font-family: 'Liberation Serif'">.</tspan>
       <tspan x="23.757812" y="-0.34375" style="font-size: 10.3px; font-family: 'Liberation Serif'">0</tspan>
       <tspan x="28.882812" y="-0.34375" style="font-size: 10.3px; font-family: 'Liberation Serif'">0</tspan>
       <tspan x="34.007812" y="-0.34375" style="font-size: 10.3px; font-family: 'Liberation Serif'">2</tspan>
      </text>
     </g>
    </g>
    <g id="line2d_262">
     <path d="M 75.88157 709.017584 
L 86.18157 709.017584 
L 96.48157 709.017584 
" style="fill: none; stroke: #1b5a33; stroke-width: 1.8; stroke-linecap: square"/>
    </g>
    <g id="text_127">
     <g transform="translate(104.72157 712.622584)">
      <text>
       <tspan x="0" y="-0.34375" style="font-style: italic; font-size: 10.3px; font-family: 'Liberation Serif'">ε</tspan>
       <tspan x="7.164306" y="-0.34375" style="font-size: 10.3px; font-family: 'Liberation Serif'">=</tspan>
       <tspan x="16.070312" y="-0.34375" style="font-size: 10.3px; font-family: 'Liberation Serif'">0</tspan>
       <tspan x="21.195312" y="-0.34375" style="font-size: 10.3px; font-family: 'Liberation Serif'">.</tspan>
       <tspan x="23.757812" y="-0.34375" style="font-size: 10.3px; font-family: 'Liberation Serif'">0</tspan>
       <tspan x="28.882812" y="-0.34375" style="font-size: 10.3px; font-family: 'Liberation Serif'">0</tspan>
       <tspan x="34.007812" y="-0.34375" style="font-size: 10.3px; font-family: 'Liberation Serif'">4</tspan>
      </text>
     </g>
    </g>
    <g id="line2d_263">
     <path d="M 75.88157 724.136053 
L 86.18157 724.136053 
L 96.48157 724.136053 
" style="fill: none; stroke: #2f7a48; stroke-width: 1.8; stroke-linecap: square"/>
    </g>
    <g id="text_128">
     <g transform="translate(104.72157 727.741053)">
      <text>
       <tspan x="0" y="-0.34375" style="font-style: italic; font-size: 10.3px; font-family: 'Liberation Serif'">ε</tspan>
       <tspan x="7.164306" y="-0.34375" style="font-size: 10.3px; font-family: 'Liberation Serif'">=</tspan>
       <tspan x="16.070312" y="-0.34375" style="font-size: 10.3px; font-family: 'Liberation Serif'">0</tspan>
       <tspan x="21.195312" y="-0.34375" style="font-size: 10.3px; font-family: 'Liberation Serif'">.</tspan>
       <tspan x="23.757812" y="-0.34375" style="font-size: 10.3px; font-family: 'Liberation Serif'">0</tspan>
       <tspan x="28.882812" y="-0.34375" style="font-size: 10.3px; font-family: 'Liberation Serif'">0</tspan>
       <tspan x="34.007812" y="-0.34375" style="font-size: 10.3px; font-family: 'Liberation Serif'">8</tspan>
      </text>
     </g>
    </g>
    <g id="line2d_264">
     <path d="M 75.88157 739.254522 
L 86.18157 739.254522 
L 96.48157 739.254522 
" style="fill: none; stroke: #8cc890; stroke-width: 1.8; stroke-linecap: square"/>
    </g>
    <g id="text_129">
     <g transform="translate(104.72157 742.859522)">
      <text>
       <tspan x="0" y="-0.34375" style="font-style: italic; font-size: 10.3px; font-family: 'Liberation Serif'">ε</tspan>
       <tspan x="7.164306" y="-0.34375" style="font-size: 10.3px; font-family: 'Liberation Serif'">=</tspan>
       <tspan x="16.070312" y="-0.34375" style="font-size: 10.3px; font-family: 'Liberation Serif'">0</tspan>
       <tspan x="21.195312" y="-0.34375" style="font-size: 10.3px; font-family: 'Liberation Serif'">.</tspan>
       <tspan x="23.757812" y="-0.34375" style="font-size: 10.3px; font-family: 'Liberation Serif'">0</tspan>
       <tspan x="28.882812" y="-0.34375" style="font-size: 10.3px; font-family: 'Liberation Serif'">1</tspan>
       <tspan x="34.007812" y="-0.34375" style="font-size: 10.3px; font-family: 'Liberation Serif'">6</tspan>
      </text>
     </g>
    </g>
   </g>
  </g>
  <g id="axes_9">
   <g id="patch_45">
    <path d="M 481.322314 830.743802 
L 816.694215 830.743802 
L 816.694215 665.289256 
L 481.322314 665.289256 
z
" style="fill: #ffffff"/>
   </g>
   <g id="matplotlib.axis_16">
    <g id="xtick_41">
     <g id="line2d_265">
      <g>
       <use href="#md17ebd1823" x="496.566491" y="830.743802" style="stroke: #000000; stroke-width: 0.9"/>
      </g>
     </g>
     <g id="text_130">
      <text style="font-size: 10.3px; font-family: 'DejaVu Sans'; text-anchor: middle" x="496.566491" y="846.070192" transform="rotate(-0 496.566491 846.070192)">0.002</text>
     </g>
    </g>
    <g id="xtick_42">
     <g id="line2d_266">
      <g>
       <use href="#md17ebd1823" x="598.19434" y="830.743802" style="stroke: #000000; stroke-width: 0.9"/>
      </g>
     </g>
     <g id="text_131">
      <text style="font-size: 10.3px; font-family: 'DejaVu Sans'; text-anchor: middle" x="598.19434" y="846.070192" transform="rotate(-0 598.19434 846.070192)">0.004</text>
     </g>
    </g>
    <g id="xtick_43">
     <g id="line2d_267">
      <g>
       <use href="#md17ebd1823" x="699.822189" y="830.743802" style="stroke: #000000; stroke-width: 0.9"/>
      </g>
     </g>
     <g id="text_132">
      <text style="font-size: 10.3px; font-family: 'DejaVu Sans'; text-anchor: middle" x="699.822189" y="846.070192" transform="rotate(-0 699.822189 846.070192)">0.008</text>
     </g>
    </g>
    <g id="xtick_44">
     <g id="line2d_268">
      <g>
       <use href="#md17ebd1823" x="801.450038" y="830.743802" style="stroke: #000000; stroke-width: 0.9"/>
      </g>
     </g>
     <g id="text_133">
      <text style="font-size: 10.3px; font-family: 'DejaVu Sans'; text-anchor: middle" x="801.450038" y="846.070192" transform="rotate(-0 801.450038 846.070192)">0.016</text>
     </g>
    </g>
    <g id="text_134">
     <g transform="translate(646.948264 861.038661)">
      <text>
       <tspan x="0" y="-0.28125" style="font-style: italic; font-size: 10.3px; font-family: 'Liberation Serif'">ε</tspan>
      </text>
     </g>
    </g>
   </g>
   <g id="matplotlib.axis_17">
    <g id="ytick_61">
     <g id="line2d_269">
      <path d="M 481.322314 830.743802 
L 816.694215 830.743802 
" clip-path="url(#pc1c6d4e410)" style="fill: none; stroke: #b0b0b0; stroke-linecap: square"/>
     </g>
     <g id="line2d_270">
      <g>
       <use href="#md33abd68d2" x="481.322314" y="830.743802" style="stroke: #000000; stroke-width: 0.9"/>
      </g>
     </g>
     <g id="text_135">
      <g transform="translate(453.825314 834.656997)">
       <text>
        <tspan x="0" y="-0.976562" style="font-size: 10.3px; font-family: 'DejaVu Sans'">1</tspan>
        <tspan x="6.521362" y="-0.976562" style="font-size: 10.3px; font-family: 'DejaVu Sans'">0</tspan>
        <tspan x="13.138428" y="-4.804688" style="font-size: 7.21px; font-family: 'Liberation Serif'">-</tspan>
        <tspan x="15.527759" y="-4.804688" style="font-size: 7.21px; font-family: 'DejaVu Sans'">2</tspan>
       </text>
      </g>
     </g>
    </g>
    <g id="ytick_62">
     <g id="line2d_271">
      <path d="M 481.322314 703.571833 
L 816.694215 703.571833 
" clip-path="url(#pc1c6d4e410)" style="fill: none; stroke: #b0b0b0; stroke-linecap: square"/>
     </g>
     <g id="line2d_272">
      <g>
       <use href="#md33abd68d2" x="481.322314" y="703.571833" style="stroke: #000000; stroke-width: 0.9"/>
      </g>
     </g>
     <g id="text_136">
      <g transform="translate(453.825314 707.485029)">
       <text>
        <tspan x="0" y="-0.064063" style="font-size: 10.3px; font-family: 'DejaVu Sans'">1</tspan>
        <tspan x="6.521362" y="-0.064063" style="font-size: 10.3px; font-family: 'DejaVu Sans'">0</tspan>
        <tspan x="13.138428" y="-3.892188" style="font-size: 7.21px; font-family: 'Liberation Serif'">-</tspan>
        <tspan x="15.527759" y="-3.892188" style="font-size: 7.21px; font-family: 'DejaVu Sans'">1</tspan>
       </text>
      </g>
     </g>
    </g>
    <g id="ytick_63">
     <g id="line2d_273">
      <path d="M 481.322314 792.461225 
L 816.694215 792.461225 
" clip-path="url(#pc1c6d4e410)" style="fill: none; stroke: #b0b0b0; stroke-opacity: 0.35; stroke-linecap: square"/>
     </g>
     <g id="line2d_274">
      <g>
       <use href="#m3827d522c1" x="481.322314" y="792.461225" style="stroke: #000000; stroke-width: 0.8"/>
      </g>
     </g>
    </g>
    <g id="ytick_64">
     <g id="line2d_275">
      <path d="M 481.322314 770.067353 
L 816.694215 770.067353 
" clip-path="url(#pc1c6d4e410)" style="fill: none; stroke: #b0b0b0; stroke-opacity: 0.35; stroke-linecap: square"/>
     </g>
     <g id="line2d_276">
      <g>
       <use href="#m3827d522c1" x="481.322314" y="770.067353" style="stroke: #000000; stroke-width: 0.8"/>
      </g>
     </g>
    </g>
    <g id="ytick_65">
     <g id="line2d_277">
      <path d="M 481.322314 754.178647 
L 816.694215 754.178647 
" clip-path="url(#pc1c6d4e410)" style="fill: none; stroke: #b0b0b0; stroke-opacity: 0.35; stroke-linecap: square"/>
     </g>
     <g id="line2d_278">
      <g>
       <use href="#m3827d522c1" x="481.322314" y="754.178647" style="stroke: #000000; stroke-width: 0.8"/>
      </g>
     </g>
    </g>
    <g id="ytick_66">
     <g id="line2d_279">
      <path d="M 481.322314 741.85441 
L 816.694215 741.85441 
" clip-path="url(#pc1c6d4e410)" style="fill: none; stroke: #b0b0b0; stroke-opacity: 0.35; stroke-linecap: square"/>
     </g>
     <g id="line2d_280">
      <g>
       <use href="#m3827d522c1" x="481.322314" y="741.85441" style="stroke: #000000; stroke-width: 0.8"/>
      </g>
     </g>
    </g>
    <g id="ytick_67">
     <g id="line2d_281">
      <path d="M 481.322314 731.784775 
L 816.694215 731.784775 
" clip-path="url(#pc1c6d4e410)" style="fill: none; stroke: #b0b0b0; stroke-opacity: 0.35; stroke-linecap: square"/>
     </g>
     <g id="line2d_282">
      <g>
       <use href="#m3827d522c1" x="481.322314" y="731.784775" style="stroke: #000000; stroke-width: 0.8"/>
      </g>
     </g>
    </g>
    <g id="ytick_68">
     <g id="line2d_283">
      <path d="M 481.322314 723.27102 
L 816.694215 723.27102 
" clip-path="url(#pc1c6d4e410)" style="fill: none; stroke: #b0b0b0; stroke-opacity: 0.35; stroke-linecap: square"/>
     </g>
     <g id="line2d_284">
      <g>
       <use href="#m3827d522c1" x="481.322314" y="723.27102" style="stroke: #000000; stroke-width: 0.8"/>
      </g>
     </g>
    </g>
    <g id="ytick_69">
     <g id="line2d_285">
      <path d="M 481.322314 715.89607 
L 816.694215 715.89607 
" clip-path="url(#pc1c6d4e410)" style="fill: none; stroke: #b0b0b0; stroke-opacity: 0.35; stroke-linecap: square"/>
     </g>
     <g id="line2d_286">
      <g>
       <use href="#m3827d522c1" x="481.322314" y="715.89607" style="stroke: #000000; stroke-width: 0.8"/>
      </g>
     </g>
    </g>
    <g id="ytick_70">
     <g id="line2d_287">
      <path d="M 481.322314 709.390903 
L 816.694215 709.390903 
" clip-path="url(#pc1c6d4e410)" style="fill: none; stroke: #b0b0b0; stroke-opacity: 0.35; stroke-linecap: square"/>
     </g>
     <g id="line2d_288">
      <g>
       <use href="#m3827d522c1" x="481.322314" y="709.390903" style="stroke: #000000; stroke-width: 0.8"/>
      </g>
     </g>
    </g>
    <g id="ytick_71">
     <g id="line2d_289">
      <path d="M 481.322314 665.289256 
L 816.694215 665.289256 
" clip-path="url(#pc1c6d4e410)" style="fill: none; stroke: #b0b0b0; stroke-opacity: 0.35; stroke-linecap: square"/>
     </g>
     <g id="line2d_290">
      <g>
       <use href="#m3827d522c1" x="481.322314" y="665.289256" style="stroke: #000000; stroke-width: 0.8"/>
      </g>
     </g>
    </g>
    <g id="text_137">
     <text style="font-size: 10.3px; font-family: 'DejaVu Sans'; text-anchor: middle" x="448.383236" y="748.016529" transform="rotate(-90 448.383236 748.016529)">L2 error (Velocity and pressure)</text>
    </g>
   </g>
   <g id="patch_46">
    <path d="M 481.322314 830.743802 
L 481.322314 665.289256 
" style="fill: none; stroke: #000000; stroke-width: 0.9; stroke-linejoin: miter; stroke-linecap: square"/>
   </g>
   <g id="patch_47">
    <path d="M 481.322314 830.743802 
L 816.694215 830.743802 
" style="fill: none; stroke: #000000; stroke-width: 0.9; stroke-linejoin: miter; stroke-linecap: square"/>
   </g>
   <g id="patch_48">
    <path d="M 481.322314 665.289256 
L 816.694215 665.289256 
" style="fill: none; stroke: #000000; stroke-width: 0.9; stroke-linejoin: miter; stroke-linecap: square"/>
   </g>
   <g id="line2d_291">
    <path d="M 496.566491 781.900826 
L 598.19434 747.024793 
L 699.822189 712.14876 
L 801.450038 677.272727 
" clip-path="url(#pc1c6d4e410)" style="fill: none; stroke: #1f77b4; stroke-width: 1.5; stroke-linecap: square"/>
   </g>
   <g id="line2d_292">
    <path d="M 496.566491 813.520661 
L 598.19434 779.024793 
L 699.822189 744.528926 
L 801.450038 710.033058 
" clip-path="url(#pc1c6d4e410)" style="fill: none; stroke: #2ca02c; stroke-width: 1.5; stroke-linecap: square"/>
   </g>
   <g id="line2d_293">
    <g clip-path="url(#pc1c6d4e410)">
     <use href="#m762f3af77c" x="496.566491" y="780.661157" style="fill: #08306b; stroke: #1a1a1a; stroke-width: 1.4"/>
    </g>
   </g>
   <g id="line2d_294">
    <g clip-path="url(#pc1c6d4e410)">
     <use href="#mb24b1b8611" x="598.19434" y="750.413223" style="fill: #94c4df; stroke: #1a1a1a; stroke-width: 1.4"/>
    </g>
   </g>
   <g id="line2d_295">
    <g clip-path="url(#pc1c6d4e410)">
     <use href="#m2379fb0585" x="699.822189" y="709.090909" style="fill: #e3eef9; stroke: #1a1a1a; stroke-width: 1.4"/>
    </g>
   </g>
   <g id="line2d_296">
    <g clip-path="url(#pc1c6d4e410)">
     <use href="#mfade8cf324" x="801.450038" y="678.181818" style="fill: #f7fbff; stroke: #1a1a1a; stroke-width: 1.4"/>
    </g>
   </g>
   <g id="line2d_297">
    <g clip-path="url(#pc1c6d4e410)">
     <use href="#m9a0cd1e2f2" x="496.566491" y="812.066116" style="fill: #00441b; stroke: #1a1a1a; stroke-width: 1.4"/>
    </g>
   </g>
   <g id="line2d_298">
    <g clip-path="url(#pc1c6d4e410)">
     <use href="#md52e552835" x="598.19434" y="782.31405" style="fill: #98d594; stroke: #1a1a1a; stroke-width: 1.4"/>
    </g>
   </g>
   <g id="line2d_299">
    <g clip-path="url(#pc1c6d4e410)">
     <use href="#mf10beee2e0" x="699.822189" y="742.31405" style="fill: #e5f5e0; stroke: #1a1a1a; stroke-width: 1.4"/>
    </g>
   </g>
   <g id="line2d_300">
    <g clip-path="url(#pc1c6d4e410)">
     <use href="#m7ed3d6ae24" x="801.450038" y="710.413223" style="fill: #f7fcf5; stroke: #1a1a1a; stroke-width: 1.4"/>
    </g>
   </g>
   <g id="legend_9">
    <g id="patch_49">
     <path d="M 488.532314 704.097725 
L 640.972314 704.097725 
Q 643.032314 704.097725 643.032314 702.037725 
L 643.032314 672.499256 
Q 643.032314 670.439256 640.972314 670.439256 
L 488.532314 670.439256 
Q 486.472314 670.439256 486.472314 672.499256 
L 486.472314 702.037725 
Q 486.472314 704.097725 488.532314 704.097725 
z
" style="fill: #ffffff; opacity: 0.8; stroke: #cccccc; stroke-linejoin: miter"/>
    </g>
    <g id="line2d_301">
     <path d="M 490.592314 679.091256 
L 500.892314 679.091256 
L 511.192314 679.091256 
" style="fill: none; stroke: #1f77b4; stroke-width: 1.5; stroke-linecap: square"/>
    </g>
    <g id="text_138">
     <g transform="translate(519.432314 682.696256)">
      <text>
       <tspan x="0" y="-0.125" style="font-size: 10.3px; font-family: 'DejaVu Sans'">V</tspan>
       <tspan x="7.011841" y="-0.125" style="font-size: 10.3px; font-family: 'DejaVu Sans'">e</tspan>
       <tspan x="13.317993" y="-0.125" style="font-size: 10.3px; font-family: 'DejaVu Sans'">l</tspan>
       <tspan x="16.165771" y="-0.125" style="font-size: 10.3px; font-family: 'DejaVu Sans'">o</tspan>
       <tspan x="22.43689" y="-0.125" style="font-size: 10.3px; font-family: 'DejaVu Sans'">c</tspan>
       <tspan x="28.072388" y="-0.125" style="font-size: 10.3px; font-family: 'DejaVu Sans'">i</tspan>
       <tspan x="30.920166" y="-0.125" style="font-size: 10.3px; font-family: 'DejaVu Sans'">t</tspan>
       <tspan x="34.939087" y="-0.125" style="font-size: 10.3px; font-family: 'DejaVu Sans'">y</tspan>
       <tspan x="41.005005" y="-0.125" style="font-size: 10.3px; font-family: 'DejaVu Sans'"> </tspan>
       <tspan x="44.263184" y="-0.125" style="font-size: 10.3px; font-family: 'DejaVu Sans'">e</tspan>
       <tspan x="50.569336" y="-0.125" style="font-size: 10.3px; font-family: 'DejaVu Sans'">r</tspan>
       <tspan x="54.783447" y="-0.125" style="font-size: 10.3px; font-family: 'DejaVu Sans'">r</tspan>
       <tspan x="58.997559" y="-0.125" style="font-size: 10.3px; font-family: 'DejaVu Sans'">o</tspan>
       <tspan x="65.268677" y="-0.125" style="font-size: 10.3px; font-family: 'DejaVu Sans'">r</tspan>
       <tspan x="69.482788" y="-0.125" style="font-size: 10.3px; font-family: 'DejaVu Sans'">:</tspan>
       <tspan x="72.936157" y="-0.125" style="font-size: 10.3px; font-family: 'DejaVu Sans'"> </tspan>
       <tspan x="76.194336" y="-0.125" style="font-size: 10.3px; font-family: 'Liberation Serif'">6</tspan>
       <tspan x="81.319336" y="-0.125" style="font-size: 10.3px; font-family: 'Liberation Serif'">.</tspan>
       <tspan x="83.881836" y="-0.125" style="font-size: 10.3px; font-family: 'Liberation Serif'">6</tspan>
       <tspan x="89.006836" y="-0.125" style="font-size: 10.3px; font-family: 'Liberation Serif'">4</tspan>
       <tspan x="94.131836" y="-0.125" style="font-style: italic; font-size: 10.3px; font-family: 'Liberation Serif'">ε</tspan>
       <tspan x="98.563433" y="-3.340625" style="font-size: 7.21px; font-family: 'Liberation Serif'">−</tspan>
       <tspan x="102.60988" y="-3.340625" style="font-size: 7.21px; font-family: 'Liberation Serif'">0</tspan>
       <tspan x="106.19738" y="-3.340625" style="font-size: 7.21px; font-family: 'Liberation Serif'">.</tspan>
       <tspan x="107.99113" y="-3.340625" style="font-size: 7.21px; font-family: 'Liberation Serif'">8</tspan>
       <tspan x="111.57863" y="-3.340625" style="font-size: 7.21px; font-family: 'Liberation Serif'">6</tspan>
      </text>
     </g>
    </g>
    <g id="line2d_302">
     <path d="M 490.592314 694.230647 
L 500.892314 694.230647 
L 511.192314 694.230647 
" style="fill: none; stroke: #2ca02c; stroke-width: 1.5; stroke-linecap: square"/>
    </g>
    <g id="text_139">
     <g transform="translate(519.432314 697.835647)">
      <text>
       <tspan x="0" y="-0.125" style="font-size: 10.3px; font-family: 'DejaVu Sans'">P</tspan>
       <tspan x="6.18103" y="-0.125" style="font-size: 10.3px; font-family: 'DejaVu Sans'">r</tspan>
       <tspan x="10.395142" y="-0.125" style="font-size: 10.3px; font-family: 'DejaVu Sans'">e</tspan>
       <tspan x="16.701294" y="-0.125" style="font-size: 10.3px; font-family: 'DejaVu Sans'">s</tspan>
       <tspan x="22.041504" y="-0.125" style="font-size: 10.3px; font-family: 'DejaVu Sans'">s</tspan>
       <tspan x="27.381714" y="-0.125" style="font-size: 10.3px; font-family: 'DejaVu Sans'">u</tspan>
       <tspan x="33.878052" y="-0.125" style="font-size: 10.3px; font-family: 'DejaVu Sans'">r</tspan>
       <tspan x="38.092163" y="-0.125" style="font-size: 10.3px; font-family: 'DejaVu Sans'">e</tspan>
       <tspan x="44.398315" y="-0.125" style="font-size: 10.3px; font-family: 'DejaVu Sans'"> </tspan>
       <tspan x="47.656494" y="-0.125" style="font-size: 10.3px; font-family: 'DejaVu Sans'">e</tspan>
       <tspan x="53.962646" y="-0.125" style="font-size: 10.3px; font-family: 'DejaVu Sans'">r</tspan>
       <tspan x="58.176758" y="-0.125" style="font-size: 10.3px; font-family: 'DejaVu Sans'">r</tspan>
       <tspan x="62.390869" y="-0.125" style="font-size: 10.3px; font-family: 'DejaVu Sans'">o</tspan>
       <tspan x="68.661987" y="-0.125" style="font-size: 10.3px; font-family: 'DejaVu Sans'">r</tspan>
       <tspan x="72.876099" y="-0.125" style="font-size: 10.3px; font-family: 'DejaVu Sans'">:</tspan>
       <tspan x="76.329468" y="-0.125" style="font-size: 10.3px; font-family: 'DejaVu Sans'"> </tspan>
       <tspan x="79.587646" y="-0.125" style="font-size: 10.3px; font-family: 'Liberation Serif'">3</tspan>
       <tspan x="84.712646" y="-0.125" style="font-size: 10.3px; font-family: 'Liberation Serif'">.</tspan>
       <tspan x="87.275146" y="-0.125" style="font-size: 10.3px; font-family: 'Liberation Serif'">5</tspan>
       <tspan x="92.400146" y="-0.125" style="font-size: 10.3px; font-family: 'Liberation Serif'">5</tspan>
       <tspan x="97.525146" y="-0.125" style="font-style: italic; font-size: 10.3px; font-family: 'Liberation Serif'">ε</tspan>
       <tspan x="101.956743" y="-3.340625" style="font-size: 7.21px; font-family: 'Liberation Serif'">−</tspan>
       <tspan x="106.003191" y="-3.340625" style="font-size: 7.21px; font-family: 'Liberation Serif'">0</tspan>
       <tspan x="109.590691" y="-3.340625" style="font-size: 7.21px; font-family: 'Liberation Serif'">.</tspan>
       <tspan x="111.384441" y="-3.340625" style="font-size: 7.21px; font-family: 'Liberation Serif'">9</tspan>
       <tspan x="114.971941" y="-3.340625" style="font-size: 7.21px; font-family: 'Liberation Serif'">8</tspan>
      </text>
     </g>
    </g>
   </g>
  </g>
  <g id="axes_10">
   <g id="matplotlib.axis_18">
    <g id="ytick_72">
     <g id="line2d_303">
      <g>
       <use href="#mc2ea4ba5e5" x="816.694215" y="792.461225" style="stroke: #000000; stroke-width: 0.9"/>
      </g>
     </g>
     <g id="text_140">
      <g transform="translate(823.694215 796.37442)">
       <text>
        <tspan x="0" y="-0.064063" style="font-size: 10.3px; font-family: 'DejaVu Sans'">1</tspan>
        <tspan x="6.521362" y="-0.064063" style="font-size: 10.3px; font-family: 'DejaVu Sans'">0</tspan>
        <tspan x="13.138428" y="-3.892188" style="font-size: 7.21px; font-family: 'Liberation Serif'">-</tspan>
        <tspan x="15.527759" y="-3.892188" style="font-size: 7.21px; font-family: 'DejaVu Sans'">4</tspan>
       </text>
      </g>
     </g>
    </g>
    <g id="ytick_73">
     <g id="line2d_304">
      <g>
       <use href="#mc2ea4ba5e5" x="816.694215" y="665.289256" style="stroke: #000000; stroke-width: 0.9"/>
      </g>
     </g>
     <g id="text_141">
      <g transform="translate(823.694215 669.202452)">
       <text>
        <tspan x="0" y="-0.976562" style="font-size: 10.3px; font-family: 'DejaVu Sans'">1</tspan>
        <tspan x="6.521362" y="-0.976562" style="font-size: 10.3px; font-family: 'DejaVu Sans'">0</tspan>
        <tspan x="13.138428" y="-4.804688" style="font-size: 7.21px; font-family: 'Liberation Serif'">-</tspan>
        <tspan x="15.527759" y="-4.804688" style="font-size: 7.21px; font-family: 'DejaVu Sans'">3</tspan>
       </text>
      </g>
     </g>
    </g>
    <g id="ytick_74">
     <g id="line2d_305">
      <g>
       <use href="#m4655f18b3a" x="816.694215" y="830.743802" style="stroke: #000000; stroke-width: 0.8"/>
      </g>
     </g>
    </g>
    <g id="ytick_75">
     <g id="line2d_306">
      <g>
       <use href="#m4655f18b3a" x="816.694215" y="820.674167" style="stroke: #000000; stroke-width: 0.8"/>
      </g>
     </g>
    </g>
    <g id="ytick_76">
     <g id="line2d_307">
      <g>
       <use href="#m4655f18b3a" x="816.694215" y="812.160412" style="stroke: #000000; stroke-width: 0.8"/>
      </g>
     </g>
    </g>
    <g id="ytick_77">
     <g id="line2d_308">
      <g>
       <use href="#m4655f18b3a" x="816.694215" y="804.785462" style="stroke: #000000; stroke-width: 0.8"/>
      </g>
     </g>
    </g>
    <g id="ytick_78">
     <g id="line2d_309">
      <g>
       <use href="#m4655f18b3a" x="816.694215" y="798.280295" style="stroke: #000000; stroke-width: 0.8"/>
      </g>
     </g>
    </g>
    <g id="ytick_79">
     <g id="line2d_310">
      <g>
       <use href="#m4655f18b3a" x="816.694215" y="754.178647" style="stroke: #000000; stroke-width: 0.8"/>
      </g>
     </g>
    </g>
    <g id="ytick_80">
     <g id="line2d_311">
      <g>
       <use href="#m4655f18b3a" x="816.694215" y="731.784775" style="stroke: #000000; stroke-width: 0.8"/>
      </g>
     </g>
    </g>
    <g id="ytick_81">
     <g id="line2d_312">
      <g>
       <use href="#m4655f18b3a" x="816.694215" y="715.89607" style="stroke: #000000; stroke-width: 0.8"/>
      </g>
     </g>
    </g>
    <g id="ytick_82">
     <g id="line2d_313">
      <g>
       <use href="#m4655f18b3a" x="816.694215" y="703.571833" style="stroke: #000000; stroke-width: 0.8"/>
      </g>
     </g>
    </g>
    <g id="ytick_83">
     <g id="line2d_314">
      <g>
       <use href="#m4655f18b3a" x="816.694215" y="693.502198" style="stroke: #000000; stroke-width: 0.8"/>
      </g>
     </g>
    </g>
    <g id="ytick_84">
     <g id="line2d_315">
      <g>
       <use href="#m4655f18b3a" x="816.694215" y="684.988443" style="stroke: #000000; stroke-width: 0.8"/>
      </g>
     </g>
    </g>
    <g id="ytick_85">
     <g id="line2d_316">
      <g>
       <use href="#m4655f18b3a" x="816.694215" y="677.613493" style="stroke: #000000; stroke-width: 0.8"/>
      </g>
     </g>
    </g>
    <g id="ytick_86">
     <g id="line2d_317">
      <g>
       <use href="#m4655f18b3a" x="816.694215" y="671.108326" style="stroke: #000000; stroke-width: 0.8"/>
      </g>
     </g>
    </g>
    <g id="text_142">
     <text style="font-size: 10.3px; font-family: 'DejaVu Sans'; text-anchor: middle" x="855.317606" y="748.016529" transform="rotate(-90 855.317606 748.016529)">L2 error (Density)</text>
    </g>
   </g>
   <g id="patch_50">
    <path d="M 816.694215 830.743802 
L 816.694215 665.289256 
" style="fill: none; stroke: #000000; stroke-width: 0.9; stroke-linejoin: miter; stroke-linecap: square"/>
   </g>
   <g id="line2d_318">
    <path d="M 496.566491 821.008264 
L 598.19434 798.545455 
L 699.822189 776.082645 
L 801.450038 753.619835 
" clip-path="url(#pc1c6d4e410)" style="fill: none; stroke: #ff7f0e; stroke-width: 1.5; stroke-linecap: square"/>
   </g>
   <g id="line2d_319">
    <g clip-path="url(#pc1c6d4e410)">
     <use href="#md43c1c0ea8" x="496.566491" y="820.165289" style="fill: #7f2704; stroke: #1a1a1a; stroke-width: 1.4"/>
    </g>
   </g>
   <g id="line2d_320">
    <g clip-path="url(#pc1c6d4e410)">
     <use href="#m207c231192" x="598.19434" y="800" style="fill: #fda762; stroke: #1a1a1a; stroke-width: 1.4"/>
    </g>
   </g>
   <g id="line2d_321">
    <g clip-path="url(#pc1c6d4e410)">
     <use href="#mac7db9e639" x="699.822189" y="775.702479" style="fill: #fee6ce; stroke: #1a1a1a; stroke-width: 1.4"/>
    </g>
   </g>
   <g id="line2d_322">
    <g clip-path="url(#pc1c6d4e410)">
     <use href="#ma46beaaf92" x="801.450038" y="753.38843" style="fill: #fff5eb; stroke: #1a1a1a; stroke-width: 1.4"/>
    </g>
   </g>
   <g id="legend_10">
    <g id="patch_51">
     <path d="M 647.053215 825.593802 
L 809.484215 825.593802 
Q 811.544215 825.593802 811.544215 823.533802 
L 811.544215 809.113802 
Q 811.544215 807.053802 809.484215 807.053802 
L 647.053215 807.053802 
Q 644.993215 807.053802 644.993215 809.113802 
L 644.993215 823.533802 
Q 644.993215 825.593802 647.053215 825.593802 
z
" style="fill: #ffffff; opacity: 0.8; stroke: #cccccc; stroke-linejoin: miter"/>
    </g>
    <g id="line2d_323">
     <path d="M 649.113215 815.705802 
L 659.413215 815.705802 
L 669.713215 815.705802 
" style="fill: none; stroke: #ff7f0e; stroke-width: 1.5; stroke-linecap: square"/>
    </g>
    <g id="text_143">
     <g transform="translate(677.953215 819.310802)">
      <text>
       <tspan x="0" y="-0.125" style="font-size: 10.3px; font-family: 'DejaVu Sans'">D</tspan>
       <tspan x="7.8927" y="-0.125" style="font-size: 10.3px; font-family: 'DejaVu Sans'">e</tspan>
       <tspan x="14.198853" y="-0.125" style="font-size: 10.3px; font-family: 'DejaVu Sans'">n</tspan>
       <tspan x="20.69519" y="-0.125" style="font-size: 10.3px; font-family: 'DejaVu Sans'">s</tspan>
       <tspan x="26.0354" y="-0.125" style="font-size: 10.3px; font-family: 'DejaVu Sans'">i</tspan>
       <tspan x="28.883179" y="-0.125" style="font-size: 10.3px; font-family: 'DejaVu Sans'">t</tspan>
       <tspan x="32.9021" y="-0.125" style="font-size: 10.3px; font-family: 'DejaVu Sans'">y</tspan>
       <tspan x="38.968018" y="-0.125" style="font-size: 10.3px; font-family: 'DejaVu Sans'"> </tspan>
       <tspan x="42.226196" y="-0.125" style="font-size: 10.3px; font-family: 'DejaVu Sans'">e</tspan>
       <tspan x="48.532349" y="-0.125" style="font-size: 10.3px; font-family: 'DejaVu Sans'">r</tspan>
       <tspan x="52.74646" y="-0.125" style="font-size: 10.3px; font-family: 'DejaVu Sans'">r</tspan>
       <tspan x="56.960571" y="-0.125" style="font-size: 10.3px; font-family: 'DejaVu Sans'">o</tspan>
       <tspan x="63.231689" y="-0.125" style="font-size: 10.3px; font-family: 'DejaVu Sans'">r</tspan>
       <tspan x="67.445801" y="-0.125" style="font-size: 10.3px; font-family: 'DejaVu Sans'">:</tspan>
       <tspan x="70.89917" y="-0.125" style="font-size: 10.3px; font-family: 'DejaVu Sans'"> </tspan>
       <tspan x="74.157349" y="-0.125" style="font-size: 10.3px; font-family: 'Liberation Serif'">0</tspan>
       <tspan x="79.282349" y="-0.125" style="font-size: 10.3px; font-family: 'Liberation Serif'">.</tspan>
       <tspan x="81.844849" y="-0.125" style="font-size: 10.3px; font-family: 'Liberation Serif'">0</tspan>
       <tspan x="86.969849" y="-0.125" style="font-size: 10.3px; font-family: 'Liberation Serif'">0</tspan>
       <tspan x="92.094849" y="-0.125" style="font-size: 10.3px; font-family: 'Liberation Serif'">2</tspan>
       <tspan x="97.219849" y="-0.125" style="font-size: 10.3px; font-family: 'Liberation Serif'">3</tspan>
       <tspan x="102.344849" y="-0.125" style="font-size: 10.3px; font-family: 'Liberation Serif'">5</tspan>
       <tspan x="107.469849" y="-0.125" style="font-style: italic; font-size: 10.3px; font-family: 'Liberation Serif'">ε</tspan>
       <tspan x="111.901445" y="-3.340625" style="font-size: 7.21px; font-family: 'Liberation Serif'">−</tspan>
       <tspan x="115.947893" y="-3.340625" style="font-size: 7.21px; font-family: 'Liberation Serif'">0</tspan>
       <tspan x="119.535393" y="-3.340625" style="font-size: 7.21px; font-family: 'Liberation Serif'">.</tspan>
       <tspan x="121.329143" y="-3.340625" style="font-size: 7.21px; font-family: 'Liberation Serif'">5</tspan>
       <tspan x="124.916643" y="-3.340625" style="font-size: 7.21px; font-family: 'Liberation Serif'">3</tspan>
      </text>
     </g>
    </g>
   </g>
  </g>
  <g id="capa">
   <text style="font-size: 15.371901px; font-family: 'Liberation Serif'; text-anchor: middle" x="434.710744" y="426.446281" transform="rotate(-0 434.710744 426.446281)">(a)</text>
  </g>
  <g id="capb">
   <text style="font-size: 15.371901px; font-family: 'Liberation Serif'; text-anchor: middle" x="436.694215" y="880.661157" transform="rotate(-0 436.694215 880.661157)">(b)</text>
  </g>
 </g>
 <defs>
  <clipPath id="p1c1cfca3de">
   <rect x="66.77686" y="0.909091" width="335.53719" height="167.520661"/>
  </clipPath>
  <clipPath id="p48ea57be88">
   <rect x="480.661157" y="0.909091" width="336.198347" height="167.520661"/>
  </clipPath>
  <clipPath id="p0f9e4aae6c">
   <rect x="66.77686" y="213.884298" width="335.53719" height="168.429752"/>
  </clipPath>
  <clipPath id="p9d04092b43">
   <rect x="480.661157" y="213.884298" width="336.528926" height="168.099174"/>
  </clipPath>
  <clipPath id="pbaa308bbbb">
   <rect x="480.661157" y="213.884298" width="336.528926" height="168.099174"/>
  </clipPath>
  <clipPath id="p0a92d3069b">
   <rect x="66.77686" y="448.429752" width="335.53719" height="165.785124"/>
  </clipPath>
  <clipPath id="p22f9820ee6">
   <rect x="481.322314" y="448.429752" width="335.371901" height="165.785124"/>
  </clipPath>
  <clipPath id="p979d3e3b76">
   <rect x="66.61157" y="665.289256" width="335.702479" height="165.454545"/>
  </clipPath>
  <clipPath id="pc1c6d4e410">
   <rect x="481.322314" y="665.289256" width="335.371901" height="165.454545"/>
  </clipPath>
 </defs>
</svg>
</div>
</body></html>
